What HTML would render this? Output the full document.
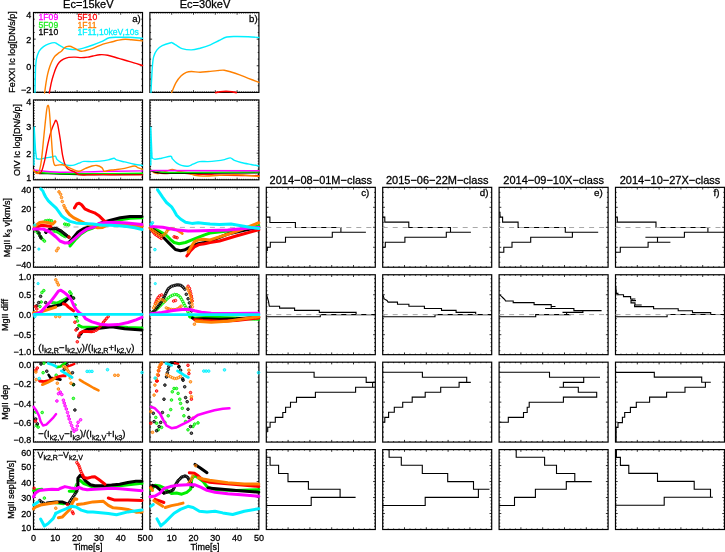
<!DOCTYPE html>
<html><head><meta charset="utf-8"><title>plot</title><style>html,body{margin:0;padding:0;background:#fff;}svg{display:block;}</style></head><body>
<svg width="725" height="552" viewBox="0 0 725 552" font-family="'Liberation Sans', Arial, Helvetica, sans-serif">
<style>text{stroke:currentColor;stroke-width:0.28px;}</style>
<rect width="725" height="552" fill="#fff"/>
<path d="M33.5 19.16h1.2 M142.5 19.16h-1.2 M33.5 25.82h1.2 M142.5 25.82h-1.2 M33.5 32.48h1.2 M142.5 32.48h-1.2 M33.5 39.13h2.2 M142.5 39.13h-2.2 M33.5 45.79h1.2 M142.5 45.79h-1.2 M33.5 52.45h1.2 M142.5 52.45h-1.2 M33.5 59.11h1.2 M142.5 59.11h-1.2 M33.5 65.77h2.2 M142.5 65.77h-2.2 M33.5 72.43h1.2 M142.5 72.43h-1.2 M33.5 79.08h1.2 M142.5 79.08h-1.2 M33.5 85.74h1.2 M142.5 85.74h-1.2 M35.68 12.5v1 M35.68 92.4v-1 M37.86 12.5v1 M37.86 92.4v-1 M40.04 12.5v1 M40.04 92.4v-1 M42.22 12.5v1 M42.22 92.4v-1 M44.4 12.5v1 M44.4 92.4v-1 M46.58 12.5v1 M46.58 92.4v-1 M48.76 12.5v1 M48.76 92.4v-1 M50.94 12.5v1 M50.94 92.4v-1 M53.12 12.5v1 M53.12 92.4v-1 M55.3 12.5v2.2 M55.3 92.4v-2.2 M57.48 12.5v1 M57.48 92.4v-1 M59.66 12.5v1 M59.66 92.4v-1 M61.84 12.5v1 M61.84 92.4v-1 M64.02 12.5v1 M64.02 92.4v-1 M66.2 12.5v1 M66.2 92.4v-1 M68.38 12.5v1 M68.38 92.4v-1 M70.56 12.5v1 M70.56 92.4v-1 M72.74 12.5v1 M72.74 92.4v-1 M74.92 12.5v1 M74.92 92.4v-1 M77.1 12.5v2.2 M77.1 92.4v-2.2 M79.28 12.5v1 M79.28 92.4v-1 M81.46 12.5v1 M81.46 92.4v-1 M83.64 12.5v1 M83.64 92.4v-1 M85.82 12.5v1 M85.82 92.4v-1 M88 12.5v1 M88 92.4v-1 M90.18 12.5v1 M90.18 92.4v-1 M92.36 12.5v1 M92.36 92.4v-1 M94.54 12.5v1 M94.54 92.4v-1 M96.72 12.5v1 M96.72 92.4v-1 M98.9 12.5v2.2 M98.9 92.4v-2.2 M101.08 12.5v1 M101.08 92.4v-1 M103.26 12.5v1 M103.26 92.4v-1 M105.44 12.5v1 M105.44 92.4v-1 M107.62 12.5v1 M107.62 92.4v-1 M109.8 12.5v1 M109.8 92.4v-1 M111.98 12.5v1 M111.98 92.4v-1 M114.16 12.5v1 M114.16 92.4v-1 M116.34 12.5v1 M116.34 92.4v-1 M118.52 12.5v1 M118.52 92.4v-1 M120.7 12.5v2.2 M120.7 92.4v-2.2 M122.88 12.5v1 M122.88 92.4v-1 M125.06 12.5v1 M125.06 92.4v-1 M127.24 12.5v1 M127.24 92.4v-1 M129.42 12.5v1 M129.42 92.4v-1 M131.6 12.5v1 M131.6 92.4v-1 M133.78 12.5v1 M133.78 92.4v-1 M135.96 12.5v1 M135.96 92.4v-1 M138.14 12.5v1 M138.14 92.4v-1 M140.32 12.5v1 M140.32 92.4v-1" stroke="#000" stroke-width="0.8" fill="none"/>
<rect x="33.5" y="12.5" width="109" height="79.9" fill="none" stroke="#000" stroke-width="1.2"/>
<path d="M149.9 19.16h1.2 M258.9 19.16h-1.2 M149.9 25.82h1.2 M258.9 25.82h-1.2 M149.9 32.48h1.2 M258.9 32.48h-1.2 M149.9 39.13h2.2 M258.9 39.13h-2.2 M149.9 45.79h1.2 M258.9 45.79h-1.2 M149.9 52.45h1.2 M258.9 52.45h-1.2 M149.9 59.11h1.2 M258.9 59.11h-1.2 M149.9 65.77h2.2 M258.9 65.77h-2.2 M149.9 72.43h1.2 M258.9 72.43h-1.2 M149.9 79.08h1.2 M258.9 79.08h-1.2 M149.9 85.74h1.2 M258.9 85.74h-1.2 M152.08 12.5v1 M152.08 92.4v-1 M154.26 12.5v1 M154.26 92.4v-1 M156.44 12.5v1 M156.44 92.4v-1 M158.62 12.5v1 M158.62 92.4v-1 M160.8 12.5v1 M160.8 92.4v-1 M162.98 12.5v1 M162.98 92.4v-1 M165.16 12.5v1 M165.16 92.4v-1 M167.34 12.5v1 M167.34 92.4v-1 M169.52 12.5v1 M169.52 92.4v-1 M171.7 12.5v2.2 M171.7 92.4v-2.2 M173.88 12.5v1 M173.88 92.4v-1 M176.06 12.5v1 M176.06 92.4v-1 M178.24 12.5v1 M178.24 92.4v-1 M180.42 12.5v1 M180.42 92.4v-1 M182.6 12.5v1 M182.6 92.4v-1 M184.78 12.5v1 M184.78 92.4v-1 M186.96 12.5v1 M186.96 92.4v-1 M189.14 12.5v1 M189.14 92.4v-1 M191.32 12.5v1 M191.32 92.4v-1 M193.5 12.5v2.2 M193.5 92.4v-2.2 M195.68 12.5v1 M195.68 92.4v-1 M197.86 12.5v1 M197.86 92.4v-1 M200.04 12.5v1 M200.04 92.4v-1 M202.22 12.5v1 M202.22 92.4v-1 M204.4 12.5v1 M204.4 92.4v-1 M206.58 12.5v1 M206.58 92.4v-1 M208.76 12.5v1 M208.76 92.4v-1 M210.94 12.5v1 M210.94 92.4v-1 M213.12 12.5v1 M213.12 92.4v-1 M215.3 12.5v2.2 M215.3 92.4v-2.2 M217.48 12.5v1 M217.48 92.4v-1 M219.66 12.5v1 M219.66 92.4v-1 M221.84 12.5v1 M221.84 92.4v-1 M224.02 12.5v1 M224.02 92.4v-1 M226.2 12.5v1 M226.2 92.4v-1 M228.38 12.5v1 M228.38 92.4v-1 M230.56 12.5v1 M230.56 92.4v-1 M232.74 12.5v1 M232.74 92.4v-1 M234.92 12.5v1 M234.92 92.4v-1 M237.1 12.5v2.2 M237.1 92.4v-2.2 M239.28 12.5v1 M239.28 92.4v-1 M241.46 12.5v1 M241.46 92.4v-1 M243.64 12.5v1 M243.64 92.4v-1 M245.82 12.5v1 M245.82 92.4v-1 M248 12.5v1 M248 92.4v-1 M250.18 12.5v1 M250.18 92.4v-1 M252.36 12.5v1 M252.36 92.4v-1 M254.54 12.5v1 M254.54 92.4v-1 M256.72 12.5v1 M256.72 92.4v-1" stroke="#000" stroke-width="0.8" fill="none"/>
<rect x="149.9" y="12.5" width="109" height="79.9" fill="none" stroke="#000" stroke-width="1.2"/>
<path d="M33.5 102.58h1.2 M142.5 102.58h-1.2 M33.5 105.25h1.2 M142.5 105.25h-1.2 M33.5 107.91h1.2 M142.5 107.91h-1.2 M33.5 110.57h1.2 M142.5 110.57h-1.2 M33.5 113.24h1.2 M142.5 113.24h-1.2 M33.5 115.9h1.2 M142.5 115.9h-1.2 M33.5 118.56h1.2 M142.5 118.56h-1.2 M33.5 121.23h1.2 M142.5 121.23h-1.2 M33.5 123.89h1.2 M142.5 123.89h-1.2 M33.5 126.55h2.2 M142.5 126.55h-2.2 M33.5 129.22h1.2 M142.5 129.22h-1.2 M33.5 131.88h1.2 M142.5 131.88h-1.2 M33.5 134.54h1.2 M142.5 134.54h-1.2 M33.5 137.21h1.2 M142.5 137.21h-1.2 M33.5 139.87h1.2 M142.5 139.87h-1.2 M33.5 142.53h1.2 M142.5 142.53h-1.2 M33.5 145.2h1.2 M142.5 145.2h-1.2 M33.5 147.86h1.2 M142.5 147.86h-1.2 M33.5 150.52h1.2 M142.5 150.52h-1.2 M33.5 153.19h2.2 M142.5 153.19h-2.2 M33.5 155.85h1.2 M142.5 155.85h-1.2 M33.5 158.51h1.2 M142.5 158.51h-1.2 M33.5 161.18h1.2 M142.5 161.18h-1.2 M33.5 163.84h1.2 M142.5 163.84h-1.2 M33.5 166.5h1.2 M142.5 166.5h-1.2 M33.5 169.17h1.2 M142.5 169.17h-1.2 M33.5 171.83h1.2 M142.5 171.83h-1.2 M33.5 174.49h1.2 M142.5 174.49h-1.2 M33.5 177.16h1.2 M142.5 177.16h-1.2 M35.68 99.92v1 M35.68 179.82v-1 M37.86 99.92v1 M37.86 179.82v-1 M40.04 99.92v1 M40.04 179.82v-1 M42.22 99.92v1 M42.22 179.82v-1 M44.4 99.92v1 M44.4 179.82v-1 M46.58 99.92v1 M46.58 179.82v-1 M48.76 99.92v1 M48.76 179.82v-1 M50.94 99.92v1 M50.94 179.82v-1 M53.12 99.92v1 M53.12 179.82v-1 M55.3 99.92v2.2 M55.3 179.82v-2.2 M57.48 99.92v1 M57.48 179.82v-1 M59.66 99.92v1 M59.66 179.82v-1 M61.84 99.92v1 M61.84 179.82v-1 M64.02 99.92v1 M64.02 179.82v-1 M66.2 99.92v1 M66.2 179.82v-1 M68.38 99.92v1 M68.38 179.82v-1 M70.56 99.92v1 M70.56 179.82v-1 M72.74 99.92v1 M72.74 179.82v-1 M74.92 99.92v1 M74.92 179.82v-1 M77.1 99.92v2.2 M77.1 179.82v-2.2 M79.28 99.92v1 M79.28 179.82v-1 M81.46 99.92v1 M81.46 179.82v-1 M83.64 99.92v1 M83.64 179.82v-1 M85.82 99.92v1 M85.82 179.82v-1 M88 99.92v1 M88 179.82v-1 M90.18 99.92v1 M90.18 179.82v-1 M92.36 99.92v1 M92.36 179.82v-1 M94.54 99.92v1 M94.54 179.82v-1 M96.72 99.92v1 M96.72 179.82v-1 M98.9 99.92v2.2 M98.9 179.82v-2.2 M101.08 99.92v1 M101.08 179.82v-1 M103.26 99.92v1 M103.26 179.82v-1 M105.44 99.92v1 M105.44 179.82v-1 M107.62 99.92v1 M107.62 179.82v-1 M109.8 99.92v1 M109.8 179.82v-1 M111.98 99.92v1 M111.98 179.82v-1 M114.16 99.92v1 M114.16 179.82v-1 M116.34 99.92v1 M116.34 179.82v-1 M118.52 99.92v1 M118.52 179.82v-1 M120.7 99.92v2.2 M120.7 179.82v-2.2 M122.88 99.92v1 M122.88 179.82v-1 M125.06 99.92v1 M125.06 179.82v-1 M127.24 99.92v1 M127.24 179.82v-1 M129.42 99.92v1 M129.42 179.82v-1 M131.6 99.92v1 M131.6 179.82v-1 M133.78 99.92v1 M133.78 179.82v-1 M135.96 99.92v1 M135.96 179.82v-1 M138.14 99.92v1 M138.14 179.82v-1 M140.32 99.92v1 M140.32 179.82v-1" stroke="#000" stroke-width="0.8" fill="none"/>
<rect x="33.5" y="99.92" width="109" height="79.9" fill="none" stroke="#000" stroke-width="1.2"/>
<path d="M149.9 102.58h1.2 M258.9 102.58h-1.2 M149.9 105.25h1.2 M258.9 105.25h-1.2 M149.9 107.91h1.2 M258.9 107.91h-1.2 M149.9 110.57h1.2 M258.9 110.57h-1.2 M149.9 113.24h1.2 M258.9 113.24h-1.2 M149.9 115.9h1.2 M258.9 115.9h-1.2 M149.9 118.56h1.2 M258.9 118.56h-1.2 M149.9 121.23h1.2 M258.9 121.23h-1.2 M149.9 123.89h1.2 M258.9 123.89h-1.2 M149.9 126.55h2.2 M258.9 126.55h-2.2 M149.9 129.22h1.2 M258.9 129.22h-1.2 M149.9 131.88h1.2 M258.9 131.88h-1.2 M149.9 134.54h1.2 M258.9 134.54h-1.2 M149.9 137.21h1.2 M258.9 137.21h-1.2 M149.9 139.87h1.2 M258.9 139.87h-1.2 M149.9 142.53h1.2 M258.9 142.53h-1.2 M149.9 145.2h1.2 M258.9 145.2h-1.2 M149.9 147.86h1.2 M258.9 147.86h-1.2 M149.9 150.52h1.2 M258.9 150.52h-1.2 M149.9 153.19h2.2 M258.9 153.19h-2.2 M149.9 155.85h1.2 M258.9 155.85h-1.2 M149.9 158.51h1.2 M258.9 158.51h-1.2 M149.9 161.18h1.2 M258.9 161.18h-1.2 M149.9 163.84h1.2 M258.9 163.84h-1.2 M149.9 166.5h1.2 M258.9 166.5h-1.2 M149.9 169.17h1.2 M258.9 169.17h-1.2 M149.9 171.83h1.2 M258.9 171.83h-1.2 M149.9 174.49h1.2 M258.9 174.49h-1.2 M149.9 177.16h1.2 M258.9 177.16h-1.2 M152.08 99.92v1 M152.08 179.82v-1 M154.26 99.92v1 M154.26 179.82v-1 M156.44 99.92v1 M156.44 179.82v-1 M158.62 99.92v1 M158.62 179.82v-1 M160.8 99.92v1 M160.8 179.82v-1 M162.98 99.92v1 M162.98 179.82v-1 M165.16 99.92v1 M165.16 179.82v-1 M167.34 99.92v1 M167.34 179.82v-1 M169.52 99.92v1 M169.52 179.82v-1 M171.7 99.92v2.2 M171.7 179.82v-2.2 M173.88 99.92v1 M173.88 179.82v-1 M176.06 99.92v1 M176.06 179.82v-1 M178.24 99.92v1 M178.24 179.82v-1 M180.42 99.92v1 M180.42 179.82v-1 M182.6 99.92v1 M182.6 179.82v-1 M184.78 99.92v1 M184.78 179.82v-1 M186.96 99.92v1 M186.96 179.82v-1 M189.14 99.92v1 M189.14 179.82v-1 M191.32 99.92v1 M191.32 179.82v-1 M193.5 99.92v2.2 M193.5 179.82v-2.2 M195.68 99.92v1 M195.68 179.82v-1 M197.86 99.92v1 M197.86 179.82v-1 M200.04 99.92v1 M200.04 179.82v-1 M202.22 99.92v1 M202.22 179.82v-1 M204.4 99.92v1 M204.4 179.82v-1 M206.58 99.92v1 M206.58 179.82v-1 M208.76 99.92v1 M208.76 179.82v-1 M210.94 99.92v1 M210.94 179.82v-1 M213.12 99.92v1 M213.12 179.82v-1 M215.3 99.92v2.2 M215.3 179.82v-2.2 M217.48 99.92v1 M217.48 179.82v-1 M219.66 99.92v1 M219.66 179.82v-1 M221.84 99.92v1 M221.84 179.82v-1 M224.02 99.92v1 M224.02 179.82v-1 M226.2 99.92v1 M226.2 179.82v-1 M228.38 99.92v1 M228.38 179.82v-1 M230.56 99.92v1 M230.56 179.82v-1 M232.74 99.92v1 M232.74 179.82v-1 M234.92 99.92v1 M234.92 179.82v-1 M237.1 99.92v2.2 M237.1 179.82v-2.2 M239.28 99.92v1 M239.28 179.82v-1 M241.46 99.92v1 M241.46 179.82v-1 M243.64 99.92v1 M243.64 179.82v-1 M245.82 99.92v1 M245.82 179.82v-1 M248 99.92v1 M248 179.82v-1 M250.18 99.92v1 M250.18 179.82v-1 M252.36 99.92v1 M252.36 179.82v-1 M254.54 99.92v1 M254.54 179.82v-1 M256.72 99.92v1 M256.72 179.82v-1" stroke="#000" stroke-width="0.8" fill="none"/>
<rect x="149.9" y="99.92" width="109" height="79.9" fill="none" stroke="#000" stroke-width="1.2"/>
<path d="M33.5 192.33h1.2 M142.5 192.33h-1.2 M33.5 197.33h1.2 M142.5 197.33h-1.2 M33.5 202.32h1.2 M142.5 202.32h-1.2 M33.5 207.31h2.2 M142.5 207.31h-2.2 M33.5 212.31h1.2 M142.5 212.31h-1.2 M33.5 217.3h1.2 M142.5 217.3h-1.2 M33.5 222.3h1.2 M142.5 222.3h-1.2 M33.5 227.29h2.2 M142.5 227.29h-2.2 M33.5 232.28h1.2 M142.5 232.28h-1.2 M33.5 237.28h1.2 M142.5 237.28h-1.2 M33.5 242.27h1.2 M142.5 242.27h-1.2 M33.5 247.27h2.2 M142.5 247.27h-2.2 M33.5 252.26h1.2 M142.5 252.26h-1.2 M33.5 257.25h1.2 M142.5 257.25h-1.2 M33.5 262.25h1.2 M142.5 262.25h-1.2 M35.68 187.34v1 M35.68 267.24v-1 M37.86 187.34v1 M37.86 267.24v-1 M40.04 187.34v1 M40.04 267.24v-1 M42.22 187.34v1 M42.22 267.24v-1 M44.4 187.34v1 M44.4 267.24v-1 M46.58 187.34v1 M46.58 267.24v-1 M48.76 187.34v1 M48.76 267.24v-1 M50.94 187.34v1 M50.94 267.24v-1 M53.12 187.34v1 M53.12 267.24v-1 M55.3 187.34v2.2 M55.3 267.24v-2.2 M57.48 187.34v1 M57.48 267.24v-1 M59.66 187.34v1 M59.66 267.24v-1 M61.84 187.34v1 M61.84 267.24v-1 M64.02 187.34v1 M64.02 267.24v-1 M66.2 187.34v1 M66.2 267.24v-1 M68.38 187.34v1 M68.38 267.24v-1 M70.56 187.34v1 M70.56 267.24v-1 M72.74 187.34v1 M72.74 267.24v-1 M74.92 187.34v1 M74.92 267.24v-1 M77.1 187.34v2.2 M77.1 267.24v-2.2 M79.28 187.34v1 M79.28 267.24v-1 M81.46 187.34v1 M81.46 267.24v-1 M83.64 187.34v1 M83.64 267.24v-1 M85.82 187.34v1 M85.82 267.24v-1 M88 187.34v1 M88 267.24v-1 M90.18 187.34v1 M90.18 267.24v-1 M92.36 187.34v1 M92.36 267.24v-1 M94.54 187.34v1 M94.54 267.24v-1 M96.72 187.34v1 M96.72 267.24v-1 M98.9 187.34v2.2 M98.9 267.24v-2.2 M101.08 187.34v1 M101.08 267.24v-1 M103.26 187.34v1 M103.26 267.24v-1 M105.44 187.34v1 M105.44 267.24v-1 M107.62 187.34v1 M107.62 267.24v-1 M109.8 187.34v1 M109.8 267.24v-1 M111.98 187.34v1 M111.98 267.24v-1 M114.16 187.34v1 M114.16 267.24v-1 M116.34 187.34v1 M116.34 267.24v-1 M118.52 187.34v1 M118.52 267.24v-1 M120.7 187.34v2.2 M120.7 267.24v-2.2 M122.88 187.34v1 M122.88 267.24v-1 M125.06 187.34v1 M125.06 267.24v-1 M127.24 187.34v1 M127.24 267.24v-1 M129.42 187.34v1 M129.42 267.24v-1 M131.6 187.34v1 M131.6 267.24v-1 M133.78 187.34v1 M133.78 267.24v-1 M135.96 187.34v1 M135.96 267.24v-1 M138.14 187.34v1 M138.14 267.24v-1 M140.32 187.34v1 M140.32 267.24v-1" stroke="#000" stroke-width="0.8" fill="none"/>
<rect x="33.5" y="187.34" width="109" height="79.9" fill="none" stroke="#000" stroke-width="1.2"/>
<path d="M149.9 192.33h1.2 M258.9 192.33h-1.2 M149.9 197.33h1.2 M258.9 197.33h-1.2 M149.9 202.32h1.2 M258.9 202.32h-1.2 M149.9 207.31h2.2 M258.9 207.31h-2.2 M149.9 212.31h1.2 M258.9 212.31h-1.2 M149.9 217.3h1.2 M258.9 217.3h-1.2 M149.9 222.3h1.2 M258.9 222.3h-1.2 M149.9 227.29h2.2 M258.9 227.29h-2.2 M149.9 232.28h1.2 M258.9 232.28h-1.2 M149.9 237.28h1.2 M258.9 237.28h-1.2 M149.9 242.27h1.2 M258.9 242.27h-1.2 M149.9 247.27h2.2 M258.9 247.27h-2.2 M149.9 252.26h1.2 M258.9 252.26h-1.2 M149.9 257.25h1.2 M258.9 257.25h-1.2 M149.9 262.25h1.2 M258.9 262.25h-1.2 M152.08 187.34v1 M152.08 267.24v-1 M154.26 187.34v1 M154.26 267.24v-1 M156.44 187.34v1 M156.44 267.24v-1 M158.62 187.34v1 M158.62 267.24v-1 M160.8 187.34v1 M160.8 267.24v-1 M162.98 187.34v1 M162.98 267.24v-1 M165.16 187.34v1 M165.16 267.24v-1 M167.34 187.34v1 M167.34 267.24v-1 M169.52 187.34v1 M169.52 267.24v-1 M171.7 187.34v2.2 M171.7 267.24v-2.2 M173.88 187.34v1 M173.88 267.24v-1 M176.06 187.34v1 M176.06 267.24v-1 M178.24 187.34v1 M178.24 267.24v-1 M180.42 187.34v1 M180.42 267.24v-1 M182.6 187.34v1 M182.6 267.24v-1 M184.78 187.34v1 M184.78 267.24v-1 M186.96 187.34v1 M186.96 267.24v-1 M189.14 187.34v1 M189.14 267.24v-1 M191.32 187.34v1 M191.32 267.24v-1 M193.5 187.34v2.2 M193.5 267.24v-2.2 M195.68 187.34v1 M195.68 267.24v-1 M197.86 187.34v1 M197.86 267.24v-1 M200.04 187.34v1 M200.04 267.24v-1 M202.22 187.34v1 M202.22 267.24v-1 M204.4 187.34v1 M204.4 267.24v-1 M206.58 187.34v1 M206.58 267.24v-1 M208.76 187.34v1 M208.76 267.24v-1 M210.94 187.34v1 M210.94 267.24v-1 M213.12 187.34v1 M213.12 267.24v-1 M215.3 187.34v2.2 M215.3 267.24v-2.2 M217.48 187.34v1 M217.48 267.24v-1 M219.66 187.34v1 M219.66 267.24v-1 M221.84 187.34v1 M221.84 267.24v-1 M224.02 187.34v1 M224.02 267.24v-1 M226.2 187.34v1 M226.2 267.24v-1 M228.38 187.34v1 M228.38 267.24v-1 M230.56 187.34v1 M230.56 267.24v-1 M232.74 187.34v1 M232.74 267.24v-1 M234.92 187.34v1 M234.92 267.24v-1 M237.1 187.34v2.2 M237.1 267.24v-2.2 M239.28 187.34v1 M239.28 267.24v-1 M241.46 187.34v1 M241.46 267.24v-1 M243.64 187.34v1 M243.64 267.24v-1 M245.82 187.34v1 M245.82 267.24v-1 M248 187.34v1 M248 267.24v-1 M250.18 187.34v1 M250.18 267.24v-1 M252.36 187.34v1 M252.36 267.24v-1 M254.54 187.34v1 M254.54 267.24v-1 M256.72 187.34v1 M256.72 267.24v-1" stroke="#000" stroke-width="0.8" fill="none"/>
<rect x="149.9" y="187.34" width="109" height="79.9" fill="none" stroke="#000" stroke-width="1.2"/>
<path d="M266.3 192.33h1.2 M375.3 192.33h-1.2 M266.3 197.33h1.2 M375.3 197.33h-1.2 M266.3 202.32h1.2 M375.3 202.32h-1.2 M266.3 207.31h2.2 M375.3 207.31h-2.2 M266.3 212.31h1.2 M375.3 212.31h-1.2 M266.3 217.3h1.2 M375.3 217.3h-1.2 M266.3 222.3h1.2 M375.3 222.3h-1.2 M266.3 227.29h2.2 M375.3 227.29h-2.2 M266.3 232.28h1.2 M375.3 232.28h-1.2 M266.3 237.28h1.2 M375.3 237.28h-1.2 M266.3 242.27h1.2 M375.3 242.27h-1.2 M266.3 247.27h2.2 M375.3 247.27h-2.2 M266.3 252.26h1.2 M375.3 252.26h-1.2 M266.3 257.25h1.2 M375.3 257.25h-1.2 M266.3 262.25h1.2 M375.3 262.25h-1.2 M271.75 187.34v1 M271.75 267.24v-1 M277.2 187.34v1 M277.2 267.24v-1 M282.65 187.34v1 M282.65 267.24v-1 M288.1 187.34v2.2 M288.1 267.24v-2.2 M293.55 187.34v1 M293.55 267.24v-1 M299 187.34v1 M299 267.24v-1 M304.45 187.34v1 M304.45 267.24v-1 M309.9 187.34v2.2 M309.9 267.24v-2.2 M315.35 187.34v1 M315.35 267.24v-1 M320.8 187.34v1 M320.8 267.24v-1 M326.25 187.34v1 M326.25 267.24v-1 M331.7 187.34v2.2 M331.7 267.24v-2.2 M337.15 187.34v1 M337.15 267.24v-1 M342.6 187.34v1 M342.6 267.24v-1 M348.05 187.34v1 M348.05 267.24v-1 M353.5 187.34v2.2 M353.5 267.24v-2.2 M358.95 187.34v1 M358.95 267.24v-1 M364.4 187.34v1 M364.4 267.24v-1 M369.85 187.34v1 M369.85 267.24v-1" stroke="#000" stroke-width="0.8" fill="none"/>
<rect x="266.3" y="187.34" width="109" height="79.9" fill="none" stroke="#000" stroke-width="1.2"/>
<path d="M382.7 192.33h1.2 M491.7 192.33h-1.2 M382.7 197.33h1.2 M491.7 197.33h-1.2 M382.7 202.32h1.2 M491.7 202.32h-1.2 M382.7 207.31h2.2 M491.7 207.31h-2.2 M382.7 212.31h1.2 M491.7 212.31h-1.2 M382.7 217.3h1.2 M491.7 217.3h-1.2 M382.7 222.3h1.2 M491.7 222.3h-1.2 M382.7 227.29h2.2 M491.7 227.29h-2.2 M382.7 232.28h1.2 M491.7 232.28h-1.2 M382.7 237.28h1.2 M491.7 237.28h-1.2 M382.7 242.27h1.2 M491.7 242.27h-1.2 M382.7 247.27h2.2 M491.7 247.27h-2.2 M382.7 252.26h1.2 M491.7 252.26h-1.2 M382.7 257.25h1.2 M491.7 257.25h-1.2 M382.7 262.25h1.2 M491.7 262.25h-1.2 M388.15 187.34v1 M388.15 267.24v-1 M393.6 187.34v1 M393.6 267.24v-1 M399.05 187.34v1 M399.05 267.24v-1 M404.5 187.34v2.2 M404.5 267.24v-2.2 M409.95 187.34v1 M409.95 267.24v-1 M415.4 187.34v1 M415.4 267.24v-1 M420.85 187.34v1 M420.85 267.24v-1 M426.3 187.34v2.2 M426.3 267.24v-2.2 M431.75 187.34v1 M431.75 267.24v-1 M437.2 187.34v1 M437.2 267.24v-1 M442.65 187.34v1 M442.65 267.24v-1 M448.1 187.34v2.2 M448.1 267.24v-2.2 M453.55 187.34v1 M453.55 267.24v-1 M459 187.34v1 M459 267.24v-1 M464.45 187.34v1 M464.45 267.24v-1 M469.9 187.34v2.2 M469.9 267.24v-2.2 M475.35 187.34v1 M475.35 267.24v-1 M480.8 187.34v1 M480.8 267.24v-1 M486.25 187.34v1 M486.25 267.24v-1" stroke="#000" stroke-width="0.8" fill="none"/>
<rect x="382.7" y="187.34" width="109" height="79.9" fill="none" stroke="#000" stroke-width="1.2"/>
<path d="M499.1 192.33h1.2 M608.1 192.33h-1.2 M499.1 197.33h1.2 M608.1 197.33h-1.2 M499.1 202.32h1.2 M608.1 202.32h-1.2 M499.1 207.31h2.2 M608.1 207.31h-2.2 M499.1 212.31h1.2 M608.1 212.31h-1.2 M499.1 217.3h1.2 M608.1 217.3h-1.2 M499.1 222.3h1.2 M608.1 222.3h-1.2 M499.1 227.29h2.2 M608.1 227.29h-2.2 M499.1 232.28h1.2 M608.1 232.28h-1.2 M499.1 237.28h1.2 M608.1 237.28h-1.2 M499.1 242.27h1.2 M608.1 242.27h-1.2 M499.1 247.27h2.2 M608.1 247.27h-2.2 M499.1 252.26h1.2 M608.1 252.26h-1.2 M499.1 257.25h1.2 M608.1 257.25h-1.2 M499.1 262.25h1.2 M608.1 262.25h-1.2 M504.55 187.34v1 M504.55 267.24v-1 M510 187.34v1 M510 267.24v-1 M515.45 187.34v1 M515.45 267.24v-1 M520.9 187.34v2.2 M520.9 267.24v-2.2 M526.35 187.34v1 M526.35 267.24v-1 M531.8 187.34v1 M531.8 267.24v-1 M537.25 187.34v1 M537.25 267.24v-1 M542.7 187.34v2.2 M542.7 267.24v-2.2 M548.15 187.34v1 M548.15 267.24v-1 M553.6 187.34v1 M553.6 267.24v-1 M559.05 187.34v1 M559.05 267.24v-1 M564.5 187.34v2.2 M564.5 267.24v-2.2 M569.95 187.34v1 M569.95 267.24v-1 M575.4 187.34v1 M575.4 267.24v-1 M580.85 187.34v1 M580.85 267.24v-1 M586.3 187.34v2.2 M586.3 267.24v-2.2 M591.75 187.34v1 M591.75 267.24v-1 M597.2 187.34v1 M597.2 267.24v-1 M602.65 187.34v1 M602.65 267.24v-1" stroke="#000" stroke-width="0.8" fill="none"/>
<rect x="499.1" y="187.34" width="109" height="79.9" fill="none" stroke="#000" stroke-width="1.2"/>
<path d="M615.5 192.33h1.2 M724.5 192.33h-1.2 M615.5 197.33h1.2 M724.5 197.33h-1.2 M615.5 202.32h1.2 M724.5 202.32h-1.2 M615.5 207.31h2.2 M724.5 207.31h-2.2 M615.5 212.31h1.2 M724.5 212.31h-1.2 M615.5 217.3h1.2 M724.5 217.3h-1.2 M615.5 222.3h1.2 M724.5 222.3h-1.2 M615.5 227.29h2.2 M724.5 227.29h-2.2 M615.5 232.28h1.2 M724.5 232.28h-1.2 M615.5 237.28h1.2 M724.5 237.28h-1.2 M615.5 242.27h1.2 M724.5 242.27h-1.2 M615.5 247.27h2.2 M724.5 247.27h-2.2 M615.5 252.26h1.2 M724.5 252.26h-1.2 M615.5 257.25h1.2 M724.5 257.25h-1.2 M615.5 262.25h1.2 M724.5 262.25h-1.2 M620.95 187.34v1 M620.95 267.24v-1 M626.4 187.34v1 M626.4 267.24v-1 M631.85 187.34v1 M631.85 267.24v-1 M637.3 187.34v2.2 M637.3 267.24v-2.2 M642.75 187.34v1 M642.75 267.24v-1 M648.2 187.34v1 M648.2 267.24v-1 M653.65 187.34v1 M653.65 267.24v-1 M659.1 187.34v2.2 M659.1 267.24v-2.2 M664.55 187.34v1 M664.55 267.24v-1 M670 187.34v1 M670 267.24v-1 M675.45 187.34v1 M675.45 267.24v-1 M680.9 187.34v2.2 M680.9 267.24v-2.2 M686.35 187.34v1 M686.35 267.24v-1 M691.8 187.34v1 M691.8 267.24v-1 M697.25 187.34v1 M697.25 267.24v-1 M702.7 187.34v2.2 M702.7 267.24v-2.2 M708.15 187.34v1 M708.15 267.24v-1 M713.6 187.34v1 M713.6 267.24v-1 M719.05 187.34v1 M719.05 267.24v-1" stroke="#000" stroke-width="0.8" fill="none"/>
<rect x="615.5" y="187.34" width="109" height="79.9" fill="none" stroke="#000" stroke-width="1.2"/>
<path d="M33.5 278.75h1.2 M142.5 278.75h-1.2 M33.5 282.75h1.2 M142.5 282.75h-1.2 M33.5 286.75h1.2 M142.5 286.75h-1.2 M33.5 290.74h1.2 M142.5 290.74h-1.2 M33.5 294.74h2.2 M142.5 294.74h-2.2 M33.5 298.73h1.2 M142.5 298.73h-1.2 M33.5 302.73h1.2 M142.5 302.73h-1.2 M33.5 306.72h1.2 M142.5 306.72h-1.2 M33.5 310.71h1.2 M142.5 310.71h-1.2 M33.5 314.71h2.2 M142.5 314.71h-2.2 M33.5 318.7h1.2 M142.5 318.7h-1.2 M33.5 322.7h1.2 M142.5 322.7h-1.2 M33.5 326.69h1.2 M142.5 326.69h-1.2 M33.5 330.69h1.2 M142.5 330.69h-1.2 M33.5 334.69h2.2 M142.5 334.69h-2.2 M33.5 338.68h1.2 M142.5 338.68h-1.2 M33.5 342.68h1.2 M142.5 342.68h-1.2 M33.5 346.67h1.2 M142.5 346.67h-1.2 M33.5 350.66h1.2 M142.5 350.66h-1.2 M35.68 274.76v1 M35.68 354.66v-1 M37.86 274.76v1 M37.86 354.66v-1 M40.04 274.76v1 M40.04 354.66v-1 M42.22 274.76v1 M42.22 354.66v-1 M44.4 274.76v1 M44.4 354.66v-1 M46.58 274.76v1 M46.58 354.66v-1 M48.76 274.76v1 M48.76 354.66v-1 M50.94 274.76v1 M50.94 354.66v-1 M53.12 274.76v1 M53.12 354.66v-1 M55.3 274.76v2.2 M55.3 354.66v-2.2 M57.48 274.76v1 M57.48 354.66v-1 M59.66 274.76v1 M59.66 354.66v-1 M61.84 274.76v1 M61.84 354.66v-1 M64.02 274.76v1 M64.02 354.66v-1 M66.2 274.76v1 M66.2 354.66v-1 M68.38 274.76v1 M68.38 354.66v-1 M70.56 274.76v1 M70.56 354.66v-1 M72.74 274.76v1 M72.74 354.66v-1 M74.92 274.76v1 M74.92 354.66v-1 M77.1 274.76v2.2 M77.1 354.66v-2.2 M79.28 274.76v1 M79.28 354.66v-1 M81.46 274.76v1 M81.46 354.66v-1 M83.64 274.76v1 M83.64 354.66v-1 M85.82 274.76v1 M85.82 354.66v-1 M88 274.76v1 M88 354.66v-1 M90.18 274.76v1 M90.18 354.66v-1 M92.36 274.76v1 M92.36 354.66v-1 M94.54 274.76v1 M94.54 354.66v-1 M96.72 274.76v1 M96.72 354.66v-1 M98.9 274.76v2.2 M98.9 354.66v-2.2 M101.08 274.76v1 M101.08 354.66v-1 M103.26 274.76v1 M103.26 354.66v-1 M105.44 274.76v1 M105.44 354.66v-1 M107.62 274.76v1 M107.62 354.66v-1 M109.8 274.76v1 M109.8 354.66v-1 M111.98 274.76v1 M111.98 354.66v-1 M114.16 274.76v1 M114.16 354.66v-1 M116.34 274.76v1 M116.34 354.66v-1 M118.52 274.76v1 M118.52 354.66v-1 M120.7 274.76v2.2 M120.7 354.66v-2.2 M122.88 274.76v1 M122.88 354.66v-1 M125.06 274.76v1 M125.06 354.66v-1 M127.24 274.76v1 M127.24 354.66v-1 M129.42 274.76v1 M129.42 354.66v-1 M131.6 274.76v1 M131.6 354.66v-1 M133.78 274.76v1 M133.78 354.66v-1 M135.96 274.76v1 M135.96 354.66v-1 M138.14 274.76v1 M138.14 354.66v-1 M140.32 274.76v1 M140.32 354.66v-1" stroke="#000" stroke-width="0.8" fill="none"/>
<rect x="33.5" y="274.76" width="109" height="79.9" fill="none" stroke="#000" stroke-width="1.2"/>
<path d="M149.9 278.75h1.2 M258.9 278.75h-1.2 M149.9 282.75h1.2 M258.9 282.75h-1.2 M149.9 286.75h1.2 M258.9 286.75h-1.2 M149.9 290.74h1.2 M258.9 290.74h-1.2 M149.9 294.74h2.2 M258.9 294.74h-2.2 M149.9 298.73h1.2 M258.9 298.73h-1.2 M149.9 302.73h1.2 M258.9 302.73h-1.2 M149.9 306.72h1.2 M258.9 306.72h-1.2 M149.9 310.71h1.2 M258.9 310.71h-1.2 M149.9 314.71h2.2 M258.9 314.71h-2.2 M149.9 318.7h1.2 M258.9 318.7h-1.2 M149.9 322.7h1.2 M258.9 322.7h-1.2 M149.9 326.69h1.2 M258.9 326.69h-1.2 M149.9 330.69h1.2 M258.9 330.69h-1.2 M149.9 334.69h2.2 M258.9 334.69h-2.2 M149.9 338.68h1.2 M258.9 338.68h-1.2 M149.9 342.68h1.2 M258.9 342.68h-1.2 M149.9 346.67h1.2 M258.9 346.67h-1.2 M149.9 350.66h1.2 M258.9 350.66h-1.2 M152.08 274.76v1 M152.08 354.66v-1 M154.26 274.76v1 M154.26 354.66v-1 M156.44 274.76v1 M156.44 354.66v-1 M158.62 274.76v1 M158.62 354.66v-1 M160.8 274.76v1 M160.8 354.66v-1 M162.98 274.76v1 M162.98 354.66v-1 M165.16 274.76v1 M165.16 354.66v-1 M167.34 274.76v1 M167.34 354.66v-1 M169.52 274.76v1 M169.52 354.66v-1 M171.7 274.76v2.2 M171.7 354.66v-2.2 M173.88 274.76v1 M173.88 354.66v-1 M176.06 274.76v1 M176.06 354.66v-1 M178.24 274.76v1 M178.24 354.66v-1 M180.42 274.76v1 M180.42 354.66v-1 M182.6 274.76v1 M182.6 354.66v-1 M184.78 274.76v1 M184.78 354.66v-1 M186.96 274.76v1 M186.96 354.66v-1 M189.14 274.76v1 M189.14 354.66v-1 M191.32 274.76v1 M191.32 354.66v-1 M193.5 274.76v2.2 M193.5 354.66v-2.2 M195.68 274.76v1 M195.68 354.66v-1 M197.86 274.76v1 M197.86 354.66v-1 M200.04 274.76v1 M200.04 354.66v-1 M202.22 274.76v1 M202.22 354.66v-1 M204.4 274.76v1 M204.4 354.66v-1 M206.58 274.76v1 M206.58 354.66v-1 M208.76 274.76v1 M208.76 354.66v-1 M210.94 274.76v1 M210.94 354.66v-1 M213.12 274.76v1 M213.12 354.66v-1 M215.3 274.76v2.2 M215.3 354.66v-2.2 M217.48 274.76v1 M217.48 354.66v-1 M219.66 274.76v1 M219.66 354.66v-1 M221.84 274.76v1 M221.84 354.66v-1 M224.02 274.76v1 M224.02 354.66v-1 M226.2 274.76v1 M226.2 354.66v-1 M228.38 274.76v1 M228.38 354.66v-1 M230.56 274.76v1 M230.56 354.66v-1 M232.74 274.76v1 M232.74 354.66v-1 M234.92 274.76v1 M234.92 354.66v-1 M237.1 274.76v2.2 M237.1 354.66v-2.2 M239.28 274.76v1 M239.28 354.66v-1 M241.46 274.76v1 M241.46 354.66v-1 M243.64 274.76v1 M243.64 354.66v-1 M245.82 274.76v1 M245.82 354.66v-1 M248 274.76v1 M248 354.66v-1 M250.18 274.76v1 M250.18 354.66v-1 M252.36 274.76v1 M252.36 354.66v-1 M254.54 274.76v1 M254.54 354.66v-1 M256.72 274.76v1 M256.72 354.66v-1" stroke="#000" stroke-width="0.8" fill="none"/>
<rect x="149.9" y="274.76" width="109" height="79.9" fill="none" stroke="#000" stroke-width="1.2"/>
<path d="M266.3 278.75h1.2 M375.3 278.75h-1.2 M266.3 282.75h1.2 M375.3 282.75h-1.2 M266.3 286.75h1.2 M375.3 286.75h-1.2 M266.3 290.74h1.2 M375.3 290.74h-1.2 M266.3 294.74h2.2 M375.3 294.74h-2.2 M266.3 298.73h1.2 M375.3 298.73h-1.2 M266.3 302.73h1.2 M375.3 302.73h-1.2 M266.3 306.72h1.2 M375.3 306.72h-1.2 M266.3 310.71h1.2 M375.3 310.71h-1.2 M266.3 314.71h2.2 M375.3 314.71h-2.2 M266.3 318.7h1.2 M375.3 318.7h-1.2 M266.3 322.7h1.2 M375.3 322.7h-1.2 M266.3 326.69h1.2 M375.3 326.69h-1.2 M266.3 330.69h1.2 M375.3 330.69h-1.2 M266.3 334.69h2.2 M375.3 334.69h-2.2 M266.3 338.68h1.2 M375.3 338.68h-1.2 M266.3 342.68h1.2 M375.3 342.68h-1.2 M266.3 346.67h1.2 M375.3 346.67h-1.2 M266.3 350.66h1.2 M375.3 350.66h-1.2 M271.75 274.76v1 M271.75 354.66v-1 M277.2 274.76v1 M277.2 354.66v-1 M282.65 274.76v1 M282.65 354.66v-1 M288.1 274.76v2.2 M288.1 354.66v-2.2 M293.55 274.76v1 M293.55 354.66v-1 M299 274.76v1 M299 354.66v-1 M304.45 274.76v1 M304.45 354.66v-1 M309.9 274.76v2.2 M309.9 354.66v-2.2 M315.35 274.76v1 M315.35 354.66v-1 M320.8 274.76v1 M320.8 354.66v-1 M326.25 274.76v1 M326.25 354.66v-1 M331.7 274.76v2.2 M331.7 354.66v-2.2 M337.15 274.76v1 M337.15 354.66v-1 M342.6 274.76v1 M342.6 354.66v-1 M348.05 274.76v1 M348.05 354.66v-1 M353.5 274.76v2.2 M353.5 354.66v-2.2 M358.95 274.76v1 M358.95 354.66v-1 M364.4 274.76v1 M364.4 354.66v-1 M369.85 274.76v1 M369.85 354.66v-1" stroke="#000" stroke-width="0.8" fill="none"/>
<rect x="266.3" y="274.76" width="109" height="79.9" fill="none" stroke="#000" stroke-width="1.2"/>
<path d="M382.7 278.75h1.2 M491.7 278.75h-1.2 M382.7 282.75h1.2 M491.7 282.75h-1.2 M382.7 286.75h1.2 M491.7 286.75h-1.2 M382.7 290.74h1.2 M491.7 290.74h-1.2 M382.7 294.74h2.2 M491.7 294.74h-2.2 M382.7 298.73h1.2 M491.7 298.73h-1.2 M382.7 302.73h1.2 M491.7 302.73h-1.2 M382.7 306.72h1.2 M491.7 306.72h-1.2 M382.7 310.71h1.2 M491.7 310.71h-1.2 M382.7 314.71h2.2 M491.7 314.71h-2.2 M382.7 318.7h1.2 M491.7 318.7h-1.2 M382.7 322.7h1.2 M491.7 322.7h-1.2 M382.7 326.69h1.2 M491.7 326.69h-1.2 M382.7 330.69h1.2 M491.7 330.69h-1.2 M382.7 334.69h2.2 M491.7 334.69h-2.2 M382.7 338.68h1.2 M491.7 338.68h-1.2 M382.7 342.68h1.2 M491.7 342.68h-1.2 M382.7 346.67h1.2 M491.7 346.67h-1.2 M382.7 350.66h1.2 M491.7 350.66h-1.2 M388.15 274.76v1 M388.15 354.66v-1 M393.6 274.76v1 M393.6 354.66v-1 M399.05 274.76v1 M399.05 354.66v-1 M404.5 274.76v2.2 M404.5 354.66v-2.2 M409.95 274.76v1 M409.95 354.66v-1 M415.4 274.76v1 M415.4 354.66v-1 M420.85 274.76v1 M420.85 354.66v-1 M426.3 274.76v2.2 M426.3 354.66v-2.2 M431.75 274.76v1 M431.75 354.66v-1 M437.2 274.76v1 M437.2 354.66v-1 M442.65 274.76v1 M442.65 354.66v-1 M448.1 274.76v2.2 M448.1 354.66v-2.2 M453.55 274.76v1 M453.55 354.66v-1 M459 274.76v1 M459 354.66v-1 M464.45 274.76v1 M464.45 354.66v-1 M469.9 274.76v2.2 M469.9 354.66v-2.2 M475.35 274.76v1 M475.35 354.66v-1 M480.8 274.76v1 M480.8 354.66v-1 M486.25 274.76v1 M486.25 354.66v-1" stroke="#000" stroke-width="0.8" fill="none"/>
<rect x="382.7" y="274.76" width="109" height="79.9" fill="none" stroke="#000" stroke-width="1.2"/>
<path d="M499.1 278.75h1.2 M608.1 278.75h-1.2 M499.1 282.75h1.2 M608.1 282.75h-1.2 M499.1 286.75h1.2 M608.1 286.75h-1.2 M499.1 290.74h1.2 M608.1 290.74h-1.2 M499.1 294.74h2.2 M608.1 294.74h-2.2 M499.1 298.73h1.2 M608.1 298.73h-1.2 M499.1 302.73h1.2 M608.1 302.73h-1.2 M499.1 306.72h1.2 M608.1 306.72h-1.2 M499.1 310.71h1.2 M608.1 310.71h-1.2 M499.1 314.71h2.2 M608.1 314.71h-2.2 M499.1 318.7h1.2 M608.1 318.7h-1.2 M499.1 322.7h1.2 M608.1 322.7h-1.2 M499.1 326.69h1.2 M608.1 326.69h-1.2 M499.1 330.69h1.2 M608.1 330.69h-1.2 M499.1 334.69h2.2 M608.1 334.69h-2.2 M499.1 338.68h1.2 M608.1 338.68h-1.2 M499.1 342.68h1.2 M608.1 342.68h-1.2 M499.1 346.67h1.2 M608.1 346.67h-1.2 M499.1 350.66h1.2 M608.1 350.66h-1.2 M504.55 274.76v1 M504.55 354.66v-1 M510 274.76v1 M510 354.66v-1 M515.45 274.76v1 M515.45 354.66v-1 M520.9 274.76v2.2 M520.9 354.66v-2.2 M526.35 274.76v1 M526.35 354.66v-1 M531.8 274.76v1 M531.8 354.66v-1 M537.25 274.76v1 M537.25 354.66v-1 M542.7 274.76v2.2 M542.7 354.66v-2.2 M548.15 274.76v1 M548.15 354.66v-1 M553.6 274.76v1 M553.6 354.66v-1 M559.05 274.76v1 M559.05 354.66v-1 M564.5 274.76v2.2 M564.5 354.66v-2.2 M569.95 274.76v1 M569.95 354.66v-1 M575.4 274.76v1 M575.4 354.66v-1 M580.85 274.76v1 M580.85 354.66v-1 M586.3 274.76v2.2 M586.3 354.66v-2.2 M591.75 274.76v1 M591.75 354.66v-1 M597.2 274.76v1 M597.2 354.66v-1 M602.65 274.76v1 M602.65 354.66v-1" stroke="#000" stroke-width="0.8" fill="none"/>
<rect x="499.1" y="274.76" width="109" height="79.9" fill="none" stroke="#000" stroke-width="1.2"/>
<path d="M615.5 278.75h1.2 M724.5 278.75h-1.2 M615.5 282.75h1.2 M724.5 282.75h-1.2 M615.5 286.75h1.2 M724.5 286.75h-1.2 M615.5 290.74h1.2 M724.5 290.74h-1.2 M615.5 294.74h2.2 M724.5 294.74h-2.2 M615.5 298.73h1.2 M724.5 298.73h-1.2 M615.5 302.73h1.2 M724.5 302.73h-1.2 M615.5 306.72h1.2 M724.5 306.72h-1.2 M615.5 310.71h1.2 M724.5 310.71h-1.2 M615.5 314.71h2.2 M724.5 314.71h-2.2 M615.5 318.7h1.2 M724.5 318.7h-1.2 M615.5 322.7h1.2 M724.5 322.7h-1.2 M615.5 326.69h1.2 M724.5 326.69h-1.2 M615.5 330.69h1.2 M724.5 330.69h-1.2 M615.5 334.69h2.2 M724.5 334.69h-2.2 M615.5 338.68h1.2 M724.5 338.68h-1.2 M615.5 342.68h1.2 M724.5 342.68h-1.2 M615.5 346.67h1.2 M724.5 346.67h-1.2 M615.5 350.66h1.2 M724.5 350.66h-1.2 M620.95 274.76v1 M620.95 354.66v-1 M626.4 274.76v1 M626.4 354.66v-1 M631.85 274.76v1 M631.85 354.66v-1 M637.3 274.76v2.2 M637.3 354.66v-2.2 M642.75 274.76v1 M642.75 354.66v-1 M648.2 274.76v1 M648.2 354.66v-1 M653.65 274.76v1 M653.65 354.66v-1 M659.1 274.76v2.2 M659.1 354.66v-2.2 M664.55 274.76v1 M664.55 354.66v-1 M670 274.76v1 M670 354.66v-1 M675.45 274.76v1 M675.45 354.66v-1 M680.9 274.76v2.2 M680.9 354.66v-2.2 M686.35 274.76v1 M686.35 354.66v-1 M691.8 274.76v1 M691.8 354.66v-1 M697.25 274.76v1 M697.25 354.66v-1 M702.7 274.76v2.2 M702.7 354.66v-2.2 M708.15 274.76v1 M708.15 354.66v-1 M713.6 274.76v1 M713.6 354.66v-1 M719.05 274.76v1 M719.05 354.66v-1" stroke="#000" stroke-width="0.8" fill="none"/>
<rect x="615.5" y="274.76" width="109" height="79.9" fill="none" stroke="#000" stroke-width="1.2"/>
<path d="M33.5 367.17h1.2 M142.5 367.17h-1.2 M33.5 372.17h1.2 M142.5 372.17h-1.2 M33.5 377.16h1.2 M142.5 377.16h-1.2 M33.5 382.16h2.2 M142.5 382.16h-2.2 M33.5 387.15h1.2 M142.5 387.15h-1.2 M33.5 392.14h1.2 M142.5 392.14h-1.2 M33.5 397.14h1.2 M142.5 397.14h-1.2 M33.5 402.13h2.2 M142.5 402.13h-2.2 M33.5 407.12h1.2 M142.5 407.12h-1.2 M33.5 412.12h1.2 M142.5 412.12h-1.2 M33.5 417.11h1.2 M142.5 417.11h-1.2 M33.5 422.11h2.2 M142.5 422.11h-2.2 M33.5 427.1h1.2 M142.5 427.1h-1.2 M33.5 432.09h1.2 M142.5 432.09h-1.2 M33.5 437.09h1.2 M142.5 437.09h-1.2 M35.68 362.18v1 M35.68 442.08v-1 M37.86 362.18v1 M37.86 442.08v-1 M40.04 362.18v1 M40.04 442.08v-1 M42.22 362.18v1 M42.22 442.08v-1 M44.4 362.18v1 M44.4 442.08v-1 M46.58 362.18v1 M46.58 442.08v-1 M48.76 362.18v1 M48.76 442.08v-1 M50.94 362.18v1 M50.94 442.08v-1 M53.12 362.18v1 M53.12 442.08v-1 M55.3 362.18v2.2 M55.3 442.08v-2.2 M57.48 362.18v1 M57.48 442.08v-1 M59.66 362.18v1 M59.66 442.08v-1 M61.84 362.18v1 M61.84 442.08v-1 M64.02 362.18v1 M64.02 442.08v-1 M66.2 362.18v1 M66.2 442.08v-1 M68.38 362.18v1 M68.38 442.08v-1 M70.56 362.18v1 M70.56 442.08v-1 M72.74 362.18v1 M72.74 442.08v-1 M74.92 362.18v1 M74.92 442.08v-1 M77.1 362.18v2.2 M77.1 442.08v-2.2 M79.28 362.18v1 M79.28 442.08v-1 M81.46 362.18v1 M81.46 442.08v-1 M83.64 362.18v1 M83.64 442.08v-1 M85.82 362.18v1 M85.82 442.08v-1 M88 362.18v1 M88 442.08v-1 M90.18 362.18v1 M90.18 442.08v-1 M92.36 362.18v1 M92.36 442.08v-1 M94.54 362.18v1 M94.54 442.08v-1 M96.72 362.18v1 M96.72 442.08v-1 M98.9 362.18v2.2 M98.9 442.08v-2.2 M101.08 362.18v1 M101.08 442.08v-1 M103.26 362.18v1 M103.26 442.08v-1 M105.44 362.18v1 M105.44 442.08v-1 M107.62 362.18v1 M107.62 442.08v-1 M109.8 362.18v1 M109.8 442.08v-1 M111.98 362.18v1 M111.98 442.08v-1 M114.16 362.18v1 M114.16 442.08v-1 M116.34 362.18v1 M116.34 442.08v-1 M118.52 362.18v1 M118.52 442.08v-1 M120.7 362.18v2.2 M120.7 442.08v-2.2 M122.88 362.18v1 M122.88 442.08v-1 M125.06 362.18v1 M125.06 442.08v-1 M127.24 362.18v1 M127.24 442.08v-1 M129.42 362.18v1 M129.42 442.08v-1 M131.6 362.18v1 M131.6 442.08v-1 M133.78 362.18v1 M133.78 442.08v-1 M135.96 362.18v1 M135.96 442.08v-1 M138.14 362.18v1 M138.14 442.08v-1 M140.32 362.18v1 M140.32 442.08v-1" stroke="#000" stroke-width="0.8" fill="none"/>
<rect x="33.5" y="362.18" width="109" height="79.9" fill="none" stroke="#000" stroke-width="1.2"/>
<path d="M149.9 367.17h1.2 M258.9 367.17h-1.2 M149.9 372.17h1.2 M258.9 372.17h-1.2 M149.9 377.16h1.2 M258.9 377.16h-1.2 M149.9 382.16h2.2 M258.9 382.16h-2.2 M149.9 387.15h1.2 M258.9 387.15h-1.2 M149.9 392.14h1.2 M258.9 392.14h-1.2 M149.9 397.14h1.2 M258.9 397.14h-1.2 M149.9 402.13h2.2 M258.9 402.13h-2.2 M149.9 407.12h1.2 M258.9 407.12h-1.2 M149.9 412.12h1.2 M258.9 412.12h-1.2 M149.9 417.11h1.2 M258.9 417.11h-1.2 M149.9 422.11h2.2 M258.9 422.11h-2.2 M149.9 427.1h1.2 M258.9 427.1h-1.2 M149.9 432.09h1.2 M258.9 432.09h-1.2 M149.9 437.09h1.2 M258.9 437.09h-1.2 M152.08 362.18v1 M152.08 442.08v-1 M154.26 362.18v1 M154.26 442.08v-1 M156.44 362.18v1 M156.44 442.08v-1 M158.62 362.18v1 M158.62 442.08v-1 M160.8 362.18v1 M160.8 442.08v-1 M162.98 362.18v1 M162.98 442.08v-1 M165.16 362.18v1 M165.16 442.08v-1 M167.34 362.18v1 M167.34 442.08v-1 M169.52 362.18v1 M169.52 442.08v-1 M171.7 362.18v2.2 M171.7 442.08v-2.2 M173.88 362.18v1 M173.88 442.08v-1 M176.06 362.18v1 M176.06 442.08v-1 M178.24 362.18v1 M178.24 442.08v-1 M180.42 362.18v1 M180.42 442.08v-1 M182.6 362.18v1 M182.6 442.08v-1 M184.78 362.18v1 M184.78 442.08v-1 M186.96 362.18v1 M186.96 442.08v-1 M189.14 362.18v1 M189.14 442.08v-1 M191.32 362.18v1 M191.32 442.08v-1 M193.5 362.18v2.2 M193.5 442.08v-2.2 M195.68 362.18v1 M195.68 442.08v-1 M197.86 362.18v1 M197.86 442.08v-1 M200.04 362.18v1 M200.04 442.08v-1 M202.22 362.18v1 M202.22 442.08v-1 M204.4 362.18v1 M204.4 442.08v-1 M206.58 362.18v1 M206.58 442.08v-1 M208.76 362.18v1 M208.76 442.08v-1 M210.94 362.18v1 M210.94 442.08v-1 M213.12 362.18v1 M213.12 442.08v-1 M215.3 362.18v2.2 M215.3 442.08v-2.2 M217.48 362.18v1 M217.48 442.08v-1 M219.66 362.18v1 M219.66 442.08v-1 M221.84 362.18v1 M221.84 442.08v-1 M224.02 362.18v1 M224.02 442.08v-1 M226.2 362.18v1 M226.2 442.08v-1 M228.38 362.18v1 M228.38 442.08v-1 M230.56 362.18v1 M230.56 442.08v-1 M232.74 362.18v1 M232.74 442.08v-1 M234.92 362.18v1 M234.92 442.08v-1 M237.1 362.18v2.2 M237.1 442.08v-2.2 M239.28 362.18v1 M239.28 442.08v-1 M241.46 362.18v1 M241.46 442.08v-1 M243.64 362.18v1 M243.64 442.08v-1 M245.82 362.18v1 M245.82 442.08v-1 M248 362.18v1 M248 442.08v-1 M250.18 362.18v1 M250.18 442.08v-1 M252.36 362.18v1 M252.36 442.08v-1 M254.54 362.18v1 M254.54 442.08v-1 M256.72 362.18v1 M256.72 442.08v-1" stroke="#000" stroke-width="0.8" fill="none"/>
<rect x="149.9" y="362.18" width="109" height="79.9" fill="none" stroke="#000" stroke-width="1.2"/>
<path d="M266.3 367.17h1.2 M375.3 367.17h-1.2 M266.3 372.17h1.2 M375.3 372.17h-1.2 M266.3 377.16h1.2 M375.3 377.16h-1.2 M266.3 382.16h2.2 M375.3 382.16h-2.2 M266.3 387.15h1.2 M375.3 387.15h-1.2 M266.3 392.14h1.2 M375.3 392.14h-1.2 M266.3 397.14h1.2 M375.3 397.14h-1.2 M266.3 402.13h2.2 M375.3 402.13h-2.2 M266.3 407.12h1.2 M375.3 407.12h-1.2 M266.3 412.12h1.2 M375.3 412.12h-1.2 M266.3 417.11h1.2 M375.3 417.11h-1.2 M266.3 422.11h2.2 M375.3 422.11h-2.2 M266.3 427.1h1.2 M375.3 427.1h-1.2 M266.3 432.09h1.2 M375.3 432.09h-1.2 M266.3 437.09h1.2 M375.3 437.09h-1.2 M271.75 362.18v1 M271.75 442.08v-1 M277.2 362.18v1 M277.2 442.08v-1 M282.65 362.18v1 M282.65 442.08v-1 M288.1 362.18v2.2 M288.1 442.08v-2.2 M293.55 362.18v1 M293.55 442.08v-1 M299 362.18v1 M299 442.08v-1 M304.45 362.18v1 M304.45 442.08v-1 M309.9 362.18v2.2 M309.9 442.08v-2.2 M315.35 362.18v1 M315.35 442.08v-1 M320.8 362.18v1 M320.8 442.08v-1 M326.25 362.18v1 M326.25 442.08v-1 M331.7 362.18v2.2 M331.7 442.08v-2.2 M337.15 362.18v1 M337.15 442.08v-1 M342.6 362.18v1 M342.6 442.08v-1 M348.05 362.18v1 M348.05 442.08v-1 M353.5 362.18v2.2 M353.5 442.08v-2.2 M358.95 362.18v1 M358.95 442.08v-1 M364.4 362.18v1 M364.4 442.08v-1 M369.85 362.18v1 M369.85 442.08v-1" stroke="#000" stroke-width="0.8" fill="none"/>
<rect x="266.3" y="362.18" width="109" height="79.9" fill="none" stroke="#000" stroke-width="1.2"/>
<path d="M382.7 367.17h1.2 M491.7 367.17h-1.2 M382.7 372.17h1.2 M491.7 372.17h-1.2 M382.7 377.16h1.2 M491.7 377.16h-1.2 M382.7 382.16h2.2 M491.7 382.16h-2.2 M382.7 387.15h1.2 M491.7 387.15h-1.2 M382.7 392.14h1.2 M491.7 392.14h-1.2 M382.7 397.14h1.2 M491.7 397.14h-1.2 M382.7 402.13h2.2 M491.7 402.13h-2.2 M382.7 407.12h1.2 M491.7 407.12h-1.2 M382.7 412.12h1.2 M491.7 412.12h-1.2 M382.7 417.11h1.2 M491.7 417.11h-1.2 M382.7 422.11h2.2 M491.7 422.11h-2.2 M382.7 427.1h1.2 M491.7 427.1h-1.2 M382.7 432.09h1.2 M491.7 432.09h-1.2 M382.7 437.09h1.2 M491.7 437.09h-1.2 M388.15 362.18v1 M388.15 442.08v-1 M393.6 362.18v1 M393.6 442.08v-1 M399.05 362.18v1 M399.05 442.08v-1 M404.5 362.18v2.2 M404.5 442.08v-2.2 M409.95 362.18v1 M409.95 442.08v-1 M415.4 362.18v1 M415.4 442.08v-1 M420.85 362.18v1 M420.85 442.08v-1 M426.3 362.18v2.2 M426.3 442.08v-2.2 M431.75 362.18v1 M431.75 442.08v-1 M437.2 362.18v1 M437.2 442.08v-1 M442.65 362.18v1 M442.65 442.08v-1 M448.1 362.18v2.2 M448.1 442.08v-2.2 M453.55 362.18v1 M453.55 442.08v-1 M459 362.18v1 M459 442.08v-1 M464.45 362.18v1 M464.45 442.08v-1 M469.9 362.18v2.2 M469.9 442.08v-2.2 M475.35 362.18v1 M475.35 442.08v-1 M480.8 362.18v1 M480.8 442.08v-1 M486.25 362.18v1 M486.25 442.08v-1" stroke="#000" stroke-width="0.8" fill="none"/>
<rect x="382.7" y="362.18" width="109" height="79.9" fill="none" stroke="#000" stroke-width="1.2"/>
<path d="M499.1 367.17h1.2 M608.1 367.17h-1.2 M499.1 372.17h1.2 M608.1 372.17h-1.2 M499.1 377.16h1.2 M608.1 377.16h-1.2 M499.1 382.16h2.2 M608.1 382.16h-2.2 M499.1 387.15h1.2 M608.1 387.15h-1.2 M499.1 392.14h1.2 M608.1 392.14h-1.2 M499.1 397.14h1.2 M608.1 397.14h-1.2 M499.1 402.13h2.2 M608.1 402.13h-2.2 M499.1 407.12h1.2 M608.1 407.12h-1.2 M499.1 412.12h1.2 M608.1 412.12h-1.2 M499.1 417.11h1.2 M608.1 417.11h-1.2 M499.1 422.11h2.2 M608.1 422.11h-2.2 M499.1 427.1h1.2 M608.1 427.1h-1.2 M499.1 432.09h1.2 M608.1 432.09h-1.2 M499.1 437.09h1.2 M608.1 437.09h-1.2 M504.55 362.18v1 M504.55 442.08v-1 M510 362.18v1 M510 442.08v-1 M515.45 362.18v1 M515.45 442.08v-1 M520.9 362.18v2.2 M520.9 442.08v-2.2 M526.35 362.18v1 M526.35 442.08v-1 M531.8 362.18v1 M531.8 442.08v-1 M537.25 362.18v1 M537.25 442.08v-1 M542.7 362.18v2.2 M542.7 442.08v-2.2 M548.15 362.18v1 M548.15 442.08v-1 M553.6 362.18v1 M553.6 442.08v-1 M559.05 362.18v1 M559.05 442.08v-1 M564.5 362.18v2.2 M564.5 442.08v-2.2 M569.95 362.18v1 M569.95 442.08v-1 M575.4 362.18v1 M575.4 442.08v-1 M580.85 362.18v1 M580.85 442.08v-1 M586.3 362.18v2.2 M586.3 442.08v-2.2 M591.75 362.18v1 M591.75 442.08v-1 M597.2 362.18v1 M597.2 442.08v-1 M602.65 362.18v1 M602.65 442.08v-1" stroke="#000" stroke-width="0.8" fill="none"/>
<rect x="499.1" y="362.18" width="109" height="79.9" fill="none" stroke="#000" stroke-width="1.2"/>
<path d="M615.5 367.17h1.2 M724.5 367.17h-1.2 M615.5 372.17h1.2 M724.5 372.17h-1.2 M615.5 377.16h1.2 M724.5 377.16h-1.2 M615.5 382.16h2.2 M724.5 382.16h-2.2 M615.5 387.15h1.2 M724.5 387.15h-1.2 M615.5 392.14h1.2 M724.5 392.14h-1.2 M615.5 397.14h1.2 M724.5 397.14h-1.2 M615.5 402.13h2.2 M724.5 402.13h-2.2 M615.5 407.12h1.2 M724.5 407.12h-1.2 M615.5 412.12h1.2 M724.5 412.12h-1.2 M615.5 417.11h1.2 M724.5 417.11h-1.2 M615.5 422.11h2.2 M724.5 422.11h-2.2 M615.5 427.1h1.2 M724.5 427.1h-1.2 M615.5 432.09h1.2 M724.5 432.09h-1.2 M615.5 437.09h1.2 M724.5 437.09h-1.2 M620.95 362.18v1 M620.95 442.08v-1 M626.4 362.18v1 M626.4 442.08v-1 M631.85 362.18v1 M631.85 442.08v-1 M637.3 362.18v2.2 M637.3 442.08v-2.2 M642.75 362.18v1 M642.75 442.08v-1 M648.2 362.18v1 M648.2 442.08v-1 M653.65 362.18v1 M653.65 442.08v-1 M659.1 362.18v2.2 M659.1 442.08v-2.2 M664.55 362.18v1 M664.55 442.08v-1 M670 362.18v1 M670 442.08v-1 M675.45 362.18v1 M675.45 442.08v-1 M680.9 362.18v2.2 M680.9 442.08v-2.2 M686.35 362.18v1 M686.35 442.08v-1 M691.8 362.18v1 M691.8 442.08v-1 M697.25 362.18v1 M697.25 442.08v-1 M702.7 362.18v2.2 M702.7 442.08v-2.2 M708.15 362.18v1 M708.15 442.08v-1 M713.6 362.18v1 M713.6 442.08v-1 M719.05 362.18v1 M719.05 442.08v-1" stroke="#000" stroke-width="0.8" fill="none"/>
<rect x="615.5" y="362.18" width="109" height="79.9" fill="none" stroke="#000" stroke-width="1.2"/>
<path d="M33.5 452.8h1.2 M142.5 452.8h-1.2 M33.5 455.99h1.2 M142.5 455.99h-1.2 M33.5 459.19h1.2 M142.5 459.19h-1.2 M33.5 462.38h1.2 M142.5 462.38h-1.2 M33.5 465.58h2.2 M142.5 465.58h-2.2 M33.5 468.78h1.2 M142.5 468.78h-1.2 M33.5 471.97h1.2 M142.5 471.97h-1.2 M33.5 475.17h1.2 M142.5 475.17h-1.2 M33.5 478.36h1.2 M142.5 478.36h-1.2 M33.5 481.56h2.2 M142.5 481.56h-2.2 M33.5 484.76h1.2 M142.5 484.76h-1.2 M33.5 487.95h1.2 M142.5 487.95h-1.2 M33.5 491.15h1.2 M142.5 491.15h-1.2 M33.5 494.34h1.2 M142.5 494.34h-1.2 M33.5 497.54h2.2 M142.5 497.54h-2.2 M33.5 500.74h1.2 M142.5 500.74h-1.2 M33.5 503.93h1.2 M142.5 503.93h-1.2 M33.5 507.13h1.2 M142.5 507.13h-1.2 M33.5 510.32h1.2 M142.5 510.32h-1.2 M33.5 513.52h2.2 M142.5 513.52h-2.2 M33.5 516.72h1.2 M142.5 516.72h-1.2 M33.5 519.91h1.2 M142.5 519.91h-1.2 M33.5 523.11h1.2 M142.5 523.11h-1.2 M33.5 526.3h1.2 M142.5 526.3h-1.2 M35.68 449.6v1 M35.68 529.5v-1 M37.86 449.6v1 M37.86 529.5v-1 M40.04 449.6v1 M40.04 529.5v-1 M42.22 449.6v1 M42.22 529.5v-1 M44.4 449.6v1 M44.4 529.5v-1 M46.58 449.6v1 M46.58 529.5v-1 M48.76 449.6v1 M48.76 529.5v-1 M50.94 449.6v1 M50.94 529.5v-1 M53.12 449.6v1 M53.12 529.5v-1 M55.3 449.6v2.2 M55.3 529.5v-2.2 M57.48 449.6v1 M57.48 529.5v-1 M59.66 449.6v1 M59.66 529.5v-1 M61.84 449.6v1 M61.84 529.5v-1 M64.02 449.6v1 M64.02 529.5v-1 M66.2 449.6v1 M66.2 529.5v-1 M68.38 449.6v1 M68.38 529.5v-1 M70.56 449.6v1 M70.56 529.5v-1 M72.74 449.6v1 M72.74 529.5v-1 M74.92 449.6v1 M74.92 529.5v-1 M77.1 449.6v2.2 M77.1 529.5v-2.2 M79.28 449.6v1 M79.28 529.5v-1 M81.46 449.6v1 M81.46 529.5v-1 M83.64 449.6v1 M83.64 529.5v-1 M85.82 449.6v1 M85.82 529.5v-1 M88 449.6v1 M88 529.5v-1 M90.18 449.6v1 M90.18 529.5v-1 M92.36 449.6v1 M92.36 529.5v-1 M94.54 449.6v1 M94.54 529.5v-1 M96.72 449.6v1 M96.72 529.5v-1 M98.9 449.6v2.2 M98.9 529.5v-2.2 M101.08 449.6v1 M101.08 529.5v-1 M103.26 449.6v1 M103.26 529.5v-1 M105.44 449.6v1 M105.44 529.5v-1 M107.62 449.6v1 M107.62 529.5v-1 M109.8 449.6v1 M109.8 529.5v-1 M111.98 449.6v1 M111.98 529.5v-1 M114.16 449.6v1 M114.16 529.5v-1 M116.34 449.6v1 M116.34 529.5v-1 M118.52 449.6v1 M118.52 529.5v-1 M120.7 449.6v2.2 M120.7 529.5v-2.2 M122.88 449.6v1 M122.88 529.5v-1 M125.06 449.6v1 M125.06 529.5v-1 M127.24 449.6v1 M127.24 529.5v-1 M129.42 449.6v1 M129.42 529.5v-1 M131.6 449.6v1 M131.6 529.5v-1 M133.78 449.6v1 M133.78 529.5v-1 M135.96 449.6v1 M135.96 529.5v-1 M138.14 449.6v1 M138.14 529.5v-1 M140.32 449.6v1 M140.32 529.5v-1" stroke="#000" stroke-width="0.8" fill="none"/>
<rect x="33.5" y="449.6" width="109" height="79.9" fill="none" stroke="#000" stroke-width="1.2"/>
<path d="M149.9 452.8h1.2 M258.9 452.8h-1.2 M149.9 455.99h1.2 M258.9 455.99h-1.2 M149.9 459.19h1.2 M258.9 459.19h-1.2 M149.9 462.38h1.2 M258.9 462.38h-1.2 M149.9 465.58h2.2 M258.9 465.58h-2.2 M149.9 468.78h1.2 M258.9 468.78h-1.2 M149.9 471.97h1.2 M258.9 471.97h-1.2 M149.9 475.17h1.2 M258.9 475.17h-1.2 M149.9 478.36h1.2 M258.9 478.36h-1.2 M149.9 481.56h2.2 M258.9 481.56h-2.2 M149.9 484.76h1.2 M258.9 484.76h-1.2 M149.9 487.95h1.2 M258.9 487.95h-1.2 M149.9 491.15h1.2 M258.9 491.15h-1.2 M149.9 494.34h1.2 M258.9 494.34h-1.2 M149.9 497.54h2.2 M258.9 497.54h-2.2 M149.9 500.74h1.2 M258.9 500.74h-1.2 M149.9 503.93h1.2 M258.9 503.93h-1.2 M149.9 507.13h1.2 M258.9 507.13h-1.2 M149.9 510.32h1.2 M258.9 510.32h-1.2 M149.9 513.52h2.2 M258.9 513.52h-2.2 M149.9 516.72h1.2 M258.9 516.72h-1.2 M149.9 519.91h1.2 M258.9 519.91h-1.2 M149.9 523.11h1.2 M258.9 523.11h-1.2 M149.9 526.3h1.2 M258.9 526.3h-1.2 M152.08 449.6v1 M152.08 529.5v-1 M154.26 449.6v1 M154.26 529.5v-1 M156.44 449.6v1 M156.44 529.5v-1 M158.62 449.6v1 M158.62 529.5v-1 M160.8 449.6v1 M160.8 529.5v-1 M162.98 449.6v1 M162.98 529.5v-1 M165.16 449.6v1 M165.16 529.5v-1 M167.34 449.6v1 M167.34 529.5v-1 M169.52 449.6v1 M169.52 529.5v-1 M171.7 449.6v2.2 M171.7 529.5v-2.2 M173.88 449.6v1 M173.88 529.5v-1 M176.06 449.6v1 M176.06 529.5v-1 M178.24 449.6v1 M178.24 529.5v-1 M180.42 449.6v1 M180.42 529.5v-1 M182.6 449.6v1 M182.6 529.5v-1 M184.78 449.6v1 M184.78 529.5v-1 M186.96 449.6v1 M186.96 529.5v-1 M189.14 449.6v1 M189.14 529.5v-1 M191.32 449.6v1 M191.32 529.5v-1 M193.5 449.6v2.2 M193.5 529.5v-2.2 M195.68 449.6v1 M195.68 529.5v-1 M197.86 449.6v1 M197.86 529.5v-1 M200.04 449.6v1 M200.04 529.5v-1 M202.22 449.6v1 M202.22 529.5v-1 M204.4 449.6v1 M204.4 529.5v-1 M206.58 449.6v1 M206.58 529.5v-1 M208.76 449.6v1 M208.76 529.5v-1 M210.94 449.6v1 M210.94 529.5v-1 M213.12 449.6v1 M213.12 529.5v-1 M215.3 449.6v2.2 M215.3 529.5v-2.2 M217.48 449.6v1 M217.48 529.5v-1 M219.66 449.6v1 M219.66 529.5v-1 M221.84 449.6v1 M221.84 529.5v-1 M224.02 449.6v1 M224.02 529.5v-1 M226.2 449.6v1 M226.2 529.5v-1 M228.38 449.6v1 M228.38 529.5v-1 M230.56 449.6v1 M230.56 529.5v-1 M232.74 449.6v1 M232.74 529.5v-1 M234.92 449.6v1 M234.92 529.5v-1 M237.1 449.6v2.2 M237.1 529.5v-2.2 M239.28 449.6v1 M239.28 529.5v-1 M241.46 449.6v1 M241.46 529.5v-1 M243.64 449.6v1 M243.64 529.5v-1 M245.82 449.6v1 M245.82 529.5v-1 M248 449.6v1 M248 529.5v-1 M250.18 449.6v1 M250.18 529.5v-1 M252.36 449.6v1 M252.36 529.5v-1 M254.54 449.6v1 M254.54 529.5v-1 M256.72 449.6v1 M256.72 529.5v-1" stroke="#000" stroke-width="0.8" fill="none"/>
<rect x="149.9" y="449.6" width="109" height="79.9" fill="none" stroke="#000" stroke-width="1.2"/>
<path d="M266.3 452.8h1.2 M375.3 452.8h-1.2 M266.3 455.99h1.2 M375.3 455.99h-1.2 M266.3 459.19h1.2 M375.3 459.19h-1.2 M266.3 462.38h1.2 M375.3 462.38h-1.2 M266.3 465.58h2.2 M375.3 465.58h-2.2 M266.3 468.78h1.2 M375.3 468.78h-1.2 M266.3 471.97h1.2 M375.3 471.97h-1.2 M266.3 475.17h1.2 M375.3 475.17h-1.2 M266.3 478.36h1.2 M375.3 478.36h-1.2 M266.3 481.56h2.2 M375.3 481.56h-2.2 M266.3 484.76h1.2 M375.3 484.76h-1.2 M266.3 487.95h1.2 M375.3 487.95h-1.2 M266.3 491.15h1.2 M375.3 491.15h-1.2 M266.3 494.34h1.2 M375.3 494.34h-1.2 M266.3 497.54h2.2 M375.3 497.54h-2.2 M266.3 500.74h1.2 M375.3 500.74h-1.2 M266.3 503.93h1.2 M375.3 503.93h-1.2 M266.3 507.13h1.2 M375.3 507.13h-1.2 M266.3 510.32h1.2 M375.3 510.32h-1.2 M266.3 513.52h2.2 M375.3 513.52h-2.2 M266.3 516.72h1.2 M375.3 516.72h-1.2 M266.3 519.91h1.2 M375.3 519.91h-1.2 M266.3 523.11h1.2 M375.3 523.11h-1.2 M266.3 526.3h1.2 M375.3 526.3h-1.2 M271.75 449.6v1 M271.75 529.5v-1 M277.2 449.6v1 M277.2 529.5v-1 M282.65 449.6v1 M282.65 529.5v-1 M288.1 449.6v2.2 M288.1 529.5v-2.2 M293.55 449.6v1 M293.55 529.5v-1 M299 449.6v1 M299 529.5v-1 M304.45 449.6v1 M304.45 529.5v-1 M309.9 449.6v2.2 M309.9 529.5v-2.2 M315.35 449.6v1 M315.35 529.5v-1 M320.8 449.6v1 M320.8 529.5v-1 M326.25 449.6v1 M326.25 529.5v-1 M331.7 449.6v2.2 M331.7 529.5v-2.2 M337.15 449.6v1 M337.15 529.5v-1 M342.6 449.6v1 M342.6 529.5v-1 M348.05 449.6v1 M348.05 529.5v-1 M353.5 449.6v2.2 M353.5 529.5v-2.2 M358.95 449.6v1 M358.95 529.5v-1 M364.4 449.6v1 M364.4 529.5v-1 M369.85 449.6v1 M369.85 529.5v-1" stroke="#000" stroke-width="0.8" fill="none"/>
<rect x="266.3" y="449.6" width="109" height="79.9" fill="none" stroke="#000" stroke-width="1.2"/>
<path d="M382.7 452.8h1.2 M491.7 452.8h-1.2 M382.7 455.99h1.2 M491.7 455.99h-1.2 M382.7 459.19h1.2 M491.7 459.19h-1.2 M382.7 462.38h1.2 M491.7 462.38h-1.2 M382.7 465.58h2.2 M491.7 465.58h-2.2 M382.7 468.78h1.2 M491.7 468.78h-1.2 M382.7 471.97h1.2 M491.7 471.97h-1.2 M382.7 475.17h1.2 M491.7 475.17h-1.2 M382.7 478.36h1.2 M491.7 478.36h-1.2 M382.7 481.56h2.2 M491.7 481.56h-2.2 M382.7 484.76h1.2 M491.7 484.76h-1.2 M382.7 487.95h1.2 M491.7 487.95h-1.2 M382.7 491.15h1.2 M491.7 491.15h-1.2 M382.7 494.34h1.2 M491.7 494.34h-1.2 M382.7 497.54h2.2 M491.7 497.54h-2.2 M382.7 500.74h1.2 M491.7 500.74h-1.2 M382.7 503.93h1.2 M491.7 503.93h-1.2 M382.7 507.13h1.2 M491.7 507.13h-1.2 M382.7 510.32h1.2 M491.7 510.32h-1.2 M382.7 513.52h2.2 M491.7 513.52h-2.2 M382.7 516.72h1.2 M491.7 516.72h-1.2 M382.7 519.91h1.2 M491.7 519.91h-1.2 M382.7 523.11h1.2 M491.7 523.11h-1.2 M382.7 526.3h1.2 M491.7 526.3h-1.2 M388.15 449.6v1 M388.15 529.5v-1 M393.6 449.6v1 M393.6 529.5v-1 M399.05 449.6v1 M399.05 529.5v-1 M404.5 449.6v2.2 M404.5 529.5v-2.2 M409.95 449.6v1 M409.95 529.5v-1 M415.4 449.6v1 M415.4 529.5v-1 M420.85 449.6v1 M420.85 529.5v-1 M426.3 449.6v2.2 M426.3 529.5v-2.2 M431.75 449.6v1 M431.75 529.5v-1 M437.2 449.6v1 M437.2 529.5v-1 M442.65 449.6v1 M442.65 529.5v-1 M448.1 449.6v2.2 M448.1 529.5v-2.2 M453.55 449.6v1 M453.55 529.5v-1 M459 449.6v1 M459 529.5v-1 M464.45 449.6v1 M464.45 529.5v-1 M469.9 449.6v2.2 M469.9 529.5v-2.2 M475.35 449.6v1 M475.35 529.5v-1 M480.8 449.6v1 M480.8 529.5v-1 M486.25 449.6v1 M486.25 529.5v-1" stroke="#000" stroke-width="0.8" fill="none"/>
<rect x="382.7" y="449.6" width="109" height="79.9" fill="none" stroke="#000" stroke-width="1.2"/>
<path d="M499.1 452.8h1.2 M608.1 452.8h-1.2 M499.1 455.99h1.2 M608.1 455.99h-1.2 M499.1 459.19h1.2 M608.1 459.19h-1.2 M499.1 462.38h1.2 M608.1 462.38h-1.2 M499.1 465.58h2.2 M608.1 465.58h-2.2 M499.1 468.78h1.2 M608.1 468.78h-1.2 M499.1 471.97h1.2 M608.1 471.97h-1.2 M499.1 475.17h1.2 M608.1 475.17h-1.2 M499.1 478.36h1.2 M608.1 478.36h-1.2 M499.1 481.56h2.2 M608.1 481.56h-2.2 M499.1 484.76h1.2 M608.1 484.76h-1.2 M499.1 487.95h1.2 M608.1 487.95h-1.2 M499.1 491.15h1.2 M608.1 491.15h-1.2 M499.1 494.34h1.2 M608.1 494.34h-1.2 M499.1 497.54h2.2 M608.1 497.54h-2.2 M499.1 500.74h1.2 M608.1 500.74h-1.2 M499.1 503.93h1.2 M608.1 503.93h-1.2 M499.1 507.13h1.2 M608.1 507.13h-1.2 M499.1 510.32h1.2 M608.1 510.32h-1.2 M499.1 513.52h2.2 M608.1 513.52h-2.2 M499.1 516.72h1.2 M608.1 516.72h-1.2 M499.1 519.91h1.2 M608.1 519.91h-1.2 M499.1 523.11h1.2 M608.1 523.11h-1.2 M499.1 526.3h1.2 M608.1 526.3h-1.2 M504.55 449.6v1 M504.55 529.5v-1 M510 449.6v1 M510 529.5v-1 M515.45 449.6v1 M515.45 529.5v-1 M520.9 449.6v2.2 M520.9 529.5v-2.2 M526.35 449.6v1 M526.35 529.5v-1 M531.8 449.6v1 M531.8 529.5v-1 M537.25 449.6v1 M537.25 529.5v-1 M542.7 449.6v2.2 M542.7 529.5v-2.2 M548.15 449.6v1 M548.15 529.5v-1 M553.6 449.6v1 M553.6 529.5v-1 M559.05 449.6v1 M559.05 529.5v-1 M564.5 449.6v2.2 M564.5 529.5v-2.2 M569.95 449.6v1 M569.95 529.5v-1 M575.4 449.6v1 M575.4 529.5v-1 M580.85 449.6v1 M580.85 529.5v-1 M586.3 449.6v2.2 M586.3 529.5v-2.2 M591.75 449.6v1 M591.75 529.5v-1 M597.2 449.6v1 M597.2 529.5v-1 M602.65 449.6v1 M602.65 529.5v-1" stroke="#000" stroke-width="0.8" fill="none"/>
<rect x="499.1" y="449.6" width="109" height="79.9" fill="none" stroke="#000" stroke-width="1.2"/>
<path d="M615.5 452.8h1.2 M724.5 452.8h-1.2 M615.5 455.99h1.2 M724.5 455.99h-1.2 M615.5 459.19h1.2 M724.5 459.19h-1.2 M615.5 462.38h1.2 M724.5 462.38h-1.2 M615.5 465.58h2.2 M724.5 465.58h-2.2 M615.5 468.78h1.2 M724.5 468.78h-1.2 M615.5 471.97h1.2 M724.5 471.97h-1.2 M615.5 475.17h1.2 M724.5 475.17h-1.2 M615.5 478.36h1.2 M724.5 478.36h-1.2 M615.5 481.56h2.2 M724.5 481.56h-2.2 M615.5 484.76h1.2 M724.5 484.76h-1.2 M615.5 487.95h1.2 M724.5 487.95h-1.2 M615.5 491.15h1.2 M724.5 491.15h-1.2 M615.5 494.34h1.2 M724.5 494.34h-1.2 M615.5 497.54h2.2 M724.5 497.54h-2.2 M615.5 500.74h1.2 M724.5 500.74h-1.2 M615.5 503.93h1.2 M724.5 503.93h-1.2 M615.5 507.13h1.2 M724.5 507.13h-1.2 M615.5 510.32h1.2 M724.5 510.32h-1.2 M615.5 513.52h2.2 M724.5 513.52h-2.2 M615.5 516.72h1.2 M724.5 516.72h-1.2 M615.5 519.91h1.2 M724.5 519.91h-1.2 M615.5 523.11h1.2 M724.5 523.11h-1.2 M615.5 526.3h1.2 M724.5 526.3h-1.2 M620.95 449.6v1 M620.95 529.5v-1 M626.4 449.6v1 M626.4 529.5v-1 M631.85 449.6v1 M631.85 529.5v-1 M637.3 449.6v2.2 M637.3 529.5v-2.2 M642.75 449.6v1 M642.75 529.5v-1 M648.2 449.6v1 M648.2 529.5v-1 M653.65 449.6v1 M653.65 529.5v-1 M659.1 449.6v2.2 M659.1 529.5v-2.2 M664.55 449.6v1 M664.55 529.5v-1 M670 449.6v1 M670 529.5v-1 M675.45 449.6v1 M675.45 529.5v-1 M680.9 449.6v2.2 M680.9 529.5v-2.2 M686.35 449.6v1 M686.35 529.5v-1 M691.8 449.6v1 M691.8 529.5v-1 M697.25 449.6v1 M697.25 529.5v-1 M702.7 449.6v2.2 M702.7 529.5v-2.2 M708.15 449.6v1 M708.15 529.5v-1 M713.6 449.6v1 M713.6 529.5v-1 M719.05 449.6v1 M719.05 529.5v-1" stroke="#000" stroke-width="0.8" fill="none"/>
<rect x="615.5" y="449.6" width="109" height="79.9" fill="none" stroke="#000" stroke-width="1.2"/>
<path d="M35 92.5 C35.05 90.08 35.2 82.33 35.3 78 C35.4 73.67 35.45 69.42 35.6 66.5 C35.75 63.58 35.93 62.25 36.2 60.5 C36.47 58.75 36.68 57.62 37.2 56 C37.72 54.38 38.25 52.37 39.3 50.8 C40.35 49.23 41.92 47.75 43.5 46.6 C45.08 45.45 46.97 44.57 48.8 43.9 C50.63 43.23 53.1 42.6 54.5 42.6 C55.9 42.6 55.7 43.07 57.2 43.9 C58.7 44.73 61.4 46.72 63.5 47.6 C65.6 48.48 67.53 48.88 69.8 49.2 C72.07 49.52 74.83 49.68 77.1 49.5 C79.37 49.32 80.77 48.85 83.4 48.1 C86.03 47.35 89.9 46.07 92.9 45 C95.9 43.93 98.67 42.9 101.4 41.7 C104.13 40.5 106.4 38.53 109.3 37.8 C112.2 37.07 115.62 37.38 118.8 37.3 C121.98 37.22 124.45 37.15 128.4 37.3 C132.35 37.45 140.15 38.05 142.5 38.2" fill="none" stroke="#00f0ff" stroke-width="1.4" stroke-linejoin="round" stroke-linecap="round"/>
<path d="M44.6 93 C44.85 91.22 45.58 85.48 46.1 82.3 C46.62 79.12 47.08 76.53 47.7 73.9 C48.32 71.27 49.02 68.78 49.8 66.5 C50.58 64.22 51.52 61.95 52.4 60.2 C53.28 58.45 54.13 57.13 55.1 56 C56.07 54.87 57.15 54.18 58.2 53.4 C59.25 52.62 60.52 52.08 61.4 51.3 C62.28 50.52 62.63 49.48 63.5 48.7 C64.37 47.92 65.55 47 66.6 46.6 C67.65 46.2 68.75 46.17 69.8 46.3 C70.85 46.43 71.68 46.83 72.9 47.4 C74.12 47.97 75.7 49.05 77.1 49.7 C78.5 50.35 79.9 51.17 81.3 51.3 C82.7 51.43 83.57 50.98 85.5 50.5 C87.43 50.02 89.98 49.47 92.9 48.4 C95.82 47.33 99.73 45.22 103 44.1 C106.27 42.98 109.87 42.37 112.5 41.7 C115.13 41.03 116.68 40.5 118.8 40.1 C120.92 39.7 123.08 39.35 125.2 39.3 C127.32 39.25 128.62 39.53 131.5 39.8 C134.38 40.07 140.67 40.72 142.5 40.9" fill="none" stroke="#ff8000" stroke-width="1.4" stroke-linejoin="round" stroke-linecap="round"/>
<path d="M49.3 93 C49.65 91.22 50.7 85.32 51.4 82.3 C52.1 79.28 52.72 77.35 53.5 74.9 C54.28 72.45 55.13 69.7 56.1 67.6 C57.07 65.5 58.07 63.7 59.3 62.3 C60.53 60.9 61.93 60.02 63.5 59.2 C65.07 58.38 66.78 57.75 68.7 57.4 C70.62 57.05 72.9 57.07 75 57.1 C77.1 57.13 79.2 57.6 81.3 57.6 C83.4 57.6 85.67 57.37 87.6 57.1 C89.53 56.83 90.87 56.4 92.9 56 C94.93 55.6 97.33 54.83 99.8 54.7 C102.27 54.57 104.53 54.58 107.7 55.2 C110.87 55.82 115.1 57.33 118.8 58.4 C122.5 59.47 125.95 60.42 129.9 61.6 C133.85 62.78 140.4 64.85 142.5 65.5" fill="none" stroke="#ff0000" stroke-width="1.4" stroke-linejoin="round" stroke-linecap="round"/>
<text x="38.6" y="19.9" font-size="8.6" text-anchor="start" fill="#ff00ff" color="#ff00ff">1F09</text>
<text x="38.6" y="27.5" font-size="8.6" text-anchor="start" fill="#22ee22" color="#22ee22">5F09</text>
<text x="38.6" y="35.3" font-size="8.6" text-anchor="start" fill="#000000" color="#000000">1F10</text>
<text x="77.6" y="19.9" font-size="8.6" text-anchor="start" fill="#ff0000" color="#ff0000">5F10</text>
<text x="77.6" y="27.5" font-size="8.6" text-anchor="start" fill="#ff8000" color="#ff8000">1F11</text>
<text x="77.6" y="35.3" font-size="8.6" text-anchor="start" fill="#00f0ff" color="#00f0ff">1F11,10keV,10s</text>
<text x="140.8" y="22.1" font-size="9.6" text-anchor="end" fill="#000" color="#000">a)</text>
<path d="M151 92.5 C151.2 88.57 151.77 74.85 152.2 68.9 C152.63 62.95 152.8 59.97 153.6 56.8 C154.4 53.63 155.57 51.77 157 49.9 C158.43 48.03 159.9 46.8 162.2 45.6 C164.5 44.4 169.08 43.13 170.8 42.7 C172.52 42.27 171.48 42.52 172.5 43 C173.52 43.48 175.32 44.67 176.9 45.6 C178.48 46.53 179.57 47.88 182 48.6 C184.43 49.32 188.48 49.97 191.5 49.9 C194.52 49.83 196.95 49.05 200.1 48.2 C203.25 47.35 207.25 46.08 210.4 44.8 C213.55 43.52 216.27 41.8 219 40.5 C221.73 39.2 223.92 37.67 226.8 37 C229.68 36.33 232.72 36.53 236.3 36.5 C239.88 36.47 244.52 36.63 248.3 36.8 C252.08 36.97 257.22 37.38 259 37.5" fill="none" stroke="#00f0ff" stroke-width="1.4" stroke-linejoin="round" stroke-linecap="round"/>
<path d="M171.7 92.5 C172.42 90.85 174.42 85.38 176 82.6 C177.58 79.82 179.48 77.52 181.2 75.8 C182.92 74.08 184.58 73.02 186.3 72.3 C188.02 71.58 189.2 71.5 191.5 71.5 C193.8 71.5 197.23 72.3 200.1 72.3 C202.97 72.3 205.83 71.78 208.7 71.5 C211.57 71.22 214.72 70.82 217.3 70.6 C219.88 70.38 221.9 69.97 224.2 70.2 C226.5 70.43 228.52 71.22 231.1 72 C233.68 72.78 236.83 73.85 239.7 74.9 C242.57 75.95 245.08 77.07 248.3 78.3 C251.52 79.53 257.22 81.63 259 82.3" fill="none" stroke="#ff8000" stroke-width="1.4" stroke-linejoin="round" stroke-linecap="round"/>
<polyline points="215.6,92.6 220,91.7 226,91.3 232,91.7 236.3,92.6" fill="none" stroke="#ff0000" stroke-width="1.6" stroke-linejoin="round" stroke-linecap="round"/>
<text x="257.6" y="22.1" font-size="9.6" text-anchor="end" fill="#000" color="#000">b)</text>
<polyline points="34,165 34.2,127 35.5,150 36.5,158.6" fill="none" stroke="#00f0ff" stroke-width="1.4" stroke-linejoin="round" stroke-linecap="round"/>
<path d="M36.5 158.6 C37.05 158.68 38.17 159.23 39.8 159.1 C41.43 158.97 44.4 158.15 46.3 157.8 C48.2 157.45 49.7 157.27 51.2 157 C52.7 156.73 54.35 155.8 55.3 156.2 C56.25 156.6 56.08 158.45 56.9 159.4 C57.72 160.35 58.97 161.08 60.2 161.9 C61.43 162.72 62.8 163.7 64.3 164.3 C65.8 164.9 67.58 165.37 69.2 165.5 C70.82 165.63 72.38 165.48 74 165.1 C75.62 164.72 77.27 163.82 78.9 163.2 C80.53 162.58 81.62 161.67 83.8 161.4 C85.98 161.13 89.28 161.65 92 161.6 C94.72 161.55 97.38 161.38 100.1 161.1 C102.82 160.82 105.98 160.37 108.3 159.9 C110.62 159.43 112.63 158.3 114 158.3 C115.37 158.3 114.73 159.3 116.5 159.9 C118.27 160.5 121.62 161.17 124.6 161.9 C127.58 162.63 131.42 163.7 134.4 164.3 C137.38 164.9 141.15 165.3 142.5 165.5" fill="none" stroke="#00f0ff" stroke-width="1.4" stroke-linejoin="round" stroke-linecap="round"/>
<path d="M33.8 170.9 C34.53 171.3 34.75 172.82 38.2 173.3 C41.65 173.78 47.72 173.58 54.5 173.8 C61.28 174.02 64.23 174.53 78.9 174.6 C93.57 174.67 131.9 174.27 142.5 174.2" fill="none" stroke="#000000" stroke-width="1.4" stroke-linejoin="round" stroke-linecap="round"/>
<path d="M33.8 170.9 C34.8 171.17 36.35 172.1 39.8 172.5 C43.25 172.9 47.98 173.08 54.5 173.3 C61.02 173.52 64.23 173.8 78.9 173.8 C93.57 173.8 131.9 173.38 142.5 173.3" fill="none" stroke="#00ee00" stroke-width="1.4" stroke-linejoin="round" stroke-linecap="round"/>
<path d="M33.8 170 C38.07 170.37 48.37 171.95 59.4 172.2 C70.43 172.45 86.15 171.72 100 171.5 C113.85 171.28 135.42 171 142.5 170.9" fill="none" stroke="#ff00ff" stroke-width="1.4" stroke-linejoin="round" stroke-linecap="round"/>
<path d="M33.8 170.9 C34.53 171.3 36.93 173.17 38.2 173.3 C39.47 173.43 40.32 173.87 41.4 171.7 C42.48 169.53 43.62 164.93 44.7 160.3 C45.78 155.67 46.82 148.8 47.9 143.9 C48.98 139 50.1 134.43 51.2 130.9 C52.3 127.37 53.68 124.47 54.5 122.7 C55.32 120.93 55.57 120.02 56.1 120.3 C56.63 120.58 57.02 121.28 57.7 124.4 C58.38 127.52 59.38 133.83 60.2 139 C61.02 144.17 61.78 151.05 62.6 155.4 C63.42 159.75 64.15 162.8 65.1 165.1 C66.05 167.4 66.82 168.1 68.3 169.2 C69.78 170.3 72.23 170.8 74 171.7 C75.77 172.6 76.72 174.07 78.9 174.6 C81.08 175.13 83.02 174.9 87.1 174.9 C91.18 174.9 97.97 174.6 103.4 174.6 C108.83 174.6 113.18 174.85 119.7 174.9 C126.22 174.95 138.7 174.9 142.5 174.9" fill="none" stroke="#ff0000" stroke-width="1.4" stroke-linejoin="round" stroke-linecap="round"/>
<path d="M33.8 170 C34.25 170.55 35.63 173.02 36.5 173.3 C37.37 173.58 38.18 173.87 39 171.7 C39.82 169.53 40.58 166.28 41.4 160.3 C42.22 154.32 43.08 143.7 43.9 135.8 C44.72 127.9 45.68 117.93 46.3 112.9 C46.92 107.87 47.12 106.13 47.6 105.6 C48.08 105.07 48.6 104.67 49.2 109.7 C49.8 114.73 50.6 127.92 51.2 135.8 C51.8 143.68 52.25 152.17 52.8 157 C53.35 161.83 53.68 163.45 54.5 164.8 C55.32 166.15 56.35 165.1 57.7 165.1 C59.05 165.1 60.97 164.52 62.6 164.8 C64.23 165.08 65.87 166.07 67.5 166.8 C69.13 167.53 70.5 168.45 72.4 169.2 C74.3 169.95 76.72 171.43 78.9 171.3 C81.08 171.17 83.32 169.28 85.5 168.4 C87.68 167.52 90.1 166.48 92 166 C93.9 165.52 95.27 165.23 96.9 165.5 C98.53 165.77 100.58 166.63 101.8 167.6 C103.02 168.57 103.12 170.83 104.2 171.3 C105.28 171.77 106.53 170.67 108.3 170.4 C110.07 170.13 112.08 170.03 114.8 169.7 C117.52 169.37 121.33 169.02 124.6 168.4 C127.87 167.78 132.22 166.13 134.4 166 C136.58 165.87 136.35 167.07 137.7 167.6 C139.05 168.13 141.7 168.93 142.5 169.2" fill="none" stroke="#ff8000" stroke-width="1.4" stroke-linejoin="round" stroke-linecap="round"/>
<polyline points="150.8,165 150.8,127.3 152,157.9" fill="none" stroke="#00f0ff" stroke-width="1.4" stroke-linejoin="round" stroke-linecap="round"/>
<path d="M152 157.9 C152.48 158.12 153.3 159.15 154.9 159.2 C156.5 159.25 158.97 158.68 161.6 158.2 C164.23 157.72 168.92 156.22 170.7 156.3 C172.48 156.38 171.33 157.6 172.3 158.7 C173.27 159.8 174.98 161.78 176.5 162.9 C178.02 164.02 179.48 164.85 181.4 165.4 C183.32 165.95 186.07 166.4 188 166.2 C189.93 166 191.07 164.97 193 164.2 C194.93 163.43 197.12 162.03 199.6 161.6 C202.08 161.17 205.13 161.72 207.9 161.6 C210.67 161.48 213.43 161.23 216.2 160.9 C218.97 160.57 222.15 160.1 224.5 159.6 C226.85 159.1 228.65 157.77 230.3 157.9 C231.95 158.03 232.62 159.63 234.4 160.4 C236.18 161.17 238.23 161.82 241 162.5 C243.77 163.18 248 163.93 251 164.5 C254 165.07 257.67 165.67 259 165.9" fill="none" stroke="#00f0ff" stroke-width="1.4" stroke-linejoin="round" stroke-linecap="round"/>
<path d="M150.8 170.3 C151.77 170.72 154.25 172.25 156.6 172.8 C158.95 173.35 161.32 173.6 164.9 173.6 C168.48 173.6 173.13 172.72 178.1 172.8 C183.07 172.88 189.18 173.77 194.7 174.1 C200.22 174.43 205.68 174.6 211.2 174.8 C216.72 175 219.83 175.17 227.8 175.3 C235.77 175.43 253.8 175.55 259 175.6" fill="none" stroke="#ff0000" stroke-width="1.4" stroke-linejoin="round" stroke-linecap="round"/>
<path d="M150.8 170.3 C151.35 170.72 152.87 172.25 154.1 172.8 C155.33 173.35 156.13 173.87 158.2 173.6 C160.27 173.33 164.15 171.88 166.5 171.2 C168.85 170.52 170.37 169.5 172.3 169.5 C174.23 169.5 175.48 170.65 178.1 171.2 C180.72 171.75 185.23 172.12 188 172.8 C190.77 173.48 192.2 174.75 194.7 175.3 C197.2 175.85 198.87 176.1 203 176.1 C207.13 176.1 213.98 175.52 219.5 175.3 C225.02 175.08 229.52 174.63 236.1 174.8 C242.68 174.97 255.18 176.05 259 176.3" fill="none" stroke="#ff8000" stroke-width="1.4" stroke-linejoin="round" stroke-linecap="round"/>
<path d="M150.8 170.3 C152 170.72 153.45 172.3 158 172.8 C162.55 173.3 161.27 173.3 178.1 173.3 C194.93 173.3 245.52 172.88 259 172.8" fill="none" stroke="#000000" stroke-width="1.4" stroke-linejoin="round" stroke-linecap="round"/>
<path d="M150.8 170.3 C152.6 170.58 157.05 171.63 161.6 172 C166.15 172.37 161.87 172.5 178.1 172.5 C194.33 172.5 245.52 172.08 259 172" fill="none" stroke="#00ee00" stroke-width="1.4" stroke-linejoin="round" stroke-linecap="round"/>
<polyline points="150.8,170.5 259,170.7" fill="none" stroke="#ff00ff" stroke-width="1.4" stroke-linejoin="round" stroke-linecap="round"/>
<line x1="33.5" y1="227.0" x2="142.5" y2="227.0" stroke="#a8a8a8" stroke-width="0.9" stroke-dasharray="5,5"/>
<line x1="149.9" y1="227.4" x2="258.9" y2="227.4" stroke="#a8a8a8" stroke-width="0.9" stroke-dasharray="5,5"/>
<circle cx="54" cy="231" r="1.25" fill="#00ee00" fill-opacity="0.3" stroke="#00ee00" stroke-width="0.9"/>
<circle cx="55.55" cy="231.39" r="1.25" fill="#00ee00" fill-opacity="0.3" stroke="#00ee00" stroke-width="0.9"/>
<circle cx="57.1" cy="231.78" r="1.25" fill="#00ee00" fill-opacity="0.3" stroke="#00ee00" stroke-width="0.9"/>
<circle cx="58.54" cy="232.41" r="1.25" fill="#00ee00" fill-opacity="0.3" stroke="#00ee00" stroke-width="0.9"/>
<circle cx="59.82" cy="233.37" r="1.25" fill="#00ee00" fill-opacity="0.3" stroke="#00ee00" stroke-width="0.9"/>
<circle cx="61.1" cy="234.33" r="1.25" fill="#00ee00" fill-opacity="0.3" stroke="#00ee00" stroke-width="0.9"/>
<circle cx="62.43" cy="235.21" r="1.25" fill="#00ee00" fill-opacity="0.3" stroke="#00ee00" stroke-width="0.9"/>
<circle cx="63.86" cy="235.93" r="1.25" fill="#00ee00" fill-opacity="0.3" stroke="#00ee00" stroke-width="0.9"/>
<circle cx="65.29" cy="236.64" r="1.25" fill="#00ee00" fill-opacity="0.3" stroke="#00ee00" stroke-width="0.9"/>
<polyline points="70,246 75,240 81,234 87,230 93,228 102.6,223 110.6,221.7 120.3,219.8 130,218.2 142,217.7" fill="none" stroke="#00ee00" stroke-width="3.0" stroke-linejoin="round" stroke-linecap="round"/>
<circle cx="35.5" cy="230.5" r="1.3" fill="#00ee00" fill-opacity="0.55" stroke="#00ee00" stroke-width="0.9"/>
<circle cx="37.5" cy="232.5" r="1.3" fill="#00ee00" fill-opacity="0.55" stroke="#00ee00" stroke-width="0.9"/>
<circle cx="38.9" cy="234" r="1.3" fill="#00ee00" fill-opacity="0.55" stroke="#00ee00" stroke-width="0.9"/>
<circle cx="41" cy="237" r="1.3" fill="#00ee00" fill-opacity="0.55" stroke="#00ee00" stroke-width="0.9"/>
<circle cx="42.9" cy="239.5" r="1.3" fill="#00ee00" fill-opacity="0.55" stroke="#00ee00" stroke-width="0.9"/>
<circle cx="44.5" cy="241.1" r="1.3" fill="#00ee00" fill-opacity="0.55" stroke="#00ee00" stroke-width="0.9"/>
<circle cx="45.3" cy="220.9" r="1.3" fill="#00ee00" fill-opacity="0.55" stroke="#00ee00" stroke-width="0.9"/>
<circle cx="47.5" cy="220.6" r="1.3" fill="#00ee00" fill-opacity="0.55" stroke="#00ee00" stroke-width="0.9"/>
<circle cx="49.4" cy="220.4" r="1.3" fill="#00ee00" fill-opacity="0.55" stroke="#00ee00" stroke-width="0.9"/>
<circle cx="51.5" cy="220.8" r="1.3" fill="#00ee00" fill-opacity="0.55" stroke="#00ee00" stroke-width="0.9"/>
<circle cx="64.7" cy="224.1" r="1.3" fill="#00ee00" fill-opacity="0.55" stroke="#00ee00" stroke-width="0.9"/>
<circle cx="66.5" cy="224.5" r="1.3" fill="#00ee00" fill-opacity="0.55" stroke="#00ee00" stroke-width="0.9"/>
<circle cx="68.7" cy="224.9" r="1.3" fill="#00ee00" fill-opacity="0.55" stroke="#00ee00" stroke-width="0.9"/>
<polyline points="150.8,226.9 157.6,230.4 162.7,233 166.5,235.5 170.3,239.3 174.1,242.5 179.2,243.7 185.5,242.5 191.9,239.9 198.2,237.4 204.6,234.9 210,233 227.8,231 244.3,229 258.8,226" fill="none" stroke="#00ee00" stroke-width="3.0" stroke-linejoin="round" stroke-linecap="round"/>
<circle cx="52" cy="302.6" r="1.25" fill="#00ee00" fill-opacity="0.3" stroke="#00ee00" stroke-width="0.9"/>
<circle cx="53.49" cy="302.8" r="1.25" fill="#00ee00" fill-opacity="0.3" stroke="#00ee00" stroke-width="0.9"/>
<circle cx="54.97" cy="303.01" r="1.25" fill="#00ee00" fill-opacity="0.3" stroke="#00ee00" stroke-width="0.9"/>
<circle cx="56.46" cy="303.21" r="1.25" fill="#00ee00" fill-opacity="0.3" stroke="#00ee00" stroke-width="0.9"/>
<circle cx="57.86" cy="302.92" r="1.25" fill="#00ee00" fill-opacity="0.3" stroke="#00ee00" stroke-width="0.9"/>
<circle cx="59.2" cy="302.25" r="1.25" fill="#00ee00" fill-opacity="0.3" stroke="#00ee00" stroke-width="0.9"/>
<circle cx="60.55" cy="301.58" r="1.25" fill="#00ee00" fill-opacity="0.3" stroke="#00ee00" stroke-width="0.9"/>
<circle cx="61.89" cy="300.91" r="1.25" fill="#00ee00" fill-opacity="0.3" stroke="#00ee00" stroke-width="0.9"/>
<circle cx="63.23" cy="300.24" r="1.25" fill="#00ee00" fill-opacity="0.3" stroke="#00ee00" stroke-width="0.9"/>
<circle cx="64.57" cy="299.56" r="1.25" fill="#00ee00" fill-opacity="0.3" stroke="#00ee00" stroke-width="0.9"/>
<circle cx="65.91" cy="298.89" r="1.25" fill="#00ee00" fill-opacity="0.3" stroke="#00ee00" stroke-width="0.9"/>
<circle cx="67.25" cy="298.22" r="1.25" fill="#00ee00" fill-opacity="0.3" stroke="#00ee00" stroke-width="0.9"/>
<circle cx="34.9" cy="313.7" r="1.3" fill="#00ee00" fill-opacity="0.55" stroke="#00ee00" stroke-width="0.9"/>
<circle cx="40" cy="306.5" r="1.3" fill="#00ee00" fill-opacity="0.55" stroke="#00ee00" stroke-width="0.9"/>
<circle cx="41.2" cy="302" r="1.3" fill="#00ee00" fill-opacity="0.55" stroke="#00ee00" stroke-width="0.9"/>
<circle cx="41.9" cy="292.5" r="1.3" fill="#00ee00" fill-opacity="0.55" stroke="#00ee00" stroke-width="0.9"/>
<circle cx="43.8" cy="290.6" r="1.3" fill="#00ee00" fill-opacity="0.55" stroke="#00ee00" stroke-width="0.9"/>
<circle cx="69.8" cy="291.9" r="1.3" fill="#00ee00" fill-opacity="0.55" stroke="#00ee00" stroke-width="0.9"/>
<circle cx="71.1" cy="293.8" r="1.3" fill="#00ee00" fill-opacity="0.55" stroke="#00ee00" stroke-width="0.9"/>
<circle cx="73.2" cy="297.7" r="1.3" fill="#00ee00" fill-opacity="0.55" stroke="#00ee00" stroke-width="0.9"/>
<circle cx="75" cy="305" r="1.3" fill="#00ee00" fill-opacity="0.55" stroke="#00ee00" stroke-width="0.9"/>
<circle cx="76.5" cy="317.3" r="1.3" fill="#00ee00" fill-opacity="0.55" stroke="#00ee00" stroke-width="0.9"/>
<circle cx="77.5" cy="321" r="1.3" fill="#00ee00" fill-opacity="0.55" stroke="#00ee00" stroke-width="0.9"/>
<circle cx="78.9" cy="325.5" r="1.3" fill="#00ee00" fill-opacity="0.55" stroke="#00ee00" stroke-width="0.9"/>
<polyline points="78.9,325.5 82.2,327.1 95.3,327.4 111.6,326.3 127.9,327.4 142,327.9" fill="none" stroke="#00ee00" stroke-width="3.0" stroke-linejoin="round" stroke-linecap="round"/>
<circle cx="151.8" cy="313.3" r="1.25" fill="#00ee00" fill-opacity="0.3" stroke="#00ee00" stroke-width="0.9"/>
<circle cx="153.61" cy="311.88" r="1.25" fill="#00ee00" fill-opacity="0.3" stroke="#00ee00" stroke-width="0.9"/>
<circle cx="155.42" cy="310.46" r="1.25" fill="#00ee00" fill-opacity="0.3" stroke="#00ee00" stroke-width="0.9"/>
<circle cx="157.1" cy="308.9" r="1.25" fill="#00ee00" fill-opacity="0.3" stroke="#00ee00" stroke-width="0.9"/>
<circle cx="158.73" cy="307.27" r="1.25" fill="#00ee00" fill-opacity="0.3" stroke="#00ee00" stroke-width="0.9"/>
<circle cx="160.35" cy="305.65" r="1.25" fill="#00ee00" fill-opacity="0.3" stroke="#00ee00" stroke-width="0.9"/>
<circle cx="161.98" cy="304.02" r="1.25" fill="#00ee00" fill-opacity="0.3" stroke="#00ee00" stroke-width="0.9"/>
<circle cx="163.61" cy="302.39" r="1.25" fill="#00ee00" fill-opacity="0.3" stroke="#00ee00" stroke-width="0.9"/>
<circle cx="165.23" cy="300.77" r="1.25" fill="#00ee00" fill-opacity="0.3" stroke="#00ee00" stroke-width="0.9"/>
<circle cx="166.86" cy="299.14" r="1.25" fill="#00ee00" fill-opacity="0.3" stroke="#00ee00" stroke-width="0.9"/>
<circle cx="168.62" cy="297.65" r="1.25" fill="#00ee00" fill-opacity="0.3" stroke="#00ee00" stroke-width="0.9"/>
<circle cx="170.44" cy="296.28" r="1.25" fill="#00ee00" fill-opacity="0.3" stroke="#00ee00" stroke-width="0.9"/>
<circle cx="172.5" cy="295.25" r="1.25" fill="#00ee00" fill-opacity="0.3" stroke="#00ee00" stroke-width="0.9"/>
<circle cx="174.67" cy="294.51" r="1.25" fill="#00ee00" fill-opacity="0.3" stroke="#00ee00" stroke-width="0.9"/>
<circle cx="176.89" cy="294.7" r="1.25" fill="#00ee00" fill-opacity="0.3" stroke="#00ee00" stroke-width="0.9"/>
<circle cx="178.81" cy="295.81" r="1.25" fill="#00ee00" fill-opacity="0.3" stroke="#00ee00" stroke-width="0.9"/>
<circle cx="180.44" cy="297.44" r="1.25" fill="#00ee00" fill-opacity="0.3" stroke="#00ee00" stroke-width="0.9"/>
<circle cx="181.6" cy="299.42" r="1.25" fill="#00ee00" fill-opacity="0.3" stroke="#00ee00" stroke-width="0.9"/>
<circle cx="182.72" cy="301.43" r="1.25" fill="#00ee00" fill-opacity="0.3" stroke="#00ee00" stroke-width="0.9"/>
<circle cx="183.74" cy="303.49" r="1.25" fill="#00ee00" fill-opacity="0.3" stroke="#00ee00" stroke-width="0.9"/>
<circle cx="184.82" cy="305.52" r="1.25" fill="#00ee00" fill-opacity="0.3" stroke="#00ee00" stroke-width="0.9"/>
<circle cx="186.04" cy="307.47" r="1.25" fill="#00ee00" fill-opacity="0.3" stroke="#00ee00" stroke-width="0.9"/>
<circle cx="186.99" cy="309.56" r="1.25" fill="#00ee00" fill-opacity="0.3" stroke="#00ee00" stroke-width="0.9"/>
<circle cx="187.87" cy="311.69" r="1.25" fill="#00ee00" fill-opacity="0.3" stroke="#00ee00" stroke-width="0.9"/>
<circle cx="188.7" cy="313.83" r="1.25" fill="#00ee00" fill-opacity="0.3" stroke="#00ee00" stroke-width="0.9"/>
<circle cx="189.51" cy="315.98" r="1.25" fill="#00ee00" fill-opacity="0.3" stroke="#00ee00" stroke-width="0.9"/>
<polyline points="189.9,317 194.7,318 211.2,317.2 236.1,318 258.8,319.3" fill="none" stroke="#00ee00" stroke-width="3.0" stroke-linejoin="round" stroke-linecap="round"/>
<polyline points="56.9,367.2 60.5,366.5 63.4,364.3 65.6,363.4" fill="none" stroke="#00ee00" stroke-width="2.8" stroke-linejoin="round" stroke-linecap="round"/>
<circle cx="43.1" cy="372.7" r="1.3" fill="#00ee00" fill-opacity="0.55" stroke="#00ee00" stroke-width="0.9"/>
<circle cx="56.2" cy="375.2" r="1.3" fill="#00ee00" fill-opacity="0.55" stroke="#00ee00" stroke-width="0.9"/>
<circle cx="43.9" cy="363.2" r="1.3" fill="#00ee00" fill-opacity="0.55" stroke="#00ee00" stroke-width="0.9"/>
<circle cx="73.2" cy="384.6" r="1.3" fill="#00ee00" fill-opacity="0.55" stroke="#00ee00" stroke-width="0.9"/>
<circle cx="73.4" cy="398.4" r="1.3" fill="#00ee00" fill-opacity="0.55" stroke="#00ee00" stroke-width="0.9"/>
<circle cx="35.7" cy="412.1" r="1.3" fill="#00ee00" fill-opacity="0.55" stroke="#00ee00" stroke-width="0.9"/>
<circle cx="42.2" cy="412.5" r="1.3" fill="#00ee00" fill-opacity="0.55" stroke="#00ee00" stroke-width="0.9"/>
<circle cx="36.5" cy="425.5" r="1.3" fill="#00ee00" fill-opacity="0.55" stroke="#00ee00" stroke-width="0.9"/>
<circle cx="38.2" cy="427.1" r="1.3" fill="#00ee00" fill-opacity="0.55" stroke="#00ee00" stroke-width="0.9"/>
<circle cx="155.8" cy="417.4" r="1.3" fill="#00ee00" fill-opacity="0.55" stroke="#00ee00" stroke-width="0.9"/>
<circle cx="156.6" cy="423.2" r="1.3" fill="#00ee00" fill-opacity="0.55" stroke="#00ee00" stroke-width="0.9"/>
<circle cx="158.2" cy="429.8" r="1.3" fill="#00ee00" fill-opacity="0.55" stroke="#00ee00" stroke-width="0.9"/>
<circle cx="161.6" cy="427.4" r="1.3" fill="#00ee00" fill-opacity="0.55" stroke="#00ee00" stroke-width="0.9"/>
<circle cx="164.9" cy="422.4" r="1.3" fill="#00ee00" fill-opacity="0.55" stroke="#00ee00" stroke-width="0.9"/>
<circle cx="168.2" cy="415.8" r="1.3" fill="#00ee00" fill-opacity="0.55" stroke="#00ee00" stroke-width="0.9"/>
<circle cx="170.7" cy="409.6" r="1.3" fill="#00ee00" fill-opacity="0.55" stroke="#00ee00" stroke-width="0.9"/>
<circle cx="171.5" cy="400" r="1.3" fill="#00ee00" fill-opacity="0.55" stroke="#00ee00" stroke-width="0.9"/>
<circle cx="172.3" cy="391.8" r="1.3" fill="#00ee00" fill-opacity="0.55" stroke="#00ee00" stroke-width="0.9"/>
<circle cx="174" cy="388.5" r="1.3" fill="#00ee00" fill-opacity="0.55" stroke="#00ee00" stroke-width="0.9"/>
<circle cx="176.5" cy="388.5" r="1.3" fill="#00ee00" fill-opacity="0.55" stroke="#00ee00" stroke-width="0.9"/>
<circle cx="178.1" cy="393.4" r="1.3" fill="#00ee00" fill-opacity="0.55" stroke="#00ee00" stroke-width="0.9"/>
<circle cx="179.8" cy="399.2" r="1.3" fill="#00ee00" fill-opacity="0.55" stroke="#00ee00" stroke-width="0.9"/>
<circle cx="180.6" cy="403.4" r="1.3" fill="#00ee00" fill-opacity="0.55" stroke="#00ee00" stroke-width="0.9"/>
<circle cx="182.3" cy="408.3" r="1.3" fill="#00ee00" fill-opacity="0.55" stroke="#00ee00" stroke-width="0.9"/>
<circle cx="183.9" cy="415.8" r="1.3" fill="#00ee00" fill-opacity="0.55" stroke="#00ee00" stroke-width="0.9"/>
<circle cx="185.6" cy="421.6" r="1.3" fill="#00ee00" fill-opacity="0.55" stroke="#00ee00" stroke-width="0.9"/>
<circle cx="188" cy="429.8" r="1.3" fill="#00ee00" fill-opacity="0.55" stroke="#00ee00" stroke-width="0.9"/>
<circle cx="193" cy="426.5" r="1.3" fill="#00ee00" fill-opacity="0.55" stroke="#00ee00" stroke-width="0.9"/>
<circle cx="194.7" cy="424.1" r="1.3" fill="#00ee00" fill-opacity="0.55" stroke="#00ee00" stroke-width="0.9"/>
<circle cx="198" cy="422.9" r="1.3" fill="#00ee00" fill-opacity="0.55" stroke="#00ee00" stroke-width="0.9"/>
<circle cx="151.5" cy="407" r="1.3" fill="#00ee00" fill-opacity="0.55" stroke="#00ee00" stroke-width="0.9"/>
<polyline points="33.5,490.5 38,489.8 41.9,489.2" fill="none" stroke="#00ee00" stroke-width="3.0" stroke-linejoin="round" stroke-linecap="round"/>
<circle cx="44.4" cy="498.1" r="1.3" fill="#00ee00" fill-opacity="0.55" stroke="#00ee00" stroke-width="0.9"/>
<polyline points="53.3,502.5 58.4,503.1 63.5,503.8" fill="none" stroke="#00ee00" stroke-width="3.0" stroke-linejoin="round" stroke-linecap="round"/>
<polyline points="69.2,491.2 73,491 76.3,491.5" fill="none" stroke="#00ee00" stroke-width="3.0" stroke-linejoin="round" stroke-linecap="round"/>
<circle cx="76" cy="486.3" r="1.25" fill="#00ee00" fill-opacity="0.3" stroke="#00ee00" stroke-width="0.9"/>
<circle cx="76.63" cy="484.61" r="1.25" fill="#00ee00" fill-opacity="0.3" stroke="#00ee00" stroke-width="0.9"/>
<polyline points="77.9,480.5 80.1,480.3 83.8,483.5 88.8,485.4 94.8,487.9 103.4,486.6 119.7,485.8 142,483.3" fill="none" stroke="#00ee00" stroke-width="3.0" stroke-linejoin="round" stroke-linecap="round"/>
<polyline points="150.8,490 155.1,485.3 160.1,486 163.9,487.9 167.7,491 171.5,493.6 176.6,493 181.7,494.2 186.8,492.3 190.6,489.2 191.8,479 194.4,475.2 198.2,477.7 203.2,481.5 207,486.6 215,489.8 236.1,490.5 258.8,489.7" fill="none" stroke="#00ee00" stroke-width="3.0" stroke-linejoin="round" stroke-linecap="round"/>
<circle cx="46" cy="232" r="1.25" fill="#000000" fill-opacity="0.3" stroke="#000000" stroke-width="0.9"/>
<circle cx="47.12" cy="231.16" r="1.25" fill="#000000" fill-opacity="0.3" stroke="#000000" stroke-width="0.9"/>
<circle cx="48.24" cy="230.32" r="1.25" fill="#000000" fill-opacity="0.3" stroke="#000000" stroke-width="0.9"/>
<circle cx="49.36" cy="229.48" r="1.25" fill="#000000" fill-opacity="0.3" stroke="#000000" stroke-width="0.9"/>
<circle cx="50.6" cy="228.94" r="1.25" fill="#000000" fill-opacity="0.3" stroke="#000000" stroke-width="0.9"/>
<circle cx="51.99" cy="228.8" r="1.25" fill="#000000" fill-opacity="0.3" stroke="#000000" stroke-width="0.9"/>
<circle cx="53.38" cy="228.66" r="1.25" fill="#000000" fill-opacity="0.3" stroke="#000000" stroke-width="0.9"/>
<circle cx="54.78" cy="228.52" r="1.25" fill="#000000" fill-opacity="0.3" stroke="#000000" stroke-width="0.9"/>
<circle cx="56.15" cy="228.48" r="1.25" fill="#000000" fill-opacity="0.3" stroke="#000000" stroke-width="0.9"/>
<circle cx="57.39" cy="229.12" r="1.25" fill="#000000" fill-opacity="0.3" stroke="#000000" stroke-width="0.9"/>
<circle cx="58.64" cy="229.77" r="1.25" fill="#000000" fill-opacity="0.3" stroke="#000000" stroke-width="0.9"/>
<circle cx="59.88" cy="230.42" r="1.25" fill="#000000" fill-opacity="0.3" stroke="#000000" stroke-width="0.9"/>
<circle cx="61.11" cy="231.08" r="1.25" fill="#000000" fill-opacity="0.3" stroke="#000000" stroke-width="0.9"/>
<circle cx="62.2" cy="231.96" r="1.25" fill="#000000" fill-opacity="0.3" stroke="#000000" stroke-width="0.9"/>
<circle cx="63.29" cy="232.83" r="1.25" fill="#000000" fill-opacity="0.3" stroke="#000000" stroke-width="0.9"/>
<circle cx="64.38" cy="233.71" r="1.25" fill="#000000" fill-opacity="0.3" stroke="#000000" stroke-width="0.9"/>
<circle cx="65.48" cy="234.58" r="1.25" fill="#000000" fill-opacity="0.3" stroke="#000000" stroke-width="0.9"/>
<circle cx="66.57" cy="235.46" r="1.25" fill="#000000" fill-opacity="0.3" stroke="#000000" stroke-width="0.9"/>
<circle cx="67.66" cy="236.33" r="1.25" fill="#000000" fill-opacity="0.3" stroke="#000000" stroke-width="0.9"/>
<circle cx="68.76" cy="237.21" r="1.25" fill="#000000" fill-opacity="0.3" stroke="#000000" stroke-width="0.9"/>
<polyline points="68.4,243 73,238 78,232 83,229 89,227 93,226.4 102.6,222.5 110.6,220.1 120.3,217.7 130,216.4 142,216.5" fill="none" stroke="#000000" stroke-width="3.0" stroke-linejoin="round" stroke-linecap="round"/>
<circle cx="37" cy="230" r="1.3" fill="#000000" fill-opacity="0.55" stroke="#000000" stroke-width="0.9"/>
<circle cx="39" cy="233" r="1.3" fill="#000000" fill-opacity="0.55" stroke="#000000" stroke-width="0.9"/>
<circle cx="40" cy="236" r="1.3" fill="#000000" fill-opacity="0.55" stroke="#000000" stroke-width="0.9"/>
<circle cx="41" cy="238" r="1.3" fill="#000000" fill-opacity="0.55" stroke="#000000" stroke-width="0.9"/>
<circle cx="46" cy="232.4" r="1.3" fill="#000000" fill-opacity="0.55" stroke="#000000" stroke-width="0.9"/>
<polyline points="150.8,227.5 155.1,231 160.2,234.2 165.2,239.3 169,243.1 172.8,246.9 175.4,249.5 180.5,250.7 184.3,250.1 188.1,248.2 193.1,245.6 198.2,243.7 204.6,242.5 210,241.2 227.8,234 244.3,230.2 258.8,227.4" fill="none" stroke="#000000" stroke-width="3.0" stroke-linejoin="round" stroke-linecap="round"/>
<polyline points="48.2,307.1 52,306.5 55.8,305.8 60.9,304.6 64.7,302 68.5,298.2 71.1,296.3" fill="none" stroke="#000000" stroke-width="3.0" stroke-linejoin="round" stroke-linecap="round"/>
<circle cx="36.8" cy="305.8" r="1.3" fill="#000000" fill-opacity="0.55" stroke="#000000" stroke-width="0.9"/>
<circle cx="38.7" cy="302.6" r="1.3" fill="#000000" fill-opacity="0.55" stroke="#000000" stroke-width="0.9"/>
<circle cx="40.6" cy="296.3" r="1.3" fill="#000000" fill-opacity="0.55" stroke="#000000" stroke-width="0.9"/>
<circle cx="45.7" cy="302.6" r="1.3" fill="#000000" fill-opacity="0.55" stroke="#000000" stroke-width="0.9"/>
<circle cx="73.6" cy="298.2" r="1.3" fill="#000000" fill-opacity="0.55" stroke="#000000" stroke-width="0.9"/>
<circle cx="75.7" cy="315.7" r="1.3" fill="#000000" fill-opacity="0.55" stroke="#000000" stroke-width="0.9"/>
<circle cx="77.3" cy="328.7" r="1.3" fill="#000000" fill-opacity="0.55" stroke="#000000" stroke-width="0.9"/>
<circle cx="78.9" cy="336.9" r="1.3" fill="#000000" fill-opacity="0.55" stroke="#000000" stroke-width="0.9"/>
<circle cx="80.5" cy="334" r="1.3" fill="#000000" fill-opacity="0.55" stroke="#000000" stroke-width="0.9"/>
<polyline points="80.5,334 82.2,332 87.1,329.5 95.3,328.7 111.6,326.8 124.6,328.7 142,330" fill="none" stroke="#000000" stroke-width="3.0" stroke-linejoin="round" stroke-linecap="round"/>
<circle cx="151.5" cy="313.5" r="1.25" fill="#000000" fill-opacity="0.3" stroke="#000000" stroke-width="0.9"/>
<circle cx="152.84" cy="312.16" r="1.25" fill="#000000" fill-opacity="0.3" stroke="#000000" stroke-width="0.9"/>
<circle cx="154.19" cy="310.81" r="1.25" fill="#000000" fill-opacity="0.3" stroke="#000000" stroke-width="0.9"/>
<circle cx="155.48" cy="309.42" r="1.25" fill="#000000" fill-opacity="0.3" stroke="#000000" stroke-width="0.9"/>
<circle cx="156.7" cy="307.96" r="1.25" fill="#000000" fill-opacity="0.3" stroke="#000000" stroke-width="0.9"/>
<circle cx="157.91" cy="306.5" r="1.25" fill="#000000" fill-opacity="0.3" stroke="#000000" stroke-width="0.9"/>
<circle cx="159.11" cy="305.03" r="1.25" fill="#000000" fill-opacity="0.3" stroke="#000000" stroke-width="0.9"/>
<circle cx="160.18" cy="303.46" r="1.25" fill="#000000" fill-opacity="0.3" stroke="#000000" stroke-width="0.9"/>
<circle cx="161.24" cy="301.88" r="1.25" fill="#000000" fill-opacity="0.3" stroke="#000000" stroke-width="0.9"/>
<circle cx="162.24" cy="300.27" r="1.25" fill="#000000" fill-opacity="0.3" stroke="#000000" stroke-width="0.9"/>
<circle cx="163.22" cy="298.64" r="1.25" fill="#000000" fill-opacity="0.3" stroke="#000000" stroke-width="0.9"/>
<circle cx="164.1" cy="296.96" r="1.25" fill="#000000" fill-opacity="0.3" stroke="#000000" stroke-width="0.9"/>
<circle cx="164.92" cy="295.25" r="1.25" fill="#000000" fill-opacity="0.3" stroke="#000000" stroke-width="0.9"/>
<circle cx="165.74" cy="293.53" r="1.25" fill="#000000" fill-opacity="0.3" stroke="#000000" stroke-width="0.9"/>
<circle cx="166.6" cy="291.84" r="1.25" fill="#000000" fill-opacity="0.3" stroke="#000000" stroke-width="0.9"/>
<circle cx="167.46" cy="290.14" r="1.25" fill="#000000" fill-opacity="0.3" stroke="#000000" stroke-width="0.9"/>
<circle cx="168.49" cy="288.58" r="1.25" fill="#000000" fill-opacity="0.3" stroke="#000000" stroke-width="0.9"/>
<circle cx="169.95" cy="287.37" r="1.25" fill="#000000" fill-opacity="0.3" stroke="#000000" stroke-width="0.9"/>
<circle cx="171.51" cy="286.34" r="1.25" fill="#000000" fill-opacity="0.3" stroke="#000000" stroke-width="0.9"/>
<circle cx="173.33" cy="285.78" r="1.25" fill="#000000" fill-opacity="0.3" stroke="#000000" stroke-width="0.9"/>
<circle cx="175.15" cy="285.25" r="1.25" fill="#000000" fill-opacity="0.3" stroke="#000000" stroke-width="0.9"/>
<circle cx="177.01" cy="284.9" r="1.25" fill="#000000" fill-opacity="0.3" stroke="#000000" stroke-width="0.9"/>
<circle cx="178.9" cy="284.93" r="1.25" fill="#000000" fill-opacity="0.3" stroke="#000000" stroke-width="0.9"/>
<circle cx="180.73" cy="285.35" r="1.25" fill="#000000" fill-opacity="0.3" stroke="#000000" stroke-width="0.9"/>
<circle cx="182.31" cy="286.41" r="1.25" fill="#000000" fill-opacity="0.3" stroke="#000000" stroke-width="0.9"/>
<circle cx="183.61" cy="287.78" r="1.25" fill="#000000" fill-opacity="0.3" stroke="#000000" stroke-width="0.9"/>
<circle cx="184.84" cy="289.23" r="1.25" fill="#000000" fill-opacity="0.3" stroke="#000000" stroke-width="0.9"/>
<circle cx="186.3" cy="294.3" r="1.3" fill="#000000" fill-opacity="0.55" stroke="#000000" stroke-width="0.9"/>
<circle cx="188.1" cy="298.8" r="1.3" fill="#000000" fill-opacity="0.55" stroke="#000000" stroke-width="0.9"/>
<circle cx="189.4" cy="302.9" r="1.3" fill="#000000" fill-opacity="0.55" stroke="#000000" stroke-width="0.9"/>
<circle cx="190.3" cy="307" r="1.3" fill="#000000" fill-opacity="0.55" stroke="#000000" stroke-width="0.9"/>
<circle cx="191.5" cy="311" r="1.3" fill="#000000" fill-opacity="0.55" stroke="#000000" stroke-width="0.9"/>
<polyline points="192.5,318 194.7,319.3 203,318.8 219.5,319.3 236.1,318.8 258.8,317.2" fill="none" stroke="#000000" stroke-width="3.0" stroke-linejoin="round" stroke-linecap="round"/>
<polyline points="48.6,374.9 50.4,377.8 56.2,378.8 60.5,379.6" fill="none" stroke="#000000" stroke-width="2.6" stroke-linejoin="round" stroke-linecap="round"/>
<circle cx="41" cy="364" r="1.3" fill="#000000" fill-opacity="0.55" stroke="#000000" stroke-width="0.9"/>
<circle cx="46.8" cy="371.2" r="1.3" fill="#000000" fill-opacity="0.55" stroke="#000000" stroke-width="0.9"/>
<circle cx="67.1" cy="364.7" r="1.3" fill="#000000" fill-opacity="0.55" stroke="#000000" stroke-width="0.9"/>
<circle cx="64.2" cy="369.4" r="1.3" fill="#000000" fill-opacity="0.55" stroke="#000000" stroke-width="0.9"/>
<circle cx="72.5" cy="372.7" r="1.3" fill="#000000" fill-opacity="0.55" stroke="#000000" stroke-width="0.9"/>
<circle cx="73.6" cy="384.6" r="1.3" fill="#000000" fill-opacity="0.55" stroke="#000000" stroke-width="0.9"/>
<circle cx="74.9" cy="410" r="1.3" fill="#000000" fill-opacity="0.55" stroke="#000000" stroke-width="0.9"/>
<circle cx="35.7" cy="419" r="1.3" fill="#000000" fill-opacity="0.55" stroke="#000000" stroke-width="0.9"/>
<circle cx="37.3" cy="423.9" r="1.3" fill="#000000" fill-opacity="0.55" stroke="#000000" stroke-width="0.9"/>
<circle cx="174.8" cy="362.8" r="1.3" fill="#000000" fill-opacity="0.55" stroke="#000000" stroke-width="0.9"/>
<circle cx="168.2" cy="369.4" r="1.3" fill="#000000" fill-opacity="0.55" stroke="#000000" stroke-width="0.9"/>
<circle cx="166.5" cy="376.9" r="1.3" fill="#000000" fill-opacity="0.55" stroke="#000000" stroke-width="0.9"/>
<circle cx="164.9" cy="385.1" r="1.3" fill="#000000" fill-opacity="0.55" stroke="#000000" stroke-width="0.9"/>
<circle cx="164" cy="399.2" r="1.3" fill="#000000" fill-opacity="0.55" stroke="#000000" stroke-width="0.9"/>
<circle cx="162.4" cy="412.5" r="1.3" fill="#000000" fill-opacity="0.55" stroke="#000000" stroke-width="0.9"/>
<circle cx="160.7" cy="422.4" r="1.3" fill="#000000" fill-opacity="0.55" stroke="#000000" stroke-width="0.9"/>
<circle cx="159.1" cy="426.5" r="1.3" fill="#000000" fill-opacity="0.55" stroke="#000000" stroke-width="0.9"/>
<circle cx="156.6" cy="430.7" r="1.3" fill="#000000" fill-opacity="0.55" stroke="#000000" stroke-width="0.9"/>
<circle cx="154.1" cy="421.6" r="1.3" fill="#000000" fill-opacity="0.55" stroke="#000000" stroke-width="0.9"/>
<circle cx="153.3" cy="413.3" r="1.3" fill="#000000" fill-opacity="0.55" stroke="#000000" stroke-width="0.9"/>
<circle cx="178.9" cy="366.9" r="1.3" fill="#000000" fill-opacity="0.55" stroke="#000000" stroke-width="0.9"/>
<circle cx="180.6" cy="370.2" r="1.3" fill="#000000" fill-opacity="0.55" stroke="#000000" stroke-width="0.9"/>
<circle cx="183.1" cy="380.2" r="1.3" fill="#000000" fill-opacity="0.55" stroke="#000000" stroke-width="0.9"/>
<circle cx="184.7" cy="386.8" r="1.3" fill="#000000" fill-opacity="0.55" stroke="#000000" stroke-width="0.9"/>
<circle cx="185.6" cy="397.6" r="1.3" fill="#000000" fill-opacity="0.55" stroke="#000000" stroke-width="0.9"/>
<circle cx="187.2" cy="401.7" r="1.3" fill="#000000" fill-opacity="0.55" stroke="#000000" stroke-width="0.9"/>
<circle cx="188" cy="409.2" r="1.3" fill="#000000" fill-opacity="0.55" stroke="#000000" stroke-width="0.9"/>
<circle cx="188.9" cy="417.4" r="1.3" fill="#000000" fill-opacity="0.55" stroke="#000000" stroke-width="0.9"/>
<circle cx="190.5" cy="426.5" r="1.3" fill="#000000" fill-opacity="0.55" stroke="#000000" stroke-width="0.9"/>
<circle cx="191.4" cy="433.2" r="1.3" fill="#000000" fill-opacity="0.55" stroke="#000000" stroke-width="0.9"/>
<polyline points="171,362.6 177.5,363.2" fill="none" stroke="#000000" stroke-width="2.6" stroke-linejoin="round" stroke-linecap="round"/>
<circle cx="168.8" cy="366.5" r="1.3" fill="#000000" fill-opacity="0.55" stroke="#000000" stroke-width="0.9"/>
<circle cx="167.4" cy="372.7" r="1.3" fill="#000000" fill-opacity="0.55" stroke="#000000" stroke-width="0.9"/>
<circle cx="179" cy="366.5" r="1.3" fill="#000000" fill-opacity="0.55" stroke="#000000" stroke-width="0.9"/>
<circle cx="182.6" cy="378.8" r="1.3" fill="#000000" fill-opacity="0.55" stroke="#000000" stroke-width="0.9"/>
<polyline points="47,503 55.8,501.9 62.2,501.9 67.3,503.8" fill="none" stroke="#000000" stroke-width="3.0" stroke-linejoin="round" stroke-linecap="round"/>
<circle cx="68.5" cy="503.8" r="1.25" fill="#000000" fill-opacity="0.3" stroke="#000000" stroke-width="0.9"/>
<circle cx="69.51" cy="502.19" r="1.25" fill="#000000" fill-opacity="0.3" stroke="#000000" stroke-width="0.9"/>
<circle cx="70.53" cy="500.59" r="1.25" fill="#000000" fill-opacity="0.3" stroke="#000000" stroke-width="0.9"/>
<circle cx="71.58" cy="499.01" r="1.25" fill="#000000" fill-opacity="0.3" stroke="#000000" stroke-width="0.9"/>
<circle cx="72.66" cy="497.44" r="1.25" fill="#000000" fill-opacity="0.3" stroke="#000000" stroke-width="0.9"/>
<circle cx="73.74" cy="495.88" r="1.25" fill="#000000" fill-opacity="0.3" stroke="#000000" stroke-width="0.9"/>
<circle cx="74.79" cy="494.29" r="1.25" fill="#000000" fill-opacity="0.3" stroke="#000000" stroke-width="0.9"/>
<circle cx="75.82" cy="492.7" r="1.25" fill="#000000" fill-opacity="0.3" stroke="#000000" stroke-width="0.9"/>
<circle cx="76.82" cy="491.09" r="1.25" fill="#000000" fill-opacity="0.3" stroke="#000000" stroke-width="0.9"/>
<circle cx="77.22" cy="489.23" r="1.25" fill="#000000" fill-opacity="0.3" stroke="#000000" stroke-width="0.9"/>
<circle cx="77.61" cy="487.37" r="1.25" fill="#000000" fill-opacity="0.3" stroke="#000000" stroke-width="0.9"/>
<polyline points="77.9,486 77.9,478.2 80.1,475.4 82.8,477.1 85.5,480.9 90.4,484.7 94.8,485.8 103.4,485.5 111.6,485 119.7,484.2 127.9,482.5 136,481.2 142,481.2" fill="none" stroke="#000000" stroke-width="3.0" stroke-linejoin="round" stroke-linecap="round"/>
<circle cx="39.8" cy="500.5" r="1.3" fill="#000000" fill-opacity="0.55" stroke="#000000" stroke-width="0.9"/>
<circle cx="41.5" cy="502" r="1.3" fill="#000000" fill-opacity="0.55" stroke="#000000" stroke-width="0.9"/>
<circle cx="43.5" cy="503" r="1.3" fill="#000000" fill-opacity="0.55" stroke="#000000" stroke-width="0.9"/>
<polyline points="150.8,487 152.5,485.3 156.3,486.6 160.1,489.8 163.9,493" fill="none" stroke="#000000" stroke-width="3.0" stroke-linejoin="round" stroke-linecap="round"/>
<circle cx="163.9" cy="493" r="1.25" fill="#000000" fill-opacity="0.3" stroke="#000000" stroke-width="0.9"/>
<circle cx="165.55" cy="492.58" r="1.25" fill="#000000" fill-opacity="0.3" stroke="#000000" stroke-width="0.9"/>
<circle cx="167.19" cy="492.16" r="1.25" fill="#000000" fill-opacity="0.3" stroke="#000000" stroke-width="0.9"/>
<circle cx="168.84" cy="491.74" r="1.25" fill="#000000" fill-opacity="0.3" stroke="#000000" stroke-width="0.9"/>
<circle cx="170.45" cy="491.2" r="1.25" fill="#000000" fill-opacity="0.3" stroke="#000000" stroke-width="0.9"/>
<circle cx="172.06" cy="490.65" r="1.25" fill="#000000" fill-opacity="0.3" stroke="#000000" stroke-width="0.9"/>
<circle cx="173.21" cy="489.57" r="1.25" fill="#000000" fill-opacity="0.3" stroke="#000000" stroke-width="0.9"/>
<circle cx="173.95" cy="488.05" r="1.25" fill="#000000" fill-opacity="0.3" stroke="#000000" stroke-width="0.9"/>
<circle cx="174.7" cy="486.52" r="1.25" fill="#000000" fill-opacity="0.3" stroke="#000000" stroke-width="0.9"/>
<circle cx="175.47" cy="485.01" r="1.25" fill="#000000" fill-opacity="0.3" stroke="#000000" stroke-width="0.9"/>
<circle cx="176.34" cy="483.54" r="1.25" fill="#000000" fill-opacity="0.3" stroke="#000000" stroke-width="0.9"/>
<circle cx="177.2" cy="482.08" r="1.25" fill="#000000" fill-opacity="0.3" stroke="#000000" stroke-width="0.9"/>
<circle cx="178.13" cy="480.67" r="1.25" fill="#000000" fill-opacity="0.3" stroke="#000000" stroke-width="0.9"/>
<circle cx="179.34" cy="479.46" r="1.25" fill="#000000" fill-opacity="0.3" stroke="#000000" stroke-width="0.9"/>
<circle cx="180.54" cy="478.26" r="1.25" fill="#000000" fill-opacity="0.3" stroke="#000000" stroke-width="0.9"/>
<circle cx="181.75" cy="477.08" r="1.25" fill="#000000" fill-opacity="0.3" stroke="#000000" stroke-width="0.9"/>
<circle cx="183.36" cy="476.53" r="1.25" fill="#000000" fill-opacity="0.3" stroke="#000000" stroke-width="0.9"/>
<circle cx="184.97" cy="475.98" r="1.25" fill="#000000" fill-opacity="0.3" stroke="#000000" stroke-width="0.9"/>
<circle cx="186.41" cy="476.49" r="1.25" fill="#000000" fill-opacity="0.3" stroke="#000000" stroke-width="0.9"/>
<circle cx="187.76" cy="477.52" r="1.25" fill="#000000" fill-opacity="0.3" stroke="#000000" stroke-width="0.9"/>
<circle cx="188.63" cy="478.95" r="1.25" fill="#000000" fill-opacity="0.3" stroke="#000000" stroke-width="0.9"/>
<circle cx="189.38" cy="480.48" r="1.25" fill="#000000" fill-opacity="0.3" stroke="#000000" stroke-width="0.9"/>
<circle cx="190.09" cy="482.02" r="1.25" fill="#000000" fill-opacity="0.3" stroke="#000000" stroke-width="0.9"/>
<circle cx="190.8" cy="483.56" r="1.25" fill="#000000" fill-opacity="0.3" stroke="#000000" stroke-width="0.9"/>
<circle cx="191.67" cy="485.02" r="1.25" fill="#000000" fill-opacity="0.3" stroke="#000000" stroke-width="0.9"/>
<circle cx="192.6" cy="486.44" r="1.25" fill="#000000" fill-opacity="0.3" stroke="#000000" stroke-width="0.9"/>
<polyline points="195,464.4 200.7,468.2 207,472.7" fill="none" stroke="#000000" stroke-width="3.0" stroke-linejoin="round" stroke-linecap="round"/>
<polyline points="207.9,488 219.5,488.9 236.1,490.5 258.8,492.2" fill="none" stroke="#000000" stroke-width="3.0" stroke-linejoin="round" stroke-linecap="round"/>
<polyline points="74.4,208 76.8,204 79.2,203.2 81.6,204.8 84.8,208.8 89.7,211.2 94.5,212.8 99.4,216.1 104.2,220.9 110.6,223.6 118.7,225.3 126.8,225.7 142,226.5" fill="none" stroke="#ff0000" stroke-width="3.0" stroke-linejoin="round" stroke-linecap="round"/>
<polyline points="34.5,229 38.1,226.5 41.3,225.3 46.1,225.7 51,226.5" fill="none" stroke="#ff0000" stroke-width="3.0" stroke-linejoin="round" stroke-linecap="round"/>
<circle cx="69" cy="237" r="1.3" fill="#ff0000" fill-opacity="0.55" stroke="#ff0000" stroke-width="0.9"/>
<circle cx="151.3" cy="229.8" r="1.25" fill="#ff0000" fill-opacity="0.3" stroke="#ff0000" stroke-width="0.9"/>
<circle cx="152.54" cy="231.24" r="1.25" fill="#ff0000" fill-opacity="0.3" stroke="#ff0000" stroke-width="0.9"/>
<circle cx="153.78" cy="232.68" r="1.25" fill="#ff0000" fill-opacity="0.3" stroke="#ff0000" stroke-width="0.9"/>
<circle cx="155.03" cy="234.11" r="1.25" fill="#ff0000" fill-opacity="0.3" stroke="#ff0000" stroke-width="0.9"/>
<circle cx="156.57" cy="235.21" r="1.25" fill="#ff0000" fill-opacity="0.3" stroke="#ff0000" stroke-width="0.9"/>
<circle cx="158.14" cy="236.28" r="1.25" fill="#ff0000" fill-opacity="0.3" stroke="#ff0000" stroke-width="0.9"/>
<circle cx="159.72" cy="237.34" r="1.25" fill="#ff0000" fill-opacity="0.3" stroke="#ff0000" stroke-width="0.9"/>
<circle cx="161.31" cy="238.38" r="1.25" fill="#ff0000" fill-opacity="0.3" stroke="#ff0000" stroke-width="0.9"/>
<circle cx="174.1" cy="236.8" r="1.25" fill="#ff0000" fill-opacity="0.3" stroke="#ff0000" stroke-width="0.9"/>
<circle cx="175.63" cy="237.28" r="1.25" fill="#ff0000" fill-opacity="0.3" stroke="#ff0000" stroke-width="0.9"/>
<circle cx="177.15" cy="237.76" r="1.25" fill="#ff0000" fill-opacity="0.3" stroke="#ff0000" stroke-width="0.9"/>
<polyline points="186.8,256 190.6,250.7 194.4,246.9 199.5,244.4 204.6,243.7 210,242.5 219.5,241 236.1,236 258.8,229.7" fill="none" stroke="#ff0000" stroke-width="3.0" stroke-linejoin="round" stroke-linecap="round"/>
<circle cx="35.5" cy="306.5" r="1.3" fill="#ff0000" fill-opacity="0.55" stroke="#ff0000" stroke-width="0.9"/>
<circle cx="36.8" cy="309" r="1.3" fill="#ff0000" fill-opacity="0.55" stroke="#ff0000" stroke-width="0.9"/>
<circle cx="74.9" cy="322.2" r="1.3" fill="#ff0000" fill-opacity="0.55" stroke="#ff0000" stroke-width="0.9"/>
<circle cx="76" cy="330" r="1.3" fill="#ff0000" fill-opacity="0.55" stroke="#ff0000" stroke-width="0.9"/>
<circle cx="77.3" cy="341.8" r="1.3" fill="#ff0000" fill-opacity="0.55" stroke="#ff0000" stroke-width="0.9"/>
<circle cx="78.9" cy="335.3" r="1.3" fill="#ff0000" fill-opacity="0.55" stroke="#ff0000" stroke-width="0.9"/>
<polyline points="63.5,303.9 66,304.6 68.5,307.1 71.1,309 73.6,310.9" fill="none" stroke="#ff0000" stroke-width="3.0" stroke-linejoin="round" stroke-linecap="round"/>
<polyline points="80,333 83.8,331.2 88,331.6 92,331.7" fill="none" stroke="#ff0000" stroke-width="3.0" stroke-linejoin="round" stroke-linecap="round"/>
<circle cx="94" cy="331.3" r="1.2" fill="#ff0000" fill-opacity="0.55" stroke="#ff0000" stroke-width="1.0"/>
<circle cx="96.3" cy="330.2" r="1.2" fill="#ff0000" fill-opacity="0.55" stroke="#ff0000" stroke-width="1.0"/>
<circle cx="98.5" cy="328.7" r="1.2" fill="#ff0000" fill-opacity="0.55" stroke="#ff0000" stroke-width="1.0"/>
<circle cx="100.2" cy="326.5" r="1.2" fill="#ff0000" fill-opacity="0.55" stroke="#ff0000" stroke-width="1.0"/>
<circle cx="101.8" cy="324.4" r="1.2" fill="#ff0000" fill-opacity="0.55" stroke="#ff0000" stroke-width="1.0"/>
<circle cx="103.4" cy="322.2" r="1.2" fill="#ff0000" fill-opacity="0.55" stroke="#ff0000" stroke-width="1.0"/>
<circle cx="105" cy="320.3" r="1.2" fill="#ff0000" fill-opacity="0.55" stroke="#ff0000" stroke-width="1.0"/>
<circle cx="106.6" cy="318.4" r="1.2" fill="#ff0000" fill-opacity="0.55" stroke="#ff0000" stroke-width="1.0"/>
<circle cx="108.3" cy="316.5" r="1.2" fill="#ff0000" fill-opacity="0.55" stroke="#ff0000" stroke-width="1.0"/>
<circle cx="155.4" cy="303.4" r="1.25" fill="#ff0000" fill-opacity="0.3" stroke="#ff0000" stroke-width="0.9"/>
<circle cx="156.26" cy="301.37" r="1.25" fill="#ff0000" fill-opacity="0.3" stroke="#ff0000" stroke-width="0.9"/>
<circle cx="157.11" cy="299.35" r="1.25" fill="#ff0000" fill-opacity="0.3" stroke="#ff0000" stroke-width="0.9"/>
<circle cx="158.23" cy="297.46" r="1.25" fill="#ff0000" fill-opacity="0.3" stroke="#ff0000" stroke-width="0.9"/>
<circle cx="159.63" cy="295.85" r="1.25" fill="#ff0000" fill-opacity="0.3" stroke="#ff0000" stroke-width="0.9"/>
<circle cx="161.61" cy="294.89" r="1.25" fill="#ff0000" fill-opacity="0.3" stroke="#ff0000" stroke-width="0.9"/>
<circle cx="173.6" cy="301.1" r="1.25" fill="#ff0000" fill-opacity="0.3" stroke="#ff0000" stroke-width="0.9"/>
<circle cx="175.5" cy="300.47" r="1.25" fill="#ff0000" fill-opacity="0.3" stroke="#ff0000" stroke-width="0.9"/>
<circle cx="188.1" cy="286.2" r="1.25" fill="#ff0000" fill-opacity="0.3" stroke="#ff0000" stroke-width="0.9"/>
<circle cx="189.49" cy="288.37" r="1.25" fill="#ff0000" fill-opacity="0.3" stroke="#ff0000" stroke-width="0.9"/>
<circle cx="190.12" cy="290.89" r="1.25" fill="#ff0000" fill-opacity="0.3" stroke="#ff0000" stroke-width="0.9"/>
<circle cx="190.75" cy="293.41" r="1.25" fill="#ff0000" fill-opacity="0.3" stroke="#ff0000" stroke-width="0.9"/>
<circle cx="191.34" cy="295.95" r="1.25" fill="#ff0000" fill-opacity="0.3" stroke="#ff0000" stroke-width="0.9"/>
<circle cx="191.8" cy="298.5" r="1.25" fill="#ff0000" fill-opacity="0.3" stroke="#ff0000" stroke-width="0.9"/>
<circle cx="192.25" cy="301.06" r="1.25" fill="#ff0000" fill-opacity="0.3" stroke="#ff0000" stroke-width="0.9"/>
<polyline points="194.7,319.7 203,320.5 219.5,321.3 236.1,320.5 258.8,318" fill="none" stroke="#ff0000" stroke-width="3.0" stroke-linejoin="round" stroke-linecap="round"/>
<polyline points="39.5,381 43.9,381.7 49.7,380.3 54.7,378.1 58.4,376.7 63.4,375.6 65.2,375.9" fill="none" stroke="#ff0000" stroke-width="2.8" stroke-linejoin="round" stroke-linecap="round"/>
<polyline points="67.8,366.5 71.4,365.1 74.3,364" fill="none" stroke="#ff0000" stroke-width="2.4" stroke-linejoin="round" stroke-linecap="round"/>
<circle cx="37.3" cy="368" r="1.3" fill="#ff0000" fill-opacity="0.55" stroke="#ff0000" stroke-width="0.9"/>
<circle cx="35.9" cy="370.1" r="1.3" fill="#ff0000" fill-opacity="0.55" stroke="#ff0000" stroke-width="0.9"/>
<circle cx="35.5" cy="421" r="1.3" fill="#ff0000" fill-opacity="0.55" stroke="#ff0000" stroke-width="0.9"/>
<circle cx="160.9" cy="364.3" r="1.3" fill="#ff0000" fill-opacity="0.55" stroke="#ff0000" stroke-width="0.9"/>
<circle cx="159.6" cy="367.5" r="1.3" fill="#ff0000" fill-opacity="0.55" stroke="#ff0000" stroke-width="0.9"/>
<circle cx="158.7" cy="370.9" r="1.3" fill="#ff0000" fill-opacity="0.55" stroke="#ff0000" stroke-width="0.9"/>
<circle cx="158.3" cy="375.2" r="1.3" fill="#ff0000" fill-opacity="0.55" stroke="#ff0000" stroke-width="0.9"/>
<circle cx="157.2" cy="381" r="1.3" fill="#ff0000" fill-opacity="0.55" stroke="#ff0000" stroke-width="0.9"/>
<circle cx="156.6" cy="381" r="1.3" fill="#ff0000" fill-opacity="0.55" stroke="#ff0000" stroke-width="0.9"/>
<circle cx="156.6" cy="391" r="1.3" fill="#ff0000" fill-opacity="0.55" stroke="#ff0000" stroke-width="0.9"/>
<circle cx="188" cy="365.3" r="1.3" fill="#ff0000" fill-opacity="0.55" stroke="#ff0000" stroke-width="0.9"/>
<circle cx="188.9" cy="373.6" r="1.3" fill="#ff0000" fill-opacity="0.55" stroke="#ff0000" stroke-width="0.9"/>
<circle cx="190.5" cy="392.6" r="1.3" fill="#ff0000" fill-opacity="0.55" stroke="#ff0000" stroke-width="0.9"/>
<circle cx="191.4" cy="399.2" r="1.3" fill="#ff0000" fill-opacity="0.55" stroke="#ff0000" stroke-width="0.9"/>
<circle cx="150.8" cy="423.2" r="1.3" fill="#ff0000" fill-opacity="0.55" stroke="#ff0000" stroke-width="0.9"/>
<circle cx="193" cy="418.3" r="1.3" fill="#ff0000" fill-opacity="0.55" stroke="#ff0000" stroke-width="0.9"/>
<polyline points="174.5,363 178.5,363.8" fill="none" stroke="#ff0000" stroke-width="1.8" stroke-linejoin="round" stroke-linecap="round"/>
<circle cx="34.1" cy="488.2" r="1.3" fill="#ff0000" fill-opacity="0.55" stroke="#ff0000" stroke-width="0.9"/>
<circle cx="67.5" cy="504.5" r="1.3" fill="#ff0000" fill-opacity="0.55" stroke="#ff0000" stroke-width="0.9"/>
<circle cx="72.4" cy="511.9" r="1.3" fill="#ff0000" fill-opacity="0.55" stroke="#ff0000" stroke-width="0.9"/>
<circle cx="73.2" cy="513.5" r="1.3" fill="#ff0000" fill-opacity="0.55" stroke="#ff0000" stroke-width="0.9"/>
<circle cx="76.8" cy="462.5" r="1.25" fill="#ff0000" fill-opacity="0.3" stroke="#ff0000" stroke-width="0.9"/>
<circle cx="77.98" cy="464.11" r="1.25" fill="#ff0000" fill-opacity="0.3" stroke="#ff0000" stroke-width="0.9"/>
<circle cx="78.96" cy="465.83" r="1.25" fill="#ff0000" fill-opacity="0.3" stroke="#ff0000" stroke-width="0.9"/>
<circle cx="79.64" cy="467.72" r="1.25" fill="#ff0000" fill-opacity="0.3" stroke="#ff0000" stroke-width="0.9"/>
<circle cx="80.31" cy="469.6" r="1.25" fill="#ff0000" fill-opacity="0.3" stroke="#ff0000" stroke-width="0.9"/>
<circle cx="80.98" cy="471.48" r="1.25" fill="#ff0000" fill-opacity="0.3" stroke="#ff0000" stroke-width="0.9"/>
<circle cx="81.79" cy="473.31" r="1.25" fill="#ff0000" fill-opacity="0.3" stroke="#ff0000" stroke-width="0.9"/>
<circle cx="82.66" cy="475.11" r="1.25" fill="#ff0000" fill-opacity="0.3" stroke="#ff0000" stroke-width="0.9"/>
<polyline points="82.8,475.4 83.9,477.6 87.2,478.2 91.5,477.1 94.8,476.8 98.5,479.3 105,484.2" fill="none" stroke="#ff0000" stroke-width="3.0" stroke-linejoin="round" stroke-linecap="round"/>
<polyline points="108.3,498 114.8,500.1 127.9,500.1 142,500.5" fill="none" stroke="#ff0000" stroke-width="3.0" stroke-linejoin="round" stroke-linecap="round"/>
<polyline points="150.8,487.2 152,489" fill="none" stroke="#ff0000" stroke-width="3.0" stroke-linejoin="round" stroke-linecap="round"/>
<polyline points="155.1,499.3 158.9,500.6 163.9,502.5" fill="none" stroke="#ff0000" stroke-width="3.0" stroke-linejoin="round" stroke-linecap="round"/>
<polyline points="189.3,472.7 194.4,473.3 198.2,475.8 203.2,480.3 209.6,482.2 215,482.8 236.1,484.4 258.8,486.4" fill="none" stroke="#ff0000" stroke-width="3.0" stroke-linejoin="round" stroke-linecap="round"/>
<polyline points="34.5,226.5 39.7,222.5 42.9,222 47.7,222.5 52.6,224.1 55,221.7" fill="none" stroke="#ff8000" stroke-width="3.0" stroke-linejoin="round" stroke-linecap="round"/>
<polyline points="66.3,210.4 69.5,214.5 73.5,217.7 78.4,220.1 84.8,223.3 91.3,225.7 97.7,227.8 102.6,227.4 107.4,224.9 115.5,223.6 126.8,224.6 142,226.2" fill="none" stroke="#ff8000" stroke-width="3.0" stroke-linejoin="round" stroke-linecap="round"/>
<circle cx="59" cy="191.9" r="1.3" fill="#ff8000" fill-opacity="0.55" stroke="#ff8000" stroke-width="0.9"/>
<circle cx="60.6" cy="194.3" r="1.3" fill="#ff8000" fill-opacity="0.55" stroke="#ff8000" stroke-width="0.9"/>
<circle cx="61.5" cy="197.5" r="1.3" fill="#ff8000" fill-opacity="0.55" stroke="#ff8000" stroke-width="0.9"/>
<circle cx="62.3" cy="201.5" r="1.3" fill="#ff8000" fill-opacity="0.55" stroke="#ff8000" stroke-width="0.9"/>
<circle cx="63.9" cy="205.6" r="1.3" fill="#ff8000" fill-opacity="0.55" stroke="#ff8000" stroke-width="0.9"/>
<circle cx="65" cy="208" r="1.3" fill="#ff8000" fill-opacity="0.55" stroke="#ff8000" stroke-width="0.9"/>
<circle cx="56.6" cy="250.7" r="1.3" fill="#ff8000" fill-opacity="0.55" stroke="#ff8000" stroke-width="0.9"/>
<circle cx="58.2" cy="248.3" r="1.3" fill="#ff8000" fill-opacity="0.55" stroke="#ff8000" stroke-width="0.9"/>
<circle cx="150" cy="227.9" r="1.25" fill="#ff8000" fill-opacity="0.3" stroke="#ff8000" stroke-width="0.9"/>
<circle cx="151.47" cy="229.1" r="1.25" fill="#ff8000" fill-opacity="0.3" stroke="#ff8000" stroke-width="0.9"/>
<circle cx="152.94" cy="230.3" r="1.25" fill="#ff8000" fill-opacity="0.3" stroke="#ff8000" stroke-width="0.9"/>
<circle cx="154.46" cy="231.45" r="1.25" fill="#ff8000" fill-opacity="0.3" stroke="#ff8000" stroke-width="0.9"/>
<circle cx="156.02" cy="232.52" r="1.25" fill="#ff8000" fill-opacity="0.3" stroke="#ff8000" stroke-width="0.9"/>
<circle cx="157.59" cy="233.6" r="1.25" fill="#ff8000" fill-opacity="0.3" stroke="#ff8000" stroke-width="0.9"/>
<circle cx="159.18" cy="234.64" r="1.25" fill="#ff8000" fill-opacity="0.3" stroke="#ff8000" stroke-width="0.9"/>
<circle cx="160.77" cy="235.68" r="1.25" fill="#ff8000" fill-opacity="0.3" stroke="#ff8000" stroke-width="0.9"/>
<circle cx="162.44" cy="235.62" r="1.25" fill="#ff8000" fill-opacity="0.3" stroke="#ff8000" stroke-width="0.9"/>
<circle cx="164.13" cy="234.77" r="1.25" fill="#ff8000" fill-opacity="0.3" stroke="#ff8000" stroke-width="0.9"/>
<circle cx="165.47" cy="233.43" r="1.25" fill="#ff8000" fill-opacity="0.3" stroke="#ff8000" stroke-width="0.9"/>
<circle cx="166.56" cy="231.89" r="1.25" fill="#ff8000" fill-opacity="0.3" stroke="#ff8000" stroke-width="0.9"/>
<circle cx="167.53" cy="230.26" r="1.25" fill="#ff8000" fill-opacity="0.3" stroke="#ff8000" stroke-width="0.9"/>
<polyline points="167.8,229.8 171.6,228.5 176.6,229.8 180.5,232.3 182.4,233.6" fill="none" stroke="#ff8000" stroke-width="2.6" stroke-linejoin="round" stroke-linecap="round"/>
<polyline points="188.1,252 191.9,245.6 194.4,241.8 198.2,239.9 203.3,239.3 210,239.9 227.8,234.3 244.3,228.5 258.8,222.7" fill="none" stroke="#ff8000" stroke-width="3.0" stroke-linejoin="round" stroke-linecap="round"/>
<polyline points="33.5,312.8 39.3,312.2 45.7,310.3 52,308.4 55.8,307.1" fill="none" stroke="#ff8000" stroke-width="3.0" stroke-linejoin="round" stroke-linecap="round"/>
<circle cx="55.8" cy="279.8" r="1.3" fill="#ff8000" fill-opacity="0.55" stroke="#ff8000" stroke-width="0.9"/>
<circle cx="57.2" cy="282.5" r="1.3" fill="#ff8000" fill-opacity="0.55" stroke="#ff8000" stroke-width="0.9"/>
<circle cx="58.4" cy="284.9" r="1.3" fill="#ff8000" fill-opacity="0.55" stroke="#ff8000" stroke-width="0.9"/>
<circle cx="55.8" cy="316.6" r="1.3" fill="#ff8000" fill-opacity="0.55" stroke="#ff8000" stroke-width="0.9"/>
<circle cx="59.6" cy="316.6" r="1.3" fill="#ff8000" fill-opacity="0.55" stroke="#ff8000" stroke-width="0.9"/>
<circle cx="153.6" cy="307.9" r="1.25" fill="#ff8000" fill-opacity="0.3" stroke="#ff8000" stroke-width="0.9"/>
<circle cx="154.63" cy="305.84" r="1.25" fill="#ff8000" fill-opacity="0.3" stroke="#ff8000" stroke-width="0.9"/>
<circle cx="155.75" cy="303.85" r="1.25" fill="#ff8000" fill-opacity="0.3" stroke="#ff8000" stroke-width="0.9"/>
<circle cx="157.17" cy="302.03" r="1.25" fill="#ff8000" fill-opacity="0.3" stroke="#ff8000" stroke-width="0.9"/>
<circle cx="158.75" cy="300.42" r="1.25" fill="#ff8000" fill-opacity="0.3" stroke="#ff8000" stroke-width="0.9"/>
<circle cx="160.79" cy="299.36" r="1.25" fill="#ff8000" fill-opacity="0.3" stroke="#ff8000" stroke-width="0.9"/>
<circle cx="162.96" cy="299.99" r="1.25" fill="#ff8000" fill-opacity="0.3" stroke="#ff8000" stroke-width="0.9"/>
<circle cx="164.75" cy="301.35" r="1.25" fill="#ff8000" fill-opacity="0.3" stroke="#ff8000" stroke-width="0.9"/>
<circle cx="166.3" cy="307.9" r="1.25" fill="#ff8000" fill-opacity="0.3" stroke="#ff8000" stroke-width="0.9"/>
<circle cx="167.98" cy="308.54" r="1.25" fill="#ff8000" fill-opacity="0.3" stroke="#ff8000" stroke-width="0.9"/>
<circle cx="169.67" cy="309.17" r="1.25" fill="#ff8000" fill-opacity="0.3" stroke="#ff8000" stroke-width="0.9"/>
<circle cx="171.44" cy="309.43" r="1.25" fill="#ff8000" fill-opacity="0.3" stroke="#ff8000" stroke-width="0.9"/>
<circle cx="173.23" cy="309.59" r="1.25" fill="#ff8000" fill-opacity="0.3" stroke="#ff8000" stroke-width="0.9"/>
<circle cx="175.01" cy="309.57" r="1.25" fill="#ff8000" fill-opacity="0.3" stroke="#ff8000" stroke-width="0.9"/>
<circle cx="176.76" cy="309.14" r="1.25" fill="#ff8000" fill-opacity="0.3" stroke="#ff8000" stroke-width="0.9"/>
<circle cx="178.41" cy="308.53" r="1.25" fill="#ff8000" fill-opacity="0.3" stroke="#ff8000" stroke-width="0.9"/>
<circle cx="179.78" cy="307.35" r="1.25" fill="#ff8000" fill-opacity="0.3" stroke="#ff8000" stroke-width="0.9"/>
<circle cx="181.14" cy="306.18" r="1.25" fill="#ff8000" fill-opacity="0.3" stroke="#ff8000" stroke-width="0.9"/>
<circle cx="187.2" cy="288" r="1.25" fill="#ff8000" fill-opacity="0.3" stroke="#ff8000" stroke-width="0.9"/>
<circle cx="188.45" cy="290.5" r="1.25" fill="#ff8000" fill-opacity="0.3" stroke="#ff8000" stroke-width="0.9"/>
<circle cx="189.53" cy="293.08" r="1.25" fill="#ff8000" fill-opacity="0.3" stroke="#ff8000" stroke-width="0.9"/>
<circle cx="190.43" cy="295.73" r="1.25" fill="#ff8000" fill-opacity="0.3" stroke="#ff8000" stroke-width="0.9"/>
<circle cx="191.09" cy="298.45" r="1.25" fill="#ff8000" fill-opacity="0.3" stroke="#ff8000" stroke-width="0.9"/>
<circle cx="191.63" cy="301.2" r="1.25" fill="#ff8000" fill-opacity="0.3" stroke="#ff8000" stroke-width="0.9"/>
<circle cx="192.04" cy="303.97" r="1.25" fill="#ff8000" fill-opacity="0.3" stroke="#ff8000" stroke-width="0.9"/>
<circle cx="192.43" cy="306.74" r="1.25" fill="#ff8000" fill-opacity="0.3" stroke="#ff8000" stroke-width="0.9"/>
<circle cx="194.4" cy="324.2" r="1.3" fill="#ff8000" fill-opacity="0.55" stroke="#ff8000" stroke-width="0.9"/>
<polyline points="196,321.3 211.2,322.2 227.8,321.3 244.3,318.8 258.8,316.7" fill="none" stroke="#ff8000" stroke-width="3.0" stroke-linejoin="round" stroke-linecap="round"/>
<polyline points="42.4,384.6 47.5,382.5 51.8,380.3 54.7,378.1" fill="none" stroke="#ff8000" stroke-width="2.8" stroke-linejoin="round" stroke-linecap="round"/>
<circle cx="63.4" cy="366.5" r="1.25" fill="#ff8000" fill-opacity="0.3" stroke="#ff8000" stroke-width="0.9"/>
<circle cx="65" cy="367.33" r="1.25" fill="#ff8000" fill-opacity="0.3" stroke="#ff8000" stroke-width="0.9"/>
<circle cx="66.47" cy="368.29" r="1.25" fill="#ff8000" fill-opacity="0.3" stroke="#ff8000" stroke-width="0.9"/>
<circle cx="67.41" cy="369.82" r="1.25" fill="#ff8000" fill-opacity="0.3" stroke="#ff8000" stroke-width="0.9"/>
<circle cx="68.35" cy="371.36" r="1.25" fill="#ff8000" fill-opacity="0.3" stroke="#ff8000" stroke-width="0.9"/>
<circle cx="69.35" cy="372.85" r="1.25" fill="#ff8000" fill-opacity="0.3" stroke="#ff8000" stroke-width="0.9"/>
<circle cx="70.04" cy="374.45" r="1.25" fill="#ff8000" fill-opacity="0.3" stroke="#ff8000" stroke-width="0.9"/>
<circle cx="70.15" cy="376.25" r="1.25" fill="#ff8000" fill-opacity="0.3" stroke="#ff8000" stroke-width="0.9"/>
<circle cx="70.25" cy="378.05" r="1.25" fill="#ff8000" fill-opacity="0.3" stroke="#ff8000" stroke-width="0.9"/>
<circle cx="35.9" cy="372" r="1.3" fill="#ff8000" fill-opacity="0.55" stroke="#ff8000" stroke-width="0.9"/>
<circle cx="36.3" cy="379.6" r="1.3" fill="#ff8000" fill-opacity="0.55" stroke="#ff8000" stroke-width="0.9"/>
<circle cx="57.3" cy="383.2" r="1.3" fill="#ff8000" fill-opacity="0.55" stroke="#ff8000" stroke-width="0.9"/>
<circle cx="58.4" cy="389" r="1.3" fill="#ff8000" fill-opacity="0.55" stroke="#ff8000" stroke-width="0.9"/>
<circle cx="71" cy="383.2" r="1.3" fill="#ff8000" fill-opacity="0.55" stroke="#ff8000" stroke-width="0.9"/>
<circle cx="114.8" cy="375.3" r="1.3" fill="#ff8000" fill-opacity="0.55" stroke="#ff8000" stroke-width="0.9"/>
<circle cx="118.1" cy="375.3" r="1.3" fill="#ff8000" fill-opacity="0.55" stroke="#ff8000" stroke-width="0.9"/>
<polyline points="79.8,379.8 83.8,382.3 88.7,385.1 93.6,388 98.5,390.4" fill="none" stroke="#ff8000" stroke-width="2.6" stroke-linejoin="round" stroke-linecap="round"/>
<circle cx="152.5" cy="432.3" r="1.3" fill="#ff8000" fill-opacity="0.55" stroke="#ff8000" stroke-width="0.9"/>
<circle cx="154.1" cy="395.1" r="1.3" fill="#ff8000" fill-opacity="0.55" stroke="#ff8000" stroke-width="0.9"/>
<circle cx="154.9" cy="385.1" r="1.3" fill="#ff8000" fill-opacity="0.55" stroke="#ff8000" stroke-width="0.9"/>
<circle cx="156.2" cy="378.5" r="1.3" fill="#ff8000" fill-opacity="0.55" stroke="#ff8000" stroke-width="0.9"/>
<circle cx="157.6" cy="374.5" r="1.3" fill="#ff8000" fill-opacity="0.55" stroke="#ff8000" stroke-width="0.9"/>
<circle cx="158.3" cy="370.5" r="1.3" fill="#ff8000" fill-opacity="0.55" stroke="#ff8000" stroke-width="0.9"/>
<circle cx="159.1" cy="367.2" r="1.3" fill="#ff8000" fill-opacity="0.55" stroke="#ff8000" stroke-width="0.9"/>
<circle cx="160.1" cy="365.1" r="1.3" fill="#ff8000" fill-opacity="0.55" stroke="#ff8000" stroke-width="0.9"/>
<circle cx="161.6" cy="362.9" r="1.3" fill="#ff8000" fill-opacity="0.55" stroke="#ff8000" stroke-width="0.9"/>
<circle cx="188.9" cy="370.2" r="1.3" fill="#ff8000" fill-opacity="0.55" stroke="#ff8000" stroke-width="0.9"/>
<circle cx="190.5" cy="381.8" r="1.3" fill="#ff8000" fill-opacity="0.55" stroke="#ff8000" stroke-width="0.9"/>
<circle cx="191.4" cy="396.7" r="1.3" fill="#ff8000" fill-opacity="0.55" stroke="#ff8000" stroke-width="0.9"/>
<circle cx="150.8" cy="411.6" r="1.3" fill="#ff8000" fill-opacity="0.55" stroke="#ff8000" stroke-width="0.9"/>
<circle cx="166.7" cy="374.5" r="1.25" fill="#ff8000" fill-opacity="0.3" stroke="#ff8000" stroke-width="0.9"/>
<circle cx="168.53" cy="375.72" r="1.25" fill="#ff8000" fill-opacity="0.3" stroke="#ff8000" stroke-width="0.9"/>
<circle cx="170.47" cy="376.76" r="1.25" fill="#ff8000" fill-opacity="0.3" stroke="#ff8000" stroke-width="0.9"/>
<circle cx="172.46" cy="377.69" r="1.25" fill="#ff8000" fill-opacity="0.3" stroke="#ff8000" stroke-width="0.9"/>
<circle cx="174.52" cy="378.47" r="1.25" fill="#ff8000" fill-opacity="0.3" stroke="#ff8000" stroke-width="0.9"/>
<circle cx="176.59" cy="378.39" r="1.25" fill="#ff8000" fill-opacity="0.3" stroke="#ff8000" stroke-width="0.9"/>
<circle cx="178.62" cy="377.59" r="1.25" fill="#ff8000" fill-opacity="0.3" stroke="#ff8000" stroke-width="0.9"/>
<circle cx="180.46" cy="376.38" r="1.25" fill="#ff8000" fill-opacity="0.3" stroke="#ff8000" stroke-width="0.9"/>
<polyline points="33.5,508.9 35.5,507 40.6,505 48.2,503.8 57.1,502.5" fill="none" stroke="#ff8000" stroke-width="3.0" stroke-linejoin="round" stroke-linecap="round"/>
<circle cx="55.8" cy="508.2" r="1.3" fill="#ff8000" fill-opacity="0.55" stroke="#ff8000" stroke-width="0.9"/>
<polyline points="58.4,517.7 62.2,517.1 66,513.3 69.8,509.5 72.3,503.1 74.9,498.7 76.8,499.3" fill="none" stroke="#ff8000" stroke-width="3.0" stroke-linejoin="round" stroke-linecap="round"/>
<polyline points="77.4,504.4 83.8,503.8 93,501.9 103.4,501.3 108.3,505.4 113.2,507.8 121.4,508.6 127.9,509.4 136,512.2 142,511.9" fill="none" stroke="#ff8000" stroke-width="3.0" stroke-linejoin="round" stroke-linecap="round"/>
<polyline points="150.8,488 152.5,490.5" fill="none" stroke="#ff8000" stroke-width="3.0" stroke-linejoin="round" stroke-linecap="round"/>
<polyline points="153.8,500.6 157.6,503.1 162.7,506.3" fill="none" stroke="#ff8000" stroke-width="3.0" stroke-linejoin="round" stroke-linecap="round"/>
<polyline points="165.2,507.5 171.5,505.6 177.9,504.4 183,503.1" fill="none" stroke="#ff8000" stroke-width="3.0" stroke-linejoin="round" stroke-linecap="round"/>
<circle cx="188" cy="484.1" r="1.25" fill="#ff8000" fill-opacity="0.3" stroke="#ff8000" stroke-width="0.9"/>
<circle cx="189.26" cy="482.55" r="1.25" fill="#ff8000" fill-opacity="0.3" stroke="#ff8000" stroke-width="0.9"/>
<circle cx="190.52" cy="481" r="1.25" fill="#ff8000" fill-opacity="0.3" stroke="#ff8000" stroke-width="0.9"/>
<circle cx="191.35" cy="479.18" r="1.25" fill="#ff8000" fill-opacity="0.3" stroke="#ff8000" stroke-width="0.9"/>
<circle cx="192.16" cy="477.35" r="1.25" fill="#ff8000" fill-opacity="0.3" stroke="#ff8000" stroke-width="0.9"/>
<circle cx="192.96" cy="475.52" r="1.25" fill="#ff8000" fill-opacity="0.3" stroke="#ff8000" stroke-width="0.9"/>
<circle cx="195.6" cy="465.7" r="1.3" fill="#ff8000" fill-opacity="0.55" stroke="#ff8000" stroke-width="0.9"/>
<polyline points="198.2,477.7 203.2,479 209.6,480.3 215,480.9 227.8,482.7 244.3,483.9 258.8,483.9" fill="none" stroke="#ff8000" stroke-width="3.0" stroke-linejoin="round" stroke-linecap="round"/>
<polyline points="33.5,229 43,229 50,232 56,237 60,241 65,243 70,242.4 75,238.4 81,233 87,229 93,227.4 99.4,223.3 107.4,222.5 115.5,222.2 126.8,223 142,224.6" fill="none" stroke="#ff00ff" stroke-width="3.0" stroke-linejoin="round" stroke-linecap="round"/>
<polyline points="150.8,226.4 162.7,227.2 175.4,229.8 188.1,231 200.8,230.7 210,230.4 227.8,230 244.3,228.5 258.8,227.4" fill="none" stroke="#ff00ff" stroke-width="3.0" stroke-linejoin="round" stroke-linecap="round"/>
<polyline points="34,314.3 35.5,314.1 40.6,312.2 45.7,306.5 50.8,301.4 54.6,296.3 58.4,291.2 60.9,290.2 63.5,291.9 67.3,295 71.1,299.5 73.6,305.2 76.1,309.6 80,313.4 83,314.9 85.5,318.6 92,321.9 100.1,324.2 108.3,325.1 118.1,324.6 127.9,322.5 136,319.8 142,317.3" fill="none" stroke="#ff00ff" stroke-width="3.0" stroke-linejoin="round" stroke-linecap="round"/>
<polyline points="150.8,313.8 161.6,312.4 173.1,310.6 184.4,309.3 190,309.5 194.7,310.8 201.3,312.2 211.2,313.2 230,313.4 258.8,313.2" fill="none" stroke="#ff00ff" stroke-width="3.0" stroke-linejoin="round" stroke-linecap="round"/>
<polyline points="33.6,406.8 36.5,410.8 39,415.7 40.6,421.4 43,425.5 46.3,424.7 49.6,421.4 52.8,418.2 56.1,414.1" fill="none" stroke="#ff00ff" stroke-width="2.4" stroke-linejoin="round" stroke-linecap="round"/>
<circle cx="56.9" cy="401" r="1.3" fill="#ff00ff" fill-opacity="0.55" stroke="#ff00ff" stroke-width="1.0"/>
<circle cx="58.5" cy="393.7" r="1.3" fill="#ff00ff" fill-opacity="0.55" stroke="#ff00ff" stroke-width="1.0"/>
<circle cx="60.2" cy="392.1" r="1.3" fill="#ff00ff" fill-opacity="0.55" stroke="#ff00ff" stroke-width="1.0"/>
<circle cx="61.8" cy="394.5" r="1.3" fill="#ff00ff" fill-opacity="0.55" stroke="#ff00ff" stroke-width="1.0"/>
<circle cx="63.4" cy="400.2" r="1.3" fill="#ff00ff" fill-opacity="0.55" stroke="#ff00ff" stroke-width="1.0"/>
<circle cx="64.2" cy="403" r="1.3" fill="#ff00ff" fill-opacity="0.55" stroke="#ff00ff" stroke-width="1.0"/>
<circle cx="65.1" cy="405.9" r="1.3" fill="#ff00ff" fill-opacity="0.55" stroke="#ff00ff" stroke-width="1.0"/>
<circle cx="66.3" cy="409" r="1.3" fill="#ff00ff" fill-opacity="0.55" stroke="#ff00ff" stroke-width="1.0"/>
<circle cx="67.5" cy="412.5" r="1.3" fill="#ff00ff" fill-opacity="0.55" stroke="#ff00ff" stroke-width="1.0"/>
<circle cx="68.4" cy="416" r="1.3" fill="#ff00ff" fill-opacity="0.55" stroke="#ff00ff" stroke-width="1.0"/>
<circle cx="69.2" cy="419" r="1.3" fill="#ff00ff" fill-opacity="0.55" stroke="#ff00ff" stroke-width="1.0"/>
<circle cx="70.4" cy="422.5" r="1.3" fill="#ff00ff" fill-opacity="0.55" stroke="#ff00ff" stroke-width="1.0"/>
<circle cx="71.6" cy="425.5" r="1.3" fill="#ff00ff" fill-opacity="0.55" stroke="#ff00ff" stroke-width="1.0"/>
<circle cx="72.8" cy="428.5" r="1.3" fill="#ff00ff" fill-opacity="0.55" stroke="#ff00ff" stroke-width="1.0"/>
<circle cx="74" cy="431.2" r="1.3" fill="#ff00ff" fill-opacity="0.55" stroke="#ff00ff" stroke-width="1.0"/>
<circle cx="76.5" cy="429.6" r="1.3" fill="#ff00ff" fill-opacity="0.55" stroke="#ff00ff" stroke-width="1.0"/>
<circle cx="77.3" cy="426" r="1.3" fill="#ff00ff" fill-opacity="0.55" stroke="#ff00ff" stroke-width="1.0"/>
<circle cx="78.1" cy="422.3" r="1.3" fill="#ff00ff" fill-opacity="0.55" stroke="#ff00ff" stroke-width="1.0"/>
<circle cx="80.6" cy="419.8" r="1.3" fill="#ff00ff" fill-opacity="0.55" stroke="#ff00ff" stroke-width="1.0"/>
<polyline points="150.8,406.7 154.9,408.3 159.9,413.3 163.2,419.9 166.5,425.7 171.5,428.2 176.5,427.4 181.4,424.9 188,421.6 193,418.3 198,414.9 206.3,412.5 214.5,410.3 222.8,408.8 229.4,408.3" fill="none" stroke="#ff00ff" stroke-width="2.6" stroke-linejoin="round" stroke-linecap="round"/>
<polyline points="33.5,496.8 35.5,493 39.3,490.5 45.7,489.8 52,489.2 58.4,489.5 60,488.5 64.9,486.6 70.9,487.9 75.8,488.8 79,487.4 82.8,489 87.2,489.8 94.8,489.3 103.4,488.7 111.6,488.2 119.7,488.7 127.9,489.4 142,490.7" fill="none" stroke="#ff00ff" stroke-width="3.0" stroke-linejoin="round" stroke-linecap="round"/>
<polyline points="150,496.8 155.1,496.1 160.1,493 163.9,488.5 170.3,486.6 177.9,485.3 188,484.7 194.4,484.7 200.7,487.2 207,490.4 215,492.3 227.8,493.8 244.3,495 258.8,496.3" fill="none" stroke="#ff00ff" stroke-width="3.0" stroke-linejoin="round" stroke-linecap="round"/>
<polyline points="40.7,188.8 42.9,191 44,193.7 45.7,197 48.4,200.9 51.8,204.2 56.2,208.1 58.9,211.9 61.7,215.8 64.9,218.4 69.9,221.4 75.9,222.9 82.8,223.4 92.8,224.1 102.6,225.3 110.6,225.3 118.7,225.7 126.8,226.5 134.8,227.8 142,229.5" fill="none" stroke="#00f0ff" stroke-width="3.0" stroke-linejoin="round" stroke-linecap="round"/>
<circle cx="38.9" cy="249.1" r="1.1" fill="#00f0ff" fill-opacity="0.55" stroke="#00f0ff" stroke-width="0.9"/>
<circle cx="34.8" cy="225" r="1.2" fill="#00f0ff" fill-opacity="0.55" stroke="#00f0ff" stroke-width="0.9"/>
<polyline points="157.6,189.8 160.2,193.6 162.7,197.4 166.5,202.5 171.6,206.9 174.1,210.7 176.6,215.2 180.5,219 185.5,222.2 191.9,223.4 198.2,222.8 204.6,223.4 210,224.1 219.5,224.4 231.1,224.1 241,225.7 251,227.4 258.8,228.5" fill="none" stroke="#00f0ff" stroke-width="3.0" stroke-linejoin="round" stroke-linecap="round"/>
<circle cx="154.9" cy="249.6" r="1.3" fill="#00f0ff" fill-opacity="0.55" stroke="#00f0ff" stroke-width="0.9"/>
<circle cx="152.5" cy="222.8" r="1.3" fill="#00f0ff" fill-opacity="0.55" stroke="#00f0ff" stroke-width="0.9"/>
<circle cx="151.2" cy="224" r="1.3" fill="#00f0ff" fill-opacity="0.55" stroke="#00f0ff" stroke-width="0.9"/>
<circle cx="38.1" cy="283.6" r="1.1" fill="#00f0ff" fill-opacity="0.55" stroke="#00f0ff" stroke-width="0.9"/>
<circle cx="34.9" cy="316.5" r="1.2" fill="#00f0ff" fill-opacity="0.55" stroke="#00f0ff" stroke-width="0.9"/>
<polyline points="34,314.4 142,314.4" fill="none" stroke="#00f0ff" stroke-width="2.8" stroke-linejoin="round" stroke-linecap="round"/>
<circle cx="155.3" cy="283.6" r="1.1" fill="#00f0ff" fill-opacity="0.55" stroke="#00f0ff" stroke-width="0.9"/>
<polyline points="150.8,314.7 259,314.7" fill="none" stroke="#00f0ff" stroke-width="2.8" stroke-linejoin="round" stroke-linecap="round"/>
<circle cx="87.1" cy="371.4" r="1.3" fill="#00f0ff" fill-opacity="0.55" stroke="#00f0ff" stroke-width="0.9"/>
<circle cx="89.5" cy="371.4" r="1.3" fill="#00f0ff" fill-opacity="0.55" stroke="#00f0ff" stroke-width="0.9"/>
<circle cx="92" cy="371.4" r="1.3" fill="#00f0ff" fill-opacity="0.55" stroke="#00f0ff" stroke-width="0.9"/>
<circle cx="107.5" cy="369.7" r="1.3" fill="#00f0ff" fill-opacity="0.55" stroke="#00f0ff" stroke-width="0.9"/>
<circle cx="142" cy="372.5" r="1.3" fill="#00f0ff" fill-opacity="0.55" stroke="#00f0ff" stroke-width="0.9"/>
<circle cx="39.2" cy="378.5" r="1.3" fill="#00f0ff" fill-opacity="0.55" stroke="#00f0ff" stroke-width="0.9"/>
<polyline points="48.2,363.4 52,364.5 56.2,366.5" fill="none" stroke="#00f0ff" stroke-width="2.6" stroke-linejoin="round" stroke-linecap="round"/>
<polyline points="61.3,370.9 65,373 69,375.5 72.1,377.4" fill="none" stroke="#00f0ff" stroke-width="2.8" stroke-linejoin="round" stroke-linecap="round"/>
<polyline points="165.9,363.4 168.8,364.3 171.7,365.4" fill="none" stroke="#00f0ff" stroke-width="2.6" stroke-linejoin="round" stroke-linecap="round"/>
<polyline points="177.5,370.9 180.4,372.7 184.1,375.2 188.4,377.4" fill="none" stroke="#00f0ff" stroke-width="2.8" stroke-linejoin="round" stroke-linecap="round"/>
<circle cx="155.1" cy="378.1" r="1.3" fill="#00f0ff" fill-opacity="0.55" stroke="#00f0ff" stroke-width="0.9"/>
<circle cx="203.8" cy="371.1" r="1.3" fill="#00f0ff" fill-opacity="0.55" stroke="#00f0ff" stroke-width="0.9"/>
<circle cx="206.2" cy="371.1" r="1.3" fill="#00f0ff" fill-opacity="0.55" stroke="#00f0ff" stroke-width="0.9"/>
<circle cx="208.7" cy="371.1" r="1.3" fill="#00f0ff" fill-opacity="0.55" stroke="#00f0ff" stroke-width="0.9"/>
<circle cx="224.5" cy="369.9" r="1.3" fill="#00f0ff" fill-opacity="0.55" stroke="#00f0ff" stroke-width="0.9"/>
<circle cx="258.5" cy="372.7" r="1.3" fill="#00f0ff" fill-opacity="0.55" stroke="#00f0ff" stroke-width="0.9"/>
<polyline points="33.5,505 38,501.9" fill="none" stroke="#00f0ff" stroke-width="3.0" stroke-linejoin="round" stroke-linecap="round"/>
<polyline points="40.6,519 44.4,526 48.2,523.5 53.3,518.4 55.8,513.3" fill="none" stroke="#00f0ff" stroke-width="3.0" stroke-linejoin="round" stroke-linecap="round"/>
<polyline points="55.8,513.3 60.9,510.8 66,508.9 71.1,506.3 76.1,507 81.2,510.1 87.6,512 93,512 108.3,513.5 116.5,514.8 127.9,511.9 142,509.9" fill="none" stroke="#00f0ff" stroke-width="3.0" stroke-linejoin="round" stroke-linecap="round"/>
<polyline points="150.8,506.3 153.3,504.6" fill="none" stroke="#00f0ff" stroke-width="3.0" stroke-linejoin="round" stroke-linecap="round"/>
<polyline points="157,518.9 160.8,525.9 165.2,522.1 171.5,515.8 174.1,513.2 180.4,509.4 188,506.3 193.1,507.5 199.4,511.3 207,512 215,511.3 222.8,512.9 232.7,514.5 244.3,511.2 258.8,508.7" fill="none" stroke="#00f0ff" stroke-width="3.0" stroke-linejoin="round" stroke-linecap="round"/>
<text x="38.3" y="350.6" font-size="9.7">(I<tspan font-size="7.2" dy="2.3">k2,R</tspan><tspan dy="-2.3">&#8722;I</tspan><tspan font-size="7.2" dy="2.3">k2,V</tspan><tspan dy="-2.3">)/(I</tspan><tspan font-size="7.2" dy="2.3">k2,R</tspan><tspan dy="-2.3">+I</tspan><tspan font-size="7.2" dy="2.3">k2,V</tspan><tspan dy="-2.3">)</tspan></text>
<text x="38.2" y="437.4" font-size="9.7">&#8722;(I<tspan font-size="7.2" dy="2.3">k2,V</tspan><tspan dy="-2.3">&#8722;I</tspan><tspan font-size="7.2" dy="2.3">k3</tspan><tspan dy="-2.3">)/(I</tspan><tspan font-size="7.2" dy="2.3">k2,V</tspan><tspan dy="-2.3">+I</tspan><tspan font-size="7.2" dy="2.3">k3</tspan><tspan dy="-2.3">)</tspan></text>
<text x="37.6" y="457.7" font-size="8.8">V<tspan font-size="7" dy="2.5">k2,R</tspan><tspan dy="-2.5">&#8722;V</tspan><tspan font-size="7" dy="2.5">k2,V</tspan></text>
<path d="M266.5 217.1 L269.9 217.1 L269.9 222.5 L295.4 222.5 L295.4 227.5 L340.9 227.5 L340.9 232.3 L365.9 232.3 L332.3 232.3 L332.3 237.3 L285.5 237.3 L285.5 242.2 L270.3 242.2 L270.3 247.2 L267.3 247.2 L267.3 251" fill="none" stroke="#000" stroke-width="1.1"/>
<path d="M382.7 217.1 L384.8 217.1 L384.8 222.1 L408.8 222.1 L408.8 227.5 L450.5 227.5 L450.5 232.3 L470.9 232.3 L446.3 232.3 L446.3 237.3 L404.9 237.3 L404.9 242.2 L385.3 242.2 L385.3 247.2 L382.7 247.2" fill="none" stroke="#000" stroke-width="1.1"/>
<path d="M499.8 211.8 L500.2 217.1 L502.6 217.1 L502.6 222.1 L518.1 222.1 L518.1 227.5 L565.3 227.5 L565.3 232.3 L598.2 232.3 L572.4 232.3 L572.4 237.3 L530.7 237.3 L530.7 242.2 L512 242.2 L512 247.2 L503.8 247.2 L503.8 252.3 L499.1 252.3" fill="none" stroke="#000" stroke-width="1.1"/>
<path d="M615.5 217.1 L617.3 217.1 L617.3 222.1 L656 222.1 L656 227.5 L707.9 227.5 L707.9 232.3 L724.5 232.3 L684.4 232.3 L684.4 237.3 L645.4 237.3 L657.5 237.3 L657.5 242.2 L670.4 242.2 L648.1 242.2 L648.1 247.2 L620.3 247.2 L620.3 252.3 L615.5 252.3" fill="none" stroke="#000" stroke-width="1.1"/>
<path d="M266.6 294.8 L268.5 301.3 L269.3 306.2 L279.6 306.2 L279.6 308.1 L294.6 308.1 L294.6 310.4 L319.3 310.4 L319.3 312.4 L356.1 312.4 L356.1 314.6 L375.5 314.6 L320.3 314.6 L320.3 316.8 L266.5 316.8" fill="none" stroke="#000" stroke-width="1.1"/>
<path d="M382.9 294.8 L384.2 298.9 L387 300.5 L388.1 302.1 L397.5 302.1 L397.5 304.2 L408.9 304.2 L408.9 306.2 L424.4 306.2 L424.4 308.5 L441.5 308.5 L441.5 310.4 L456.1 310.4 L456.1 312.4 L475.7 312.4 L475.7 314.6 L491.7 314.6 L435 314.6 L435 316.8 L382.7 316.8" fill="none" stroke="#000" stroke-width="1.1"/>
<path d="M499.6 294.8 L501.5 296.4 L503.1 298 L504.8 299.7 L505.6 301 L513.2 301 L513.2 302.6 L534.1 302.6 L534.1 304.6 L551.2 304.6 L551.2 306.5 L555.5 306.5 L551.2 306.5 L551.2 308.5 L545.1 308.5 L573.9 308.5 L573.9 310.6 L601.6 310.6 L582.9 310.6 L582.9 312.4 L562.5 312.4 L566.6 312.4 L566.6 314.6 L570.7 314.6 L535.7 314.6 L535.7 316.8 L499.1 316.8" fill="none" stroke="#000" stroke-width="1.1"/>
<path d="M615.6 285.5 L616.3 292.6 L616.5 293.4 L617.9 293.4 L617.9 294.7 L623.5 294.7 L623.5 296.6 L630.6 296.6 L630.6 299 L635.4 299 L632 299 L632 300.6 L636 300.6 L631 300.6 L631 302.9 L635 302.9 L635 305 L641.7 305 L634.6 305 L634.6 306.6 L653.6 306.6 L653.6 308.8 L678.2 308.8 L678.2 310.7 L692.5 310.7 L692.5 312.6 L710.7 312.6 L710.7 314.5 L724.5 314.5 L667.1 314.5 L667.1 316.7 L615.5 316.7" fill="none" stroke="#000" stroke-width="1.1"/>
<path d="M266.4 372.3 L314.1 372.3 L314.1 377.2 L366.2 377.2 L366.2 382.4 L375.5 382.4" fill="none" stroke="#000" stroke-width="1.1"/>
<path d="M372.6 382.4 L372.6 387.3 L374.6 387.3 L355.6 387.3 L355.6 392.2 L315.4 392.2 L315.4 397.4 L296.5 397.4 L296.5 402.3 L290.5 402.3 L290.5 407.2 L285.6 407.2 L285.6 412.5 L282.8 412.5 L282.8 417.4 L275.3 417.4 L275.3 422.3 L270.1 422.3 L270.1 427.2 L267.7 427.2 L267.7 432" fill="none" stroke="#000" stroke-width="1.1"/>
<path d="M382.7 372.3 L422.4 372.3 L422.4 377.2 L466.7 377.2 L466.7 382.4 L470.8 382.4 L459.1 382.4 L459.1 387.3 L440.7 387.3 L440.7 392.2 L425.2 392.2 L425.2 397.1 L412.2 397.1 L412.2 402.3 L402.7 402.3 L402.7 407.2 L394.3 407.2 L394.3 412.2 L388.6 412.2 L388.6 417.4 L384.8 417.4 L384.8 422.3 L382.7 422.3" fill="none" stroke="#000" stroke-width="1.1"/>
<path d="M499.1 372.3 L549.5 372.3 L549.5 377.2 L600 377.2 L583.7 377.2 L583.7 382.4 L563.4 382.4 L563.4 387.3 L559.3 387.3 L578.3 387.3 L578.3 392.2 L597.2 392.2 L596.7 392.2 L596.7 397.1 L563.4 397.1 L563.4 402.3 L529.2 402.3 L529.2 407.2 L526.7 407.2 L527.2 407.2 L527.2 412.5 L523.5 412.5 L523.5 417.4 L508.3 417.4 L508.3 422.3 L499.1 422.3" fill="none" stroke="#000" stroke-width="1.1"/>
<path d="M615.5 372.4 L654.3 372.4 L654.3 377.1 L701.7 377.1 L701.7 382.2 L710.8 382.2 L705.4 382.2 L705.4 387.2 L685 387.2 L685 392.3 L666.6 392.3 L666.6 397.1 L649.6 397.1 L649.6 402.3 L636.3 402.3 L636.3 407.4 L630.4 407.4 L630.4 412.5 L624.7 412.5 L624.7 417.3 L622.4 417.3 L622.4 422.6 L618 422.6 L618 427.4 L616.1 427.4 L616.1 442" fill="none" stroke="#000" stroke-width="1.1"/>
<path d="M266.4 457.2 L270.1 457.2 L270.1 465.3 L278.6 465.3 L278.6 473.5 L288 473.5 L288 481.6 L308.4 481.6 L308.4 489.3 L340.1 489.3 L340.1 497.4 L355.6 497.4 L311.2 497.4 L311.2 505.5 L266.4 505.5" fill="none" stroke="#000" stroke-width="1.1"/>
<path d="M389.1 449.6 L389.1 457.2 L401.3 457.2 L401.3 465.3 L422.3 465.3 L422.3 473.5 L447.7 473.5 L447.7 481.6 L473.5 481.6 L473.5 489.3 L489.5 489.3 L478.4 489.3 L478.4 497.4 L425.2 497.4 L425.2 505.5 L382.7 505.5" fill="none" stroke="#000" stroke-width="1.1"/>
<path d="M516.2 449.6 L516.2 457.2 L544.6 457.2 L544.6 465.3 L556.5 465.3 L556.5 473.5 L574.8 473.5 L574.8 481.6 L591.8 481.6 L566.3 481.6 L566.3 489.3 L535.4 489.3 L535.4 497.4 L514.5 497.4 L514.5 505.5 L499.1 505.5" fill="none" stroke="#000" stroke-width="1.1"/>
<line x1="266.3" y1="227.5" x2="375.3" y2="227.5" stroke="#a8a8a8" stroke-width="1.0" stroke-dasharray="5,5"/>
<line x1="266.3" y1="314.6" x2="375.3" y2="314.6" stroke="#a8a8a8" stroke-width="1.0" stroke-dasharray="5,5"/>
<line x1="382.7" y1="227.5" x2="491.7" y2="227.5" stroke="#a8a8a8" stroke-width="1.0" stroke-dasharray="5,5"/>
<line x1="382.7" y1="314.6" x2="491.7" y2="314.6" stroke="#a8a8a8" stroke-width="1.0" stroke-dasharray="5,5"/>
<line x1="499.1" y1="227.5" x2="608.1" y2="227.5" stroke="#a8a8a8" stroke-width="1.0" stroke-dasharray="5,5"/>
<line x1="499.1" y1="314.6" x2="608.1" y2="314.6" stroke="#a8a8a8" stroke-width="1.0" stroke-dasharray="5,5"/>
<line x1="615.5" y1="227.5" x2="724.5" y2="227.5" stroke="#a8a8a8" stroke-width="1.0" stroke-dasharray="5,5"/>
<line x1="615.5" y1="314.6" x2="724.5" y2="314.6" stroke="#a8a8a8" stroke-width="1.0" stroke-dasharray="5,5"/>
<path d="M616.4 449.6 L616.4 457.4 L620.4 457.4 L620.4 465.4 L628.8 465.4 L628.8 473.4 L657.5 473.4 L657.5 481.4 L694.2 481.4 L694.2 489.3 L710.5 489.3 L710.5 497.3 L712.9 497.3 L664.2 497.3 L664.2 505.3 L615.5 505.3" fill="none" stroke="#000" stroke-width="1.1"/>
<text x="88.3" y="7.8" font-size="11" text-anchor="middle" fill="#000" color="#000">Ec=15keV</text>
<text x="205" y="7.8" font-size="11" text-anchor="middle" fill="#000" color="#000">Ec=30keV</text>
<text x="320.8" y="184" font-size="11" text-anchor="middle" fill="#000" color="#000">2014&#8722;08&#8722;01M&#8722;class</text>
<text x="437.2" y="184" font-size="11" text-anchor="middle" fill="#000" color="#000">2015&#8722;06&#8722;22M&#8722;class</text>
<text x="553.6" y="184" font-size="11" text-anchor="middle" fill="#000" color="#000">2014&#8722;09&#8722;10X&#8722;class</text>
<text x="670" y="184" font-size="11" text-anchor="middle" fill="#000" color="#000">2014&#8722;10&#8722;27X&#8722;class</text>
<text x="369.4" y="196.1" font-size="9.8" text-anchor="end" fill="#000" color="#000">c)</text>
<text x="488.5" y="196.1" font-size="9.8" text-anchor="end" fill="#000" color="#000">d)</text>
<text x="602.7" y="196.1" font-size="9.8" text-anchor="end" fill="#000" color="#000">e)</text>
<text x="719.4" y="196.1" font-size="9.8" text-anchor="end" fill="#000" color="#000">f)</text>
<text x="31.3" y="18.2" font-size="9" text-anchor="end" fill="#000" color="#000">4</text>
<text x="31.3" y="42.6" font-size="9" text-anchor="end" fill="#000" color="#000">2</text>
<text x="31.3" y="69.5" font-size="9" text-anchor="end" fill="#000" color="#000">0</text>
<text x="31.3" y="93.2" font-size="9" text-anchor="end" fill="#000" color="#000">&#8722;2</text>
<text x="31.3" y="104.6" font-size="9" text-anchor="end" fill="#000" color="#000">4</text>
<text x="31.3" y="130" font-size="9" text-anchor="end" fill="#000" color="#000">3</text>
<text x="31.3" y="157" font-size="9" text-anchor="end" fill="#000" color="#000">2</text>
<text x="31.3" y="180.6" font-size="9" text-anchor="end" fill="#000" color="#000">1</text>
<text x="31.3" y="193.2" font-size="9" text-anchor="end" fill="#000" color="#000">40</text>
<text x="31.3" y="211.9" font-size="9" text-anchor="end" fill="#000" color="#000">20</text>
<text x="31.3" y="230.7" font-size="9" text-anchor="end" fill="#000" color="#000">0</text>
<text x="31.3" y="251.1" font-size="9" text-anchor="end" fill="#000" color="#000">&#8722;20</text>
<text x="31.3" y="268.2" font-size="9" text-anchor="end" fill="#000" color="#000">&#8722;40</text>
<text x="31.3" y="280.3" font-size="9" text-anchor="end" fill="#000" color="#000">1.0</text>
<text x="31.3" y="298.3" font-size="9" text-anchor="end" fill="#000" color="#000">0.5</text>
<text x="31.3" y="317.9" font-size="9" text-anchor="end" fill="#000" color="#000">0.0</text>
<text x="31.3" y="337.5" font-size="9" text-anchor="end" fill="#000" color="#000">&#8722;0.5</text>
<text x="31.3" y="354.6" font-size="9" text-anchor="end" fill="#000" color="#000">&#8722;1.0</text>
<text x="31.3" y="368.2" font-size="9" text-anchor="end" fill="#000" color="#000">0.0</text>
<text x="31.3" y="386.9" font-size="9" text-anchor="end" fill="#000" color="#000">&#8722;0.2</text>
<text x="31.3" y="407.3" font-size="9" text-anchor="end" fill="#000" color="#000">&#8722;0.4</text>
<text x="31.3" y="426.1" font-size="9" text-anchor="end" fill="#000" color="#000">&#8722;0.6</text>
<text x="31.3" y="443.3" font-size="9" text-anchor="end" fill="#000" color="#000">&#8722;0.8</text>
<text x="31.3" y="455.6" font-size="9" text-anchor="end" fill="#000" color="#000">60</text>
<text x="31.3" y="470.3" font-size="9" text-anchor="end" fill="#000" color="#000">50</text>
<text x="31.3" y="485.8" font-size="9" text-anchor="end" fill="#000" color="#000">40</text>
<text x="31.3" y="501.3" font-size="9" text-anchor="end" fill="#000" color="#000">30</text>
<text x="31.3" y="516.8" font-size="9" text-anchor="end" fill="#000" color="#000">20</text>
<text x="31.3" y="530.6" font-size="9" text-anchor="end" fill="#000" color="#000">10</text>
<text transform="translate(15,52) rotate(-90)" font-size="9" text-anchor="middle">FeXXI Ic log[DN/s/p]</text>
<text transform="translate(20.3,140) rotate(-90)" font-size="9" text-anchor="middle">OIV Ic log[DN/s/p]</text>
<text transform="translate(10,227.6) rotate(-90)" font-size="9" text-anchor="middle">MgII k<tspan font-size="6.5" dy="1.5">3</tspan><tspan dy="-1.5"> v[km/s]</tspan></text>
<text transform="translate(7.6,315) rotate(-90)" font-size="9" text-anchor="middle">MgII diff</text>
<text transform="translate(7.8,402.2) rotate(-90)" font-size="9" text-anchor="middle">MgII dep</text>
<text transform="translate(13.9,489.6) rotate(-90)" font-size="9" text-anchor="middle">MgII sep[km/s]</text>
<text x="33.5" y="540.6" font-size="9" text-anchor="middle" fill="#000" color="#000">0</text>
<text x="55.3" y="540.6" font-size="9" text-anchor="middle" fill="#000" color="#000">10</text>
<text x="77.1" y="540.6" font-size="9" text-anchor="middle" fill="#000" color="#000">20</text>
<text x="98.9" y="540.6" font-size="9" text-anchor="middle" fill="#000" color="#000">30</text>
<text x="120.7" y="540.6" font-size="9" text-anchor="middle" fill="#000" color="#000">40</text>
<text x="142.5" y="540.6" font-size="9" text-anchor="middle" fill="#000" color="#000">50</text>
<text x="150.4" y="540.6" font-size="9" text-anchor="middle" fill="#000" color="#000">0</text>
<text x="171.7" y="540.6" font-size="9" text-anchor="middle" fill="#000" color="#000">10</text>
<text x="193.5" y="540.6" font-size="9" text-anchor="middle" fill="#000" color="#000">20</text>
<text x="215.3" y="540.6" font-size="9" text-anchor="middle" fill="#000" color="#000">30</text>
<text x="237.1" y="540.6" font-size="9" text-anchor="middle" fill="#000" color="#000">40</text>
<text x="258.9" y="540.6" font-size="9" text-anchor="middle" fill="#000" color="#000">50</text>
<text x="88" y="550.3" font-size="9" text-anchor="middle" fill="#000" color="#000">Time[s]</text>
<text x="205" y="550.3" font-size="9" text-anchor="middle" fill="#000" color="#000">Time[s]</text>
</svg>
</body></html>
